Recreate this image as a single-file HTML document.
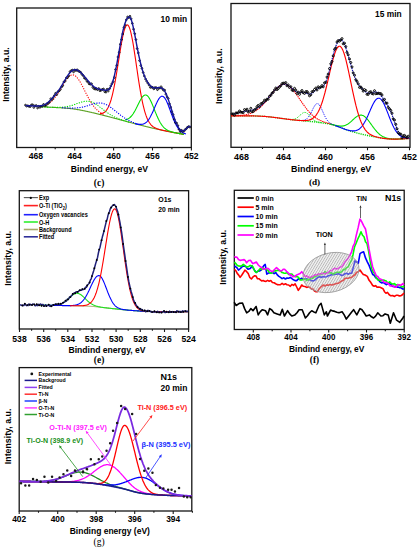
<!DOCTYPE html>
<html><head><meta charset="utf-8"><style>
html,body{margin:0;padding:0;background:#fff;}
body{width:420px;height:550px;overflow:hidden;}
svg{display:block;}
</style></head><body>
<svg width="420" height="550" viewBox="0 0 420 550">
<rect width="420" height="550" fill="#fff"/>
<rect x="16.7" y="8" width="174.6" height="139.5" fill="none" stroke="#151515" stroke-width="1.3"/>
<path d="M35.8 147.5 V150.5 M74.7 147.5 V150.5 M113.6 147.5 V150.5 M152.5 147.5 V150.5 M191.4 147.5 V150.5 M55.2 147.5 V149.3 M94.1 147.5 V149.3 M133.1 147.5 V149.3 M171.9 147.5 V149.3 " stroke="#1a1a1a" stroke-width="1.1" fill="none"/>
<text transform="translate(35.8,159.2) scale(1,1.03)" font-family="Liberation Sans" font-size="8.6" font-weight="bold" text-anchor="middle" fill="#000" >468</text>
<text transform="translate(74.7,159.2) scale(1,1.03)" font-family="Liberation Sans" font-size="8.6" font-weight="bold" text-anchor="middle" fill="#000" >464</text>
<text transform="translate(113.6,159.2) scale(1,1.03)" font-family="Liberation Sans" font-size="8.6" font-weight="bold" text-anchor="middle" fill="#000" >460</text>
<text transform="translate(152.5,159.2) scale(1,1.03)" font-family="Liberation Sans" font-size="8.6" font-weight="bold" text-anchor="middle" fill="#000" >456</text>
<text transform="translate(191.4,159.2) scale(1,1.03)" font-family="Liberation Sans" font-size="8.6" font-weight="bold" text-anchor="middle" fill="#000" >452</text>
<text transform="translate(109.4,171.7) scale(1,1.08)" font-family="Liberation Sans" font-size="8.6" font-weight="bold" text-anchor="middle" fill="#000" >Bindind energy, eV</text>
<text transform="translate(6.4,74.6) rotate(-90) scale(1,0.95)" x="0" y="0" dy="0.36em" font-family="Liberation Sans" font-size="8.6" font-weight="bold" text-anchor="middle">Intensity, a.u.</text>
<text transform="translate(160.5,22) scale(1,1.08)" font-family="Liberation Sans" font-size="8.4" font-weight="bold" text-anchor="start" fill="#000" >10 min</text>
<text transform="translate(99.1,185.5) scale(1,1)" font-family="Liberation Serif" font-size="9.5" font-weight="bold" text-anchor="middle" fill="#000" >(c)</text>
<path d="M40 106.5 L40.5 106.6 L41 106.6 L41.5 106.7 L42 106.7 L42.5 106.7 L43 106.8 L43.5 106.8 L44 106.9 L44.5 106.9 L45 106.9 L45.5 107 L46 107 L46.5 107 L47 107.1 L47.5 107.1 L48 107.1 L48.5 107.1 L49 107.2 L49.5 107.2 L50 107.2 L50.5 107.3 L51 107.3 L51.5 107.3 L52 107.3 L52.5 107.4 L53 107.4 L53.5 107.4 L54 107.4 L54.5 107.5 L55 107.5 L55.5 107.5 L56 107.5 L56.5 107.6 L57 107.6 L57.5 107.6 L58 107.7 L58.5 107.7 L59 107.7 L59.5 107.7 L60 107.8 L60.5 107.8 L61 107.8 L61.5 107.9 L62 107.9 L62.5 107.9 L63 108 L63.5 108 L64 108 L64.5 108.1 L65 108.1 L65.5 108.1 L66 108.2 L66.5 108.2 L67 108.3 L67.5 108.3 L68 108.4 L68.5 108.4 L69 108.4 L69.5 108.5 L70 108.5 L70.5 108.6 L71 108.7 L71.5 108.7 L72 108.8 L72.5 108.8 L73 108.9 L73.5 109 L74 109 L74.5 109.1 L75 109.2 L75.5 109.2 L76 109.3 L76.5 109.4 L77 109.5 L77.5 109.6 L78 109.6 L78.5 109.7 L79 109.8 L79.5 109.9 L80 110 L80.5 110.1 L81 110.2 L81.5 110.3 L82 110.4 L82.5 110.5 L83 110.6 L83.5 110.7 L84 110.8 L84.5 110.9 L85 111 L85.5 111.1 L86 111.2 L86.5 111.3 L87 111.4 L87.5 111.5 L88 111.7 L88.5 111.8 L89 111.9 L89.5 112 L90 112.1 L90.5 112.2 L91 112.3 L91.5 112.4 L92 112.6 L92.5 112.7 L93 112.8 L93.5 112.9 L94 113 L94.5 113.1 L95 113.3 L95.5 113.4 L96 113.5 L96.5 113.6 L97 113.7 L97.5 113.9 L98 114 L98.5 114.1 L99 114.2 L99.5 114.4 L100 114.5 L100.5 114.6 L101 114.7 L101.5 114.8 L102 115 L102.5 115.1 L103 115.2 L103.5 115.4 L104 115.5 L104.5 115.6 L105 115.7 L105.5 115.9 L106 116 L106.5 116.1 L107 116.3 L107.5 116.4 L108 116.5 L108.5 116.7 L109 116.8 L109.5 116.9 L110 117 L110.5 117.2 L111 117.3 L111.5 117.4 L112 117.6 L112.5 117.7 L113 117.8 L113.5 118 L114 118.1 L114.5 118.2 L115 118.4 L115.5 118.5 L116 118.6 L116.5 118.8 L117 118.9 L117.5 119 L118 119.2 L118.5 119.3 L119 119.5 L119.5 119.6 L120 119.7 L120.5 119.9 L121 120 L121.5 120.1 L122 120.3 L122.5 120.4 L123 120.5 L123.5 120.7 L124 120.8 L124.5 120.9 L125 121.1 L125.5 121.2 L126 121.3 L126.5 121.5 L127 121.6 L127.5 121.7 L128 121.9 L128.5 122 L129 122.1 L129.5 122.3 L130 122.4 L130.5 122.5 L131 122.7 L131.5 122.8 L132 122.9 L132.5 123.1 L133 123.2 L133.5 123.3 L134 123.5 L134.5 123.6 L135 123.7 L135.5 123.9 L136 124 L136.5 124.1 L137 124.3 L137.5 124.4 L138 124.5 L138.5 124.7 L139 124.8 L139.5 124.9 L140 125 L140.5 125.2 L141 125.3 L141.5 125.4 L142 125.5 L142.5 125.7 L143 125.8 L143.5 125.9 L144 126 L144.5 126.2 L145 126.3 L145.5 126.4 L146 126.5 L146.5 126.7 L147 126.8 L147.5 126.9 L148 127 L148.5 127.1 L149 127.3 L149.5 127.4 L150 127.5 L150.5 127.6 L151 127.7 L151.5 127.9 L152 128 L152.5 128.1 L153 128.2 L153.5 128.3 L154 128.4 L154.5 128.5 L155 128.7 L155.5 128.8 L156 128.9 L156.5 129 L157 129.1 L157.5 129.2 L158 129.3 L158.5 129.4 L159 129.5 L159.5 129.6 L160 129.8 L160.5 129.9 L161 130 L161.5 130.1 L162 130.2 L162.5 130.3 L163 130.4 L163.5 130.5 L164 130.6 L164.5 130.7 L165 130.8 L165.5 130.9 L166 131 L166.5 131.1 L167 131.2 L167.5 131.3 L168 131.4 L168.5 131.5 L169 131.6 L169.5 131.7 L170 131.8 L170.5 131.9 L171 132 L171.5 132.1 L172 132.2 L172.5 132.3 L173 132.4 L173.5 132.5 L174 132.6 L174.5 132.7 L175 132.8 L175.5 132.8 L176 132.9 L176.5 133 L177 133.1 L177.5 133.2 L178 133.3 L178.5 133.4 L179 133.5 L179.5 133.6 L180 133.7 L180.5 133.7 L181 133.8 L181.5 133.9 L182 134 L182.5 134.1 L183 134.1 L183.5 134.2 L184 134.3" stroke="#5aa020" stroke-width="1.1" fill="none" stroke-linejoin="round" />
<path d="M45 105.2 L45.5 105 L46 104.8 L46.5 104.6 L47 104.4 L47.5 104.2 L48 103.9 L48.5 103.6 L49 103.3 L49.5 103 L50 102.6 L50.5 102.2 L51 101.8 L51.5 101.4 L52 100.9 L52.5 100.4 L53 99.9 L53.5 99.3 L54 98.8 L54.5 98.1 L55 97.5 L55.5 96.8 L56 96.1 L56.5 95.4 L57 94.7 L57.5 93.9 L58 93.1 L58.5 92.3 L59 91.5 L59.5 90.7 L60 89.8 L60.5 89 L61 88.1 L61.5 87.2 L62 86.4 L62.5 85.5 L63 84.7 L63.5 83.8 L64 83 L64.5 82.2 L65 81.4 L65.5 80.7 L66 79.9 L66.5 79.2 L67 78.6 L67.5 78 L68 77.4 L68.5 76.9 L69 76.4 L69.5 76 L70 75.7 L70.5 75.4 L71 75.2 L71.5 75 L72 74.9 L72.5 74.9 L73 74.9 L73.5 75 L74 75.2 L74.5 75.4 L75 75.7 L75.5 76 L76 76.4 L76.5 76.9 L77 77.5 L77.5 78.1 L78 78.7 L78.5 79.4 L79 80.1 L79.5 80.9 L80 81.7 L80.5 82.6 L81 83.5 L81.5 84.4 L82 85.4 L82.5 86.3 L83 87.3 L83.5 88.3 L84 89.3 L84.5 90.3 L85 91.3 L85.5 92.3 L86 93.3 L86.5 94.3 L87 95.2 L87.5 96.2 L88 97.1 L88.5 98.1 L89 99 L89.5 99.8 L90 100.7 L90.5 101.5 L91 102.3 L91.5 103.1 L92 103.9 L92.5 104.6 L93 105.3 L93.5 106 L94 106.6 L94.5 107.2 L95 107.8 L95.5 108.4 L96 108.9 L96.5 109.4 L97 109.9 L97.5 110.3 L98 110.8 L98.5 111.2 L99 111.6 L99.5 112 L100 112.3 L100.5 112.7 L101 113 L101.5 113.3 L102 113.6 L102.5 113.8 L103 114.1 L103.5 114.3 L104 114.6" stroke="#ff0000" stroke-width="1.1" fill="none" stroke-linejoin="round" stroke-dasharray="1.2 1.3" />
<path d="M100 113.7 L100.5 113.6 L101 113.6 L101.5 113.5 L102 113.4 L102.5 113.2 L103 113 L103.5 112.8 L104 112.5 L104.5 112.2 L105 111.8 L105.5 111.3 L106 110.8 L106.5 110.1 L107 109.4 L107.5 108.6 L108 107.7 L108.5 106.7 L109 105.6 L109.5 104.4 L110 103 L110.5 101.6 L111 100 L111.5 98.2 L112 96.3 L112.5 94.3 L113 92.2 L113.5 89.9 L114 87.5 L114.5 84.9 L115 82.3 L115.5 79.5 L116 76.6 L116.5 73.7 L117 70.6 L117.5 67.6 L118 64.4 L118.5 61.3 L119 58.1 L119.5 55 L120 51.9 L120.5 48.8 L121 45.9 L121.5 43 L122 40.3 L122.5 37.7 L123 35.3 L123.5 33.2 L124 31.2 L124.5 29.5 L125 28 L125.5 26.8 L126 25.9 L126.5 25.3 L127 25 L127.5 24.9 L128 25.2 L128.5 25.8 L129 26.7 L129.5 27.9 L130 29.4 L130.5 31.1 L131 33.1 L131.5 35.3 L132 37.8 L132.5 40.4 L133 43.2 L133.5 46.2 L134 49.3 L134.5 52.6 L135 55.9 L135.5 59.2 L136 62.7 L136.5 66.1 L137 69.5 L137.5 72.9 L138 76.3 L138.5 79.6 L139 82.8 L139.5 85.9 L140 88.9 L140.5 91.9 L141 94.7 L141.5 97.3 L142 99.9 L142.5 102.3 L143 104.6 L143.5 106.7 L144 108.7 L144.5 110.6 L145 112.3 L145.5 113.9 L146 115.4 L146.5 116.7 L147 118 L147.5 119.2 L148 120.2 L148.5 121.2 L149 122 L149.5 122.8 L150 123.5 L150.5 124.2 L151 124.8 L151.5 125.3 L152 125.8 L152.5 126.2 L153 126.6 L153.5 127 L154 127.3 L154.5 127.6 L155 127.8 L155.5 128.1 L156 128.3 L156.5 128.5 L157 128.7 L157.5 128.9 L158 129 L158.5 129.2 L159 129.4 L159.5 129.5 L160 129.6 L160.5 129.8 L161 129.9 L161.5 130 L162 130.1 L162.5 130.2 L163 130.4 L163.5 130.5 L164 130.6 L164.5 130.7 L165 130.8 L165.5 130.9 L166 131 L166.5 131.1 L167 131.2 L167.5 131.3 L168 131.4 L168.5 131.5 L169 131.6 L169.5 131.7 L170 131.8 L170.5 131.9 L171 132 L171.5 132.1 L172 132.2 L172.5 132.3 L173 132.4 L173.5 132.5 L174 132.6 L174.5 132.7 L175 132.8 L175.5 132.8 L176 132.9 L176.5 133 L177 133.1 L177.5 133.2 L178 133.3 L178.5 133.4 L179 133.5 L179.5 133.6 L180 133.7 L180.5 133.7 L181 133.8 L181.5 133.9 L182 134 L182.5 134.1 L183 134.1 L183.5 134.2 L184 134.3" stroke="#ff0000" stroke-width="1.1" fill="none" stroke-linejoin="round" />
<path d="M42 106.7 L42.5 106.7 L43 106.8 L43.5 106.8 L44 106.8 L44.5 106.9 L45 106.9 L45.5 106.9 L46 107 L46.5 107 L47 107 L47.5 107.1 L48 107.1 L48.5 107.1 L49 107.1 L49.5 107.2 L50 107.2 L50.5 107.2 L51 107.2 L51.5 107.2 L52 107.3 L52.5 107.3 L53 107.3 L53.5 107.3 L54 107.3 L54.5 107.3 L55 107.3 L55.5 107.3 L56 107.4 L56.5 107.4 L57 107.4 L57.5 107.4 L58 107.4 L58.5 107.3 L59 107.3 L59.5 107.3 L60 107.3 L60.5 107.3 L61 107.3 L61.5 107.2 L62 107.2 L62.5 107.2 L63 107.1 L63.5 107.1 L64 107 L64.5 107 L65 106.9 L65.5 106.8 L66 106.8 L66.5 106.7 L67 106.6 L67.5 106.5 L68 106.4 L68.5 106.3 L69 106.2 L69.5 106.1 L70 105.9 L70.5 105.8 L71 105.7 L71.5 105.5 L72 105.4 L72.5 105.2 L73 105 L73.5 104.9 L74 104.7 L74.5 104.5 L75 104.4 L75.5 104.2 L76 104 L76.5 103.8 L77 103.6 L77.5 103.4 L78 103.3 L78.5 103.1 L79 102.9 L79.5 102.7 L80 102.6 L80.5 102.4 L81 102.3 L81.5 102.1 L82 102 L82.5 101.9 L83 101.7 L83.5 101.6 L84 101.5 L84.5 101.4 L85 101.4 L85.5 101.3 L86 101.3 L86.5 101.3 L87 101.3 L87.5 101.3 L88 101.3 L88.5 101.3 L89 101.4 L89.5 101.5 L90 101.6 L90.5 101.7 L91 101.9 L91.5 102 L92 102.2 L92.5 102.4 L93 102.6 L93.5 102.8 L94 103.1 L94.5 103.3 L95 103.6 L95.5 103.9 L96 104.2 L96.5 104.5 L97 104.9 L97.5 105.2 L98 105.6 L98.5 105.9 L99 106.3 L99.5 106.7 L100 107.1 L100.5 107.4 L101 107.8 L101.5 108.2 L102 108.6 L102.5 109 L103 109.4 L103.5 109.8 L104 110.2 L104.5 110.6 L105 110.9 L105.5 111.3 L106 111.7 L106.5 112 L107 112.4 L107.5 112.8 L108 113.1 L108.5 113.5 L109 113.8 L109.5 114.1 L110 114.4 L110.5 114.7 L111 115 L111.5 115.3 L112 115.6 L112.5 115.9 L113 116.2 L113.5 116.4 L114 116.7 L114.5 116.9 L115 117.2 L115.5 117.4 L116 117.6 L116.5 117.9 L117 118.1 L117.5 118.3 L118 118.5 L118.5 118.7 L119 118.9 L119.5 119.1 L120 119.3 L120.5 119.4 L121 119.6 L121.5 119.8 L122 120 L122.5 120.1 L123 120.3 L123.5 120.5 L124 120.6 L124.5 120.8 L125 120.9 L125.5 121.1 L126 121.2 L126.5 121.4 L127 121.5 L127.5 121.7 L128 121.8 L128.5 122 L129 122.1 L129.5 122.2 L130 122.4" stroke="#00e000" stroke-width="1.1" fill="none" stroke-linejoin="round" stroke-dasharray="1.2 1.3" />
<path d="M125 119.8 L125.5 119.7 L126 119.6 L126.5 119.5 L127 119.3 L127.5 119.1 L128 118.9 L128.5 118.6 L129 118.3 L129.5 117.9 L130 117.5 L130.5 117 L131 116.5 L131.5 116 L132 115.4 L132.5 114.7 L133 114 L133.5 113.2 L134 112.4 L134.5 111.5 L135 110.7 L135.5 109.7 L136 108.8 L136.5 107.8 L137 106.8 L137.5 105.7 L138 104.7 L138.5 103.7 L139 102.7 L139.5 101.7 L140 100.8 L140.5 99.9 L141 99 L141.5 98.2 L142 97.5 L142.5 96.9 L143 96.3 L143.5 95.8 L144 95.4 L144.5 95.2 L145 95 L145.5 95 L146 95 L146.5 95.2 L147 95.5 L147.5 95.9 L148 96.4 L148.5 97 L149 97.8 L149.5 98.6 L150 99.5 L150.5 100.4 L151 101.5 L151.5 102.6 L152 103.7 L152.5 104.9 L153 106.1 L153.5 107.4 L154 108.6 L154.5 109.9 L155 111.2 L155.5 112.4 L156 113.6 L156.5 114.8 L157 116 L157.5 117.1 L158 118.2 L158.5 119.3 L159 120.3 L159.5 121.3 L160 122.2 L160.5 123 L161 123.8 L161.5 124.6 L162 125.3 L162.5 125.9 L163 126.5 L163.5 127.1 L164 127.6 L164.5 128.1 L165 128.5 L165.5 128.9 L166 129.3 L166.5 129.6 L167 129.9 L167.5 130.2 L168 130.5 L168.5 130.7 L169 130.9 L169.5 131.1 L170 131.3 L170.5 131.5 L171 131.7 L171.5 131.8 L172 132 L172.5 132.1 L173 132.2 L173.5 132.3 L174 132.5 L174.5 132.6 L175 132.7 L175.5 132.8 L176 132.9 L176.5 133 L177 133.1 L177.5 133.2 L178 133.3 L178.5 133.4 L179 133.5 L179.5 133.6 L180 133.6 L180.5 133.7 L181 133.8 L181.5 133.9 L182 134 L182.5 134.1 L183 134.1 L183.5 134.2 L184 134.2" stroke="#00e000" stroke-width="1.1" fill="none" stroke-linejoin="round" />
<path d="M62 107.8 L62.5 107.8 L63 107.8 L63.5 107.9 L64 107.9 L64.5 107.9 L65 107.9 L65.5 108 L66 108 L66.5 108 L67 108 L67.5 108 L68 108 L68.5 108 L69 108.1 L69.5 108.1 L70 108.1 L70.5 108.1 L71 108.1 L71.5 108.1 L72 108.1 L72.5 108.1 L73 108.1 L73.5 108.1 L74 108 L74.5 108 L75 108 L75.5 108 L76 107.9 L76.5 107.9 L77 107.9 L77.5 107.8 L78 107.8 L78.5 107.7 L79 107.7 L79.5 107.6 L80 107.5 L80.5 107.5 L81 107.4 L81.5 107.3 L82 107.2 L82.5 107.1 L83 107 L83.5 106.9 L84 106.7 L84.5 106.6 L85 106.5 L85.5 106.3 L86 106.2 L86.5 106.1 L87 105.9 L87.5 105.7 L88 105.6 L88.5 105.4 L89 105.3 L89.5 105.1 L90 104.9 L90.5 104.8 L91 104.6 L91.5 104.5 L92 104.3 L92.5 104.2 L93 104 L93.5 103.9 L94 103.7 L94.5 103.6 L95 103.5 L95.5 103.4 L96 103.3 L96.5 103.2 L97 103.1 L97.5 103.1 L98 103 L98.5 103 L99 103 L99.5 103 L100 103 L100.5 103 L101 103.1 L101.5 103.1 L102 103.2 L102.5 103.3 L103 103.4 L103.5 103.6 L104 103.7 L104.5 103.9 L105 104.1 L105.5 104.3 L106 104.5 L106.5 104.7 L107 105 L107.5 105.3 L108 105.6 L108.5 105.9 L109 106.2 L109.5 106.5 L110 106.8 L110.5 107.2 L111 107.5 L111.5 107.9 L112 108.3 L112.5 108.7 L113 109.1 L113.5 109.5 L114 109.9 L114.5 110.3 L115 110.7 L115.5 111.1 L116 111.5 L116.5 111.9 L117 112.3 L117.5 112.7 L118 113.1 L118.5 113.5 L119 113.9 L119.5 114.3 L120 114.7 L120.5 115.1 L121 115.5 L121.5 115.8 L122 116.2 L122.5 116.6 L123 116.9 L123.5 117.3 L124 117.6 L124.5 117.9 L125 118.3 L125.5 118.6 L126 118.9 L126.5 119.2 L127 119.5 L127.5 119.7 L128 120 L128.5 120.3 L129 120.6 L129.5 120.8 L130 121.1 L130.5 121.3 L131 121.5 L131.5 121.7 L132 122 L132.5 122.2 L133 122.4 L133.5 122.6 L134 122.8 L134.5 123 L135 123.2 L135.5 123.4 L136 123.5 L136.5 123.7 L137 123.9 L137.5 124 L138 124.2 L138.5 124.4 L139 124.5 L139.5 124.7 L140 124.8" stroke="#0000ff" stroke-width="1.1" fill="none" stroke-linejoin="round" stroke-dasharray="1.2 1.3" />
<path d="M135 123.6 L135.5 123.8 L136 123.9 L136.5 124 L137 124.1 L137.5 124.1 L138 124.2 L138.5 124.3 L139 124.3 L139.5 124.4 L140 124.4 L140.5 124.4 L141 124.4 L141.5 124.3 L142 124.3 L142.5 124.2 L143 124.1 L143.5 123.9 L144 123.7 L144.5 123.5 L145 123.2 L145.5 122.9 L146 122.5 L146.5 122.1 L147 121.6 L147.5 121 L148 120.4 L148.5 119.8 L149 119.1 L149.5 118.3 L150 117.5 L150.5 116.6 L151 115.6 L151.5 114.6 L152 113.6 L152.5 112.5 L153 111.4 L153.5 110.3 L154 109.1 L154.5 107.9 L155 106.7 L155.5 105.6 L156 104.4 L156.5 103.3 L157 102.3 L157.5 101.2 L158 100.3 L158.5 99.4 L159 98.6 L159.5 98 L160 97.4 L160.5 96.9 L161 96.6 L161.5 96.3 L162 96.2 L162.5 96.3 L163 96.5 L163.5 96.8 L164 97.2 L164.5 97.7 L165 98.4 L165.5 99.2 L166 100.1 L166.5 101.1 L167 102.2 L167.5 103.3 L168 104.6 L168.5 105.8 L169 107.2 L169.5 108.5 L170 109.9 L170.5 111.3 L171 112.7 L171.5 114 L172 115.4 L172.5 116.7 L173 118 L173.5 119.3 L174 120.5 L174.5 121.6 L175 122.7 L175.5 123.8 L176 124.8 L176.5 125.7 L177 126.5 L177.5 127.3 L178 128.1 L178.5 128.8 L179 129.4 L179.5 130 L180 130.5 L180.5 131 L181 131.5 L181.5 131.9 L182 132.3 L182.5 132.6 L183 132.9 L183.5 133.1 L184 133.3 L184.5 133.5 L185 133.7 L185.5 133.8 L186 133.9" stroke="#0000ff" stroke-width="1.1" fill="none" stroke-linejoin="round" />
<path d="M24.6 105.1 a0.85 0.85 0 1 0 1.7 0 a0.85 0.85 0 1 0 -1.7 0 M25.8 106.1 a0.85 0.85 0 1 0 1.7 0 a0.85 0.85 0 1 0 -1.7 0 M27 105.7 a0.85 0.85 0 1 0 1.7 0 a0.85 0.85 0 1 0 -1.7 0 M28.2 106.5 a0.85 0.85 0 1 0 1.7 0 a0.85 0.85 0 1 0 -1.7 0 M29.4 106.6 a0.85 0.85 0 1 0 1.7 0 a0.85 0.85 0 1 0 -1.7 0 M30.6 104.9 a0.85 0.85 0 1 0 1.7 0 a0.85 0.85 0 1 0 -1.7 0 M31.8 104.8 a0.85 0.85 0 1 0 1.7 0 a0.85 0.85 0 1 0 -1.7 0 M33 107.5 a0.85 0.85 0 1 0 1.7 0 a0.85 0.85 0 1 0 -1.7 0 M34.2 105.7 a0.85 0.85 0 1 0 1.7 0 a0.85 0.85 0 1 0 -1.7 0 M35.5 105.6 a0.85 0.85 0 1 0 1.7 0 a0.85 0.85 0 1 0 -1.7 0 M36.7 108 a0.85 0.85 0 1 0 1.7 0 a0.85 0.85 0 1 0 -1.7 0 M37.9 106.3 a0.85 0.85 0 1 0 1.7 0 a0.85 0.85 0 1 0 -1.7 0 M39.1 107.4 a0.85 0.85 0 1 0 1.7 0 a0.85 0.85 0 1 0 -1.7 0 M40.3 106.1 a0.85 0.85 0 1 0 1.7 0 a0.85 0.85 0 1 0 -1.7 0 M41.5 106.3 a0.85 0.85 0 1 0 1.7 0 a0.85 0.85 0 1 0 -1.7 0 M42.7 104.4 a0.85 0.85 0 1 0 1.7 0 a0.85 0.85 0 1 0 -1.7 0 M43.9 105.5 a0.85 0.85 0 1 0 1.7 0 a0.85 0.85 0 1 0 -1.7 0 M45.1 105.5 a0.85 0.85 0 1 0 1.7 0 a0.85 0.85 0 1 0 -1.7 0 M46.3 103.6 a0.85 0.85 0 1 0 1.7 0 a0.85 0.85 0 1 0 -1.7 0 M47.5 103.3 a0.85 0.85 0 1 0 1.7 0 a0.85 0.85 0 1 0 -1.7 0 M48.7 101.9 a0.85 0.85 0 1 0 1.7 0 a0.85 0.85 0 1 0 -1.7 0 M49.9 98.8 a0.85 0.85 0 1 0 1.7 0 a0.85 0.85 0 1 0 -1.7 0 M51.1 99.7 a0.85 0.85 0 1 0 1.7 0 a0.85 0.85 0 1 0 -1.7 0 M52.3 97.9 a0.85 0.85 0 1 0 1.7 0 a0.85 0.85 0 1 0 -1.7 0 M53.5 95.6 a0.85 0.85 0 1 0 1.7 0 a0.85 0.85 0 1 0 -1.7 0 M54.7 93.3 a0.85 0.85 0 1 0 1.7 0 a0.85 0.85 0 1 0 -1.7 0 M55.9 94.6 a0.85 0.85 0 1 0 1.7 0 a0.85 0.85 0 1 0 -1.7 0 M57.1 91.7 a0.85 0.85 0 1 0 1.7 0 a0.85 0.85 0 1 0 -1.7 0 M58.3 90.8 a0.85 0.85 0 1 0 1.7 0 a0.85 0.85 0 1 0 -1.7 0 M59.5 89.5 a0.85 0.85 0 1 0 1.7 0 a0.85 0.85 0 1 0 -1.7 0 M60.7 87 a0.85 0.85 0 1 0 1.7 0 a0.85 0.85 0 1 0 -1.7 0 M61.9 85.6 a0.85 0.85 0 1 0 1.7 0 a0.85 0.85 0 1 0 -1.7 0 M63.1 81.9 a0.85 0.85 0 1 0 1.7 0 a0.85 0.85 0 1 0 -1.7 0 M64.3 81.1 a0.85 0.85 0 1 0 1.7 0 a0.85 0.85 0 1 0 -1.7 0 M65.5 77.9 a0.85 0.85 0 1 0 1.7 0 a0.85 0.85 0 1 0 -1.7 0 M66.7 77.6 a0.85 0.85 0 1 0 1.7 0 a0.85 0.85 0 1 0 -1.7 0 M67.9 75.8 a0.85 0.85 0 1 0 1.7 0 a0.85 0.85 0 1 0 -1.7 0 M69.1 71.8 a0.85 0.85 0 1 0 1.7 0 a0.85 0.85 0 1 0 -1.7 0 M70.3 70.7 a0.85 0.85 0 1 0 1.7 0 a0.85 0.85 0 1 0 -1.7 0 M71.5 70.1 a0.85 0.85 0 1 0 1.7 0 a0.85 0.85 0 1 0 -1.7 0 M72.7 71.9 a0.85 0.85 0 1 0 1.7 0 a0.85 0.85 0 1 0 -1.7 0 M73.9 69.9 a0.85 0.85 0 1 0 1.7 0 a0.85 0.85 0 1 0 -1.7 0 M75.1 70.6 a0.85 0.85 0 1 0 1.7 0 a0.85 0.85 0 1 0 -1.7 0 M76.3 69.8 a0.85 0.85 0 1 0 1.7 0 a0.85 0.85 0 1 0 -1.7 0 M77.5 71.1 a0.85 0.85 0 1 0 1.7 0 a0.85 0.85 0 1 0 -1.7 0 M78.7 71.5 a0.85 0.85 0 1 0 1.7 0 a0.85 0.85 0 1 0 -1.7 0 M79.9 72.4 a0.85 0.85 0 1 0 1.7 0 a0.85 0.85 0 1 0 -1.7 0 M81.1 74.3 a0.85 0.85 0 1 0 1.7 0 a0.85 0.85 0 1 0 -1.7 0 M82.3 75.6 a0.85 0.85 0 1 0 1.7 0 a0.85 0.85 0 1 0 -1.7 0 M83.5 78 a0.85 0.85 0 1 0 1.7 0 a0.85 0.85 0 1 0 -1.7 0 M84.7 78.7 a0.85 0.85 0 1 0 1.7 0 a0.85 0.85 0 1 0 -1.7 0 M85.9 80.9 a0.85 0.85 0 1 0 1.7 0 a0.85 0.85 0 1 0 -1.7 0 M87.1 82.1 a0.85 0.85 0 1 0 1.7 0 a0.85 0.85 0 1 0 -1.7 0 M88.3 83.9 a0.85 0.85 0 1 0 1.7 0 a0.85 0.85 0 1 0 -1.7 0 M89.5 84.2 a0.85 0.85 0 1 0 1.7 0 a0.85 0.85 0 1 0 -1.7 0 M90.7 83.8 a0.85 0.85 0 1 0 1.7 0 a0.85 0.85 0 1 0 -1.7 0 M91.9 87.2 a0.85 0.85 0 1 0 1.7 0 a0.85 0.85 0 1 0 -1.7 0 M93.1 88.5 a0.85 0.85 0 1 0 1.7 0 a0.85 0.85 0 1 0 -1.7 0 M94.3 89.2 a0.85 0.85 0 1 0 1.7 0 a0.85 0.85 0 1 0 -1.7 0 M95.5 88.8 a0.85 0.85 0 1 0 1.7 0 a0.85 0.85 0 1 0 -1.7 0 M96.7 89.7 a0.85 0.85 0 1 0 1.7 0 a0.85 0.85 0 1 0 -1.7 0 M97.9 88.5 a0.85 0.85 0 1 0 1.7 0 a0.85 0.85 0 1 0 -1.7 0 M99.1 90.8 a0.85 0.85 0 1 0 1.7 0 a0.85 0.85 0 1 0 -1.7 0 M100.3 90.2 a0.85 0.85 0 1 0 1.7 0 a0.85 0.85 0 1 0 -1.7 0 M101.5 89.4 a0.85 0.85 0 1 0 1.7 0 a0.85 0.85 0 1 0 -1.7 0 M102.7 89 a0.85 0.85 0 1 0 1.7 0 a0.85 0.85 0 1 0 -1.7 0 M103.9 91.7 a0.85 0.85 0 1 0 1.7 0 a0.85 0.85 0 1 0 -1.7 0 M105.1 92.2 a0.85 0.85 0 1 0 1.7 0 a0.85 0.85 0 1 0 -1.7 0 M106.3 89.2 a0.85 0.85 0 1 0 1.7 0 a0.85 0.85 0 1 0 -1.7 0 M107.5 91 a0.85 0.85 0 1 0 1.7 0 a0.85 0.85 0 1 0 -1.7 0 M108.7 88.6 a0.85 0.85 0 1 0 1.7 0 a0.85 0.85 0 1 0 -1.7 0 M109.9 85.9 a0.85 0.85 0 1 0 1.7 0 a0.85 0.85 0 1 0 -1.7 0 M111.1 83.7 a0.85 0.85 0 1 0 1.7 0 a0.85 0.85 0 1 0 -1.7 0 M112.3 81.7 a0.85 0.85 0 1 0 1.7 0 a0.85 0.85 0 1 0 -1.7 0 M113.5 77.5 a0.85 0.85 0 1 0 1.7 0 a0.85 0.85 0 1 0 -1.7 0 M114.7 69.5 a0.85 0.85 0 1 0 1.7 0 a0.85 0.85 0 1 0 -1.7 0 M115.9 65.3 a0.85 0.85 0 1 0 1.7 0 a0.85 0.85 0 1 0 -1.7 0 M117.1 57 a0.85 0.85 0 1 0 1.7 0 a0.85 0.85 0 1 0 -1.7 0 M118.3 52.3 a0.85 0.85 0 1 0 1.7 0 a0.85 0.85 0 1 0 -1.7 0 M119.5 44.3 a0.85 0.85 0 1 0 1.7 0 a0.85 0.85 0 1 0 -1.7 0 M120.7 39.6 a0.85 0.85 0 1 0 1.7 0 a0.85 0.85 0 1 0 -1.7 0 M121.9 34 a0.85 0.85 0 1 0 1.7 0 a0.85 0.85 0 1 0 -1.7 0 M123.1 27.5 a0.85 0.85 0 1 0 1.7 0 a0.85 0.85 0 1 0 -1.7 0 M124.3 25 a0.85 0.85 0 1 0 1.7 0 a0.85 0.85 0 1 0 -1.7 0 M125.5 19.8 a0.85 0.85 0 1 0 1.7 0 a0.85 0.85 0 1 0 -1.7 0 M126.7 17 a0.85 0.85 0 1 0 1.7 0 a0.85 0.85 0 1 0 -1.7 0 M127.9 17.7 a0.85 0.85 0 1 0 1.7 0 a0.85 0.85 0 1 0 -1.7 0 M129.1 16.2 a0.85 0.85 0 1 0 1.7 0 a0.85 0.85 0 1 0 -1.7 0 M130.3 18.8 a0.85 0.85 0 1 0 1.7 0 a0.85 0.85 0 1 0 -1.7 0 M131.5 23.4 a0.85 0.85 0 1 0 1.7 0 a0.85 0.85 0 1 0 -1.7 0 M132.7 29.2 a0.85 0.85 0 1 0 1.7 0 a0.85 0.85 0 1 0 -1.7 0 M133.9 33.7 a0.85 0.85 0 1 0 1.7 0 a0.85 0.85 0 1 0 -1.7 0 M135.1 39.6 a0.85 0.85 0 1 0 1.7 0 a0.85 0.85 0 1 0 -1.7 0 M136.3 48.6 a0.85 0.85 0 1 0 1.7 0 a0.85 0.85 0 1 0 -1.7 0 M137.5 52.9 a0.85 0.85 0 1 0 1.7 0 a0.85 0.85 0 1 0 -1.7 0 M138.7 60.6 a0.85 0.85 0 1 0 1.7 0 a0.85 0.85 0 1 0 -1.7 0 M139.9 65.5 a0.85 0.85 0 1 0 1.7 0 a0.85 0.85 0 1 0 -1.7 0 M141.1 68.3 a0.85 0.85 0 1 0 1.7 0 a0.85 0.85 0 1 0 -1.7 0 M142.3 72.5 a0.85 0.85 0 1 0 1.7 0 a0.85 0.85 0 1 0 -1.7 0 M143.5 76 a0.85 0.85 0 1 0 1.7 0 a0.85 0.85 0 1 0 -1.7 0 M144.7 79.1 a0.85 0.85 0 1 0 1.7 0 a0.85 0.85 0 1 0 -1.7 0 M145.9 81.3 a0.85 0.85 0 1 0 1.7 0 a0.85 0.85 0 1 0 -1.7 0 M147.1 83.2 a0.85 0.85 0 1 0 1.7 0 a0.85 0.85 0 1 0 -1.7 0 M148.3 85.1 a0.85 0.85 0 1 0 1.7 0 a0.85 0.85 0 1 0 -1.7 0 M149.5 87.4 a0.85 0.85 0 1 0 1.7 0 a0.85 0.85 0 1 0 -1.7 0 M150.7 87.1 a0.85 0.85 0 1 0 1.7 0 a0.85 0.85 0 1 0 -1.7 0 M151.8 87.5 a0.85 0.85 0 1 0 1.7 0 a0.85 0.85 0 1 0 -1.7 0 M153 88.9 a0.85 0.85 0 1 0 1.7 0 a0.85 0.85 0 1 0 -1.7 0 M154.2 87.5 a0.85 0.85 0 1 0 1.7 0 a0.85 0.85 0 1 0 -1.7 0 M155.4 87.7 a0.85 0.85 0 1 0 1.7 0 a0.85 0.85 0 1 0 -1.7 0 M156.6 89.7 a0.85 0.85 0 1 0 1.7 0 a0.85 0.85 0 1 0 -1.7 0 M157.8 88.1 a0.85 0.85 0 1 0 1.7 0 a0.85 0.85 0 1 0 -1.7 0 M159 88.1 a0.85 0.85 0 1 0 1.7 0 a0.85 0.85 0 1 0 -1.7 0 M160.2 86.7 a0.85 0.85 0 1 0 1.7 0 a0.85 0.85 0 1 0 -1.7 0 M161.4 88.6 a0.85 0.85 0 1 0 1.7 0 a0.85 0.85 0 1 0 -1.7 0 M162.6 90.2 a0.85 0.85 0 1 0 1.7 0 a0.85 0.85 0 1 0 -1.7 0 M163.8 90.1 a0.85 0.85 0 1 0 1.7 0 a0.85 0.85 0 1 0 -1.7 0 M165 94.2 a0.85 0.85 0 1 0 1.7 0 a0.85 0.85 0 1 0 -1.7 0 M166.2 97 a0.85 0.85 0 1 0 1.7 0 a0.85 0.85 0 1 0 -1.7 0 M167.4 98.5 a0.85 0.85 0 1 0 1.7 0 a0.85 0.85 0 1 0 -1.7 0 M168.6 103.9 a0.85 0.85 0 1 0 1.7 0 a0.85 0.85 0 1 0 -1.7 0 M169.8 107.2 a0.85 0.85 0 1 0 1.7 0 a0.85 0.85 0 1 0 -1.7 0 M171 111.8 a0.85 0.85 0 1 0 1.7 0 a0.85 0.85 0 1 0 -1.7 0 M172.2 114.6 a0.85 0.85 0 1 0 1.7 0 a0.85 0.85 0 1 0 -1.7 0 M173.4 119.3 a0.85 0.85 0 1 0 1.7 0 a0.85 0.85 0 1 0 -1.7 0 M174.6 122.6 a0.85 0.85 0 1 0 1.7 0 a0.85 0.85 0 1 0 -1.7 0 M175.8 123.1 a0.85 0.85 0 1 0 1.7 0 a0.85 0.85 0 1 0 -1.7 0 M177 125.6 a0.85 0.85 0 1 0 1.7 0 a0.85 0.85 0 1 0 -1.7 0 M178.2 129.4 a0.85 0.85 0 1 0 1.7 0 a0.85 0.85 0 1 0 -1.7 0 M179.4 131.7 a0.85 0.85 0 1 0 1.7 0 a0.85 0.85 0 1 0 -1.7 0 M180.6 130.3 a0.85 0.85 0 1 0 1.7 0 a0.85 0.85 0 1 0 -1.7 0 M181.8 131.2 a0.85 0.85 0 1 0 1.7 0 a0.85 0.85 0 1 0 -1.7 0 M183 131.3 a0.85 0.85 0 1 0 1.7 0 a0.85 0.85 0 1 0 -1.7 0 M184.2 129.7 a0.85 0.85 0 1 0 1.7 0 a0.85 0.85 0 1 0 -1.7 0 M185.4 128.7 a0.85 0.85 0 1 0 1.7 0 a0.85 0.85 0 1 0 -1.7 0 M186.6 127.3 a0.85 0.85 0 1 0 1.7 0 a0.85 0.85 0 1 0 -1.7 0 M187.8 126.6 a0.85 0.85 0 1 0 1.7 0 a0.85 0.85 0 1 0 -1.7 0 M189 127.1 a0.85 0.85 0 1 0 1.7 0 a0.85 0.85 0 1 0 -1.7 0 " stroke="#000" stroke-width="0.9" fill="none"/>
<path d="M25.5 105.5 L26 105.6 L26.5 105.6 L27 105.6 L27.5 105.7 L28 105.7 L28.5 105.7 L29 105.8 L29.5 105.8 L30 105.8 L30.5 105.8 L31 105.9 L31.5 105.9 L32 105.9 L32.5 105.9 L33 106 L33.5 106 L34 106 L34.5 106 L35 106 L35.5 106 L36 106 L36.5 106.1 L37 106.1 L37.5 106 L38 106 L38.5 106 L39 106 L39.5 105.9 L40 105.9 L40.5 105.8 L41 105.8 L41.5 105.7 L42 105.6 L42.5 105.5 L43 105.3 L43.5 105.1 L44 104.9 L44.5 104.7 L45 104.5 L45.5 104.2 L46 103.9 L46.5 103.5 L47 103.2 L47.5 102.8 L48 102.4 L48.5 101.9 L49 101.5 L49.5 101 L50 100.5 L50.5 100 L51 99.5 L51.5 98.9 L52 98.4 L52.5 97.8 L53 97.3 L53.5 96.7 L54 96.2 L54.5 95.6 L55 95 L55.5 94.4 L56 93.8 L56.5 93.2 L57 92.6 L57.5 92 L58 91.3 L58.5 90.6 L59 89.9 L59.5 89.1 L60 88.4 L60.5 87.6 L61 86.8 L61.5 85.9 L62 85.1 L62.5 84.2 L63 83.4 L63.5 82.5 L64 81.6 L64.5 80.8 L65 79.9 L65.5 79.1 L66 78.2 L66.5 77.4 L67 76.6 L67.5 75.8 L68 75.1 L68.5 74.4 L69 73.8 L69.5 73.2 L70 72.6 L70.5 72.1 L71 71.6 L71.5 71.2 L72 70.8 L72.5 70.5 L73 70.2 L73.5 70 L74 69.9 L74.5 69.8 L75 69.7 L75.5 69.7 L76 69.8 L76.5 69.9 L77 70 L77.5 70.2 L78 70.5 L78.5 70.8 L79 71.1 L79.5 71.5 L80 71.9 L80.5 72.3 L81 72.8 L81.5 73.2 L82 73.8 L82.5 74.3 L83 74.8 L83.5 75.4 L84 76 L84.5 76.5 L85 77.1 L85.5 77.7 L86 78.3 L86.5 78.9 L87 79.5 L87.5 80.1 L88 80.7 L88.5 81.3 L89 81.8 L89.5 82.4 L90 82.9 L90.5 83.5 L91 84 L91.5 84.5 L92 85 L92.5 85.4 L93 85.9 L93.5 86.3 L94 86.7 L94.5 87.1 L95 87.4 L95.5 87.7 L96 88 L96.5 88.2 L97 88.5 L97.5 88.7 L98 88.8 L98.5 89 L99 89.1 L99.5 89.2 L100 89.3 L100.5 89.4 L101 89.5 L101.5 89.6 L102 89.7 L102.5 89.8 L103 89.9 L103.5 90 L104 90 L104.5 90.1 L105 90.2 L105.5 90.2 L106 90.3 L106.5 90.2 L107 90.1 L107.5 90 L108 89.8 L108.5 89.5 L109 89 L109.5 88.5 L110 87.8 L110.5 87 L111 86.1 L111.5 85 L112 83.7 L112.5 82.3 L113 80.7 L113.5 79 L114 77.1 L114.5 75.1 L115 72.9 L115.5 70.6 L116 68.1 L116.5 65.6 L117 63 L117.5 60.2 L118 57.5 L118.5 54.6 L119 51.8 L119.5 48.9 L120 46.1 L120.5 43.3 L121 40.6 L121.5 37.9 L122 35.4 L122.5 33 L123 30.7 L123.5 28.6 L124 26.7 L124.5 24.9 L125 23.3 L125.5 21.9 L126 20.6 L126.5 19.6 L127 18.7 L127.5 18 L128 17.4 L128.5 17.1 L129 16.9 L129.5 17.1 L130 17.4 L130.5 18.1 L131 19.1 L131.5 20.5 L132 22.1 L132.5 24.1 L133 26.2 L133.5 28.5 L134 30.9 L134.5 33.4 L135 35.9 L135.5 38.5 L136 41.2 L136.5 43.8 L137 46.5 L137.5 49 L138 51.6 L138.5 54.1 L139 56.4 L139.5 58.7 L140 60.9 L140.5 63 L141 65 L141.5 66.9 L142 68.7 L142.5 70.3 L143 71.9 L143.5 73.3 L144 74.7 L144.5 76 L145 77.2 L145.5 78.3 L146 79.3 L146.5 80.3 L147 81.2 L147.5 82 L148 82.8 L148.5 83.5 L149 84.2 L149.5 84.8 L150 85.3 L150.5 85.8 L151 86.2 L151.5 86.6 L152 87 L152.5 87.3 L153 87.5 L153.5 87.7 L154 87.8 L154.5 87.9 L155 87.9 L155.5 88 L156 87.9 L156.5 87.9 L157 87.8 L157.5 87.8 L158 87.7 L158.5 87.6 L159 87.6 L159.5 87.6 L160 87.6 L160.5 87.7 L161 87.8 L161.5 88 L162 88.2 L162.5 88.6 L163 89 L163.5 89.5 L164 90.2 L164.5 90.9 L165 91.7 L165.5 92.6 L166 93.6 L166.5 94.8 L167 96 L167.5 97.3 L168 98.6 L168.5 100.1 L169 101.6 L169.5 103.1 L170 104.7 L170.5 106.3 L171 107.9 L171.5 109.5 L172 111.2 L172.5 112.8 L173 114.3 L173.5 115.8 L174 117.3 L174.5 118.8 L175 120.1 L175.5 121.4 L176 122.6 L176.5 123.8 L177 124.8 L177.5 125.8 L178 126.7 L178.5 127.6 L179 128.3 L179.5 129 L180 129.5 L180.5 130 L181 130.4 L181.5 130.7 L182 130.8 L182.5 130.9 L183 130.9 L183.5 130.8 L184 130.6 L184.5 130.3 L185 129.9 L185.5 129.5 L186 129 L186.5 128.5 L187 128 L187.5 127.5 L188 127.1 L188.5 126.8 L189 126.5 L189.5 126.4 L190 126.4 L190.5 126.5" stroke="#16169a" stroke-width="1.4" fill="none" stroke-linejoin="round" />
<rect x="231" y="3.5" width="179" height="143.8" fill="none" stroke="#151515" stroke-width="1.3"/>
<path d="M241.5 147.3 V150.3 M283.5 147.3 V150.3 M325.5 147.3 V150.3 M367.5 147.3 V150.3 M409.5 147.3 V150.3 M262.5 147.3 V149.1 M304.5 147.3 V149.1 M346.5 147.3 V149.1 M388.5 147.3 V149.1 " stroke="#1a1a1a" stroke-width="1.1" fill="none"/>
<text transform="translate(241.5,159.5) scale(1,1.03)" font-family="Liberation Sans" font-size="8.9" font-weight="bold" text-anchor="middle" fill="#000" >468</text>
<text transform="translate(283.5,159.5) scale(1,1.03)" font-family="Liberation Sans" font-size="8.9" font-weight="bold" text-anchor="middle" fill="#000" >464</text>
<text transform="translate(325.5,159.5) scale(1,1.03)" font-family="Liberation Sans" font-size="8.9" font-weight="bold" text-anchor="middle" fill="#000" >460</text>
<text transform="translate(367.5,159.5) scale(1,1.03)" font-family="Liberation Sans" font-size="8.9" font-weight="bold" text-anchor="middle" fill="#000" >456</text>
<text transform="translate(409.5,159.5) scale(1,1.03)" font-family="Liberation Sans" font-size="8.9" font-weight="bold" text-anchor="middle" fill="#000" >452</text>
<text transform="translate(331.2,172.3) scale(1,1.08)" font-family="Liberation Sans" font-size="8.95" font-weight="bold" text-anchor="middle" fill="#000" >Bindind energy, eV</text>
<text transform="translate(218.7,76.2) rotate(-90) scale(1,0.95)" x="0" y="0" dy="0.36em" font-family="Liberation Sans" font-size="8.8" font-weight="bold" text-anchor="middle">Intensity, a.u.</text>
<text transform="translate(375,16.8) scale(1,1.08)" font-family="Liberation Sans" font-size="8.4" font-weight="bold" text-anchor="start" fill="#000" >15 min</text>
<text transform="translate(314.5,184.9) scale(1,1)" font-family="Liberation Serif" font-size="9.2" font-weight="bold" text-anchor="middle" fill="#000" >(d)</text>
<path d="M231 115.8 L231.5 115.8 L232 115.8 L232.5 115.8 L233 115.8 L233.5 115.8 L234 115.8 L234.5 115.8 L235 115.8 L235.5 115.8 L236 115.8 L236.5 115.8 L237 115.9 L237.5 115.9 L238 115.9 L238.5 115.9 L239 115.9 L239.5 115.9 L240 115.9 L240.5 115.9 L241 115.9 L241.5 115.9 L242 115.9 L242.5 115.9 L243 115.9 L243.5 115.9 L244 115.9 L244.5 115.9 L245 115.9 L245.5 115.9 L246 115.9 L246.5 115.9 L247 115.9 L247.5 115.9 L248 115.9 L248.5 115.9 L249 115.9 L249.5 115.9 L250 115.9 L250.5 115.9 L251 115.9 L251.5 115.9 L252 115.9 L252.5 115.9 L253 115.9 L253.5 115.9 L254 115.9 L254.5 116 L255 116 L255.5 116 L256 116 L256.5 116 L257 116 L257.5 116 L258 116.1 L258.5 116.1 L259 116.1 L259.5 116.1 L260 116.1 L260.5 116.2 L261 116.2 L261.5 116.2 L262 116.2 L262.5 116.3 L263 116.3 L263.5 116.3 L264 116.4 L264.5 116.4 L265 116.4 L265.5 116.5 L266 116.5 L266.5 116.6 L267 116.6 L267.5 116.7 L268 116.7 L268.5 116.8 L269 116.8 L269.5 116.9 L270 116.9 L270.5 117 L271 117 L271.5 117.1 L272 117.1 L272.5 117.2 L273 117.3 L273.5 117.3 L274 117.4 L274.5 117.5 L275 117.5 L275.5 117.6 L276 117.6 L276.5 117.7 L277 117.8 L277.5 117.8 L278 117.9 L278.5 118 L279 118.1 L279.5 118.1 L280 118.2 L280.5 118.3 L281 118.3 L281.5 118.4 L282 118.5 L282.5 118.5 L283 118.6 L283.5 118.7 L284 118.7 L284.5 118.8 L285 118.9 L285.5 118.9 L286 119 L286.5 119.1 L287 119.1 L287.5 119.2 L288 119.3 L288.5 119.3 L289 119.4 L289.5 119.4 L290 119.5 L290.5 119.6 L291 119.6 L291.5 119.7 L292 119.7 L292.5 119.8 L293 119.8 L293.5 119.9 L294 119.9 L294.5 120 L295 120 L295.5 120.1 L296 120.2 L296.5 120.2 L297 120.2 L297.5 120.3 L298 120.3 L298.5 120.4 L299 120.4 L299.5 120.5 L300 120.5 L300.5 120.6 L301 120.6 L301.5 120.7 L302 120.7 L302.5 120.8 L303 120.8 L303.5 120.9 L304 120.9 L304.5 121 L305 121 L305.5 121.1 L306 121.1 L306.5 121.1 L307 121.2 L307.5 121.2 L308 121.3 L308.5 121.3 L309 121.4 L309.5 121.4 L310 121.5 L310.5 121.5 L311 121.6 L311.5 121.6 L312 121.7 L312.5 121.7 L313 121.8 L313.5 121.8 L314 121.9 L314.5 121.9 L315 122 L315.5 122.1 L316 122.1 L316.5 122.2 L317 122.2 L317.5 122.3 L318 122.4 L318.5 122.4 L319 122.5 L319.5 122.5 L320 122.6 L320.5 122.7 L321 122.7 L321.5 122.8 L322 122.9 L322.5 123 L323 123 L323.5 123.1 L324 123.2 L324.5 123.3 L325 123.3 L325.5 123.4 L326 123.5 L326.5 123.6 L327 123.7 L327.5 123.7 L328 123.8 L328.5 123.9 L329 124 L329.5 124.1 L330 124.2 L330.5 124.3 L331 124.4 L331.5 124.5 L332 124.6 L332.5 124.8 L333 124.9 L333.5 125.1 L334 125.2 L334.5 125.4 L335 125.5 L335.5 125.7 L336 125.9 L336.5 126 L337 126.2 L337.5 126.4 L338 126.6 L338.5 126.8 L339 127 L339.5 127.1 L340 127.3 L340.5 127.5 L341 127.7 L341.5 127.9 L342 128.1 L342.5 128.3 L343 128.5 L343.5 128.7 L344 128.9 L344.5 129.1 L345 129.3 L345.5 129.5 L346 129.7 L346.5 129.8 L347 130 L347.5 130.2 L348 130.4 L348.5 130.5 L349 130.7 L349.5 130.8 L350 131 L350.5 131.1 L351 131.3 L351.5 131.4 L352 131.6 L352.5 131.7 L353 131.9 L353.5 132 L354 132.1 L354.5 132.3 L355 132.4 L355.5 132.6 L356 132.7 L356.5 132.8 L357 133 L357.5 133.1 L358 133.2 L358.5 133.4 L359 133.5 L359.5 133.6 L360 133.7 L360.5 133.9 L361 134 L361.5 134.1 L362 134.2 L362.5 134.4 L363 134.5 L363.5 134.6 L364 134.7 L364.5 134.8 L365 134.9 L365.5 135 L366 135.2 L366.5 135.3 L367 135.4 L367.5 135.5 L368 135.6 L368.5 135.7 L369 135.8 L369.5 135.9 L370 136 L370.5 136.1 L371 136.2 L371.5 136.3 L372 136.4 L372.5 136.5 L373 136.6 L373.5 136.7 L374 136.8 L374.5 136.9 L375 137 L375.5 137.1 L376 137.2 L376.5 137.2 L377 137.3 L377.5 137.4 L378 137.5 L378.5 137.6 L379 137.7 L379.5 137.8 L380 137.8 L380.5 137.9 L381 138 L381.5 138.1 L382 138.1 L382.5 138.2 L383 138.3 L383.5 138.4 L384 138.4 L384.5 138.5 L385 138.5 L385.5 138.6 L386 138.7 L386.5 138.7 L387 138.8 L387.5 138.8 L388 138.9 L388.5 138.9 L389 138.9 L389.5 139 L390 139 L390.5 139 L391 139.1 L391.5 139.1 L392 139.1 L392.5 139.1 L393 139.1 L393.5 139.1 L394 139.1 L394.5 139.1 L395 139.1 L395.5 139.1 L396 139.1 L396.5 139.1 L397 139.1 L397.5 139.1 L398 139.1 L398.5 139 L399 139 L399.5 139 L400 139 L400.5 138.9 L401 138.9 L401.5 138.9 L402 138.9 L402.5 138.8 L403 138.8 L403.5 138.8 L404 138.8 L404.5 138.7 L405 138.7 L405.5 138.7 L406 138.7 L406.5 138.6 L407 138.6 L407.5 138.6 L408 138.6 L408.5 138.5 L409 138.5 L409.5 138.5" stroke="#00d000" stroke-width="1.3" fill="none" stroke-linejoin="round" stroke-dasharray="1.2 1" />
<path d="M231 115.7 L231.5 115.7 L232 115.7 L232.5 115.7 L233 115.7 L233.5 115.7 L234 115.7 L234.5 115.7 L235 115.7 L235.5 115.7 L236 115.7 L236.5 115.7 L237 115.6 L237.5 115.6 L238 115.6 L238.5 115.6 L239 115.5 L239.5 115.5 L240 115.5 L240.5 115.4 L241 115.4 L241.5 115.3 L242 115.3 L242.5 115.2 L243 115.2 L243.5 115.1 L244 115 L244.5 115 L245 114.9 L245.5 114.8 L246 114.7 L246.5 114.6 L247 114.5 L247.5 114.3 L248 114.2 L248.5 114.1 L249 113.9 L249.5 113.8 L250 113.6 L250.5 113.4 L251 113.2 L251.5 113 L252 112.8 L252.5 112.6 L253 112.4 L253.5 112.1 L254 111.9 L254.5 111.6 L255 111.3 L255.5 111 L256 110.7 L256.5 110.3 L257 110 L257.5 109.6 L258 109.2 L258.5 108.8 L259 108.4 L259.5 108 L260 107.5 L260.5 107.1 L261 106.6 L261.5 106.1 L262 105.6 L262.5 105.1 L263 104.5 L263.5 104 L264 103.4 L264.5 102.8 L265 102.3 L265.5 101.7 L266 101.1 L266.5 100.4 L267 99.8 L267.5 99.2 L268 98.6 L268.5 97.9 L269 97.3 L269.5 96.6 L270 96 L270.5 95.3 L271 94.7 L271.5 94.1 L272 93.4 L272.5 92.8 L273 92.2 L273.5 91.6 L274 91 L274.5 90.4 L275 89.9 L275.5 89.4 L276 88.8 L276.5 88.3 L277 87.9 L277.5 87.4 L278 87 L278.5 86.6 L279 86.2 L279.5 85.9 L280 85.6 L280.5 85.3 L281 85 L281.5 84.8 L282 84.6 L282.5 84.5 L283 84.4 L283.5 84.3 L284 84.3 L284.5 84.3 L285 84.4 L285.5 84.5 L286 84.6 L286.5 84.7 L287 84.9 L287.5 85.2 L288 85.4 L288.5 85.7 L289 86.1 L289.5 86.5 L290 86.9 L290.5 87.3 L291 87.8 L291.5 88.3 L292 88.8 L292.5 89.3 L293 89.9 L293.5 90.5 L294 91.1 L294.5 91.8 L295 92.4 L295.5 93.1 L296 93.8 L296.5 94.5 L297 95.2 L297.5 95.9 L298 96.6 L298.5 97.4 L299 98.1 L299.5 98.9 L300 99.6 L300.5 100.4 L301 101.1 L301.5 101.8 L302 102.6 L302.5 103.3 L303 104 L303.5 104.7 L304 105.4 L304.5 106.1 L305 106.8 L305.5 107.5 L306 108.1 L306.5 108.8 L307 109.4 L307.5 110 L308 110.6 L308.5 111.2 L309 111.8 L309.5 112.3 L310 112.9 L310.5 113.4 L311 113.9 L311.5 114.4 L312 114.9 L312.5 115.3 L313 115.7 L313.5 116.2 L314 116.6 L314.5 117 L315 117.3 L315.5 117.7 L316 118 L316.5 118.4 L317 118.7 L317.5 119 L318 119.3 L318.5 119.6 L319 119.8 L319.5 120.1 L320 120.3 L320.5 120.6 L321 120.8 L321.5 121 L322 121.2 L322.5 121.4 L323 121.6 L323.5 121.8 L324 122 L324.5 122.2 L325 122.3 L325.5 122.5 L326 122.7 L326.5 122.8 L327 123 L327.5 123.1 L328 123.3 L328.5 123.4 L329 123.5 L329.5 123.7 L330 123.8 L330.5 124 L331 124.1 L331.5 124.2 L332 124.4 L332.5 124.5 L333 124.7 L333.5 124.9 L334 125" stroke="#ff0000" stroke-width="1.1" fill="none" stroke-linejoin="round" stroke-dasharray="1.4 0.7" />
<path d="M290 119.4 L290.5 119.4 L291 119.4 L291.5 119.4 L292 119.4 L292.5 119.4 L293 119.4 L293.5 119.3 L294 119.2 L294.5 119 L295 118.9 L295.5 118.7 L296 118.4 L296.5 118.2 L297 117.9 L297.5 117.5 L298 117.1 L298.5 116.7 L299 116.3 L299.5 115.8 L300 115.3 L300.5 114.8 L301 114.4 L301.5 113.9 L302 113.5 L302.5 113.2 L303 112.9 L303.5 112.6 L304 112.5 L304.5 112.4 L305 112.4 L305.5 112.5 L306 112.7 L306.5 112.9 L307 113.3 L307.5 113.6 L308 114.1 L308.5 114.6 L309 115.1 L309.5 115.7 L310 116.3 L310.5 116.8 L311 117.4 L311.5 117.9 L312 118.5 L312.5 118.9 L313 119.4 L313.5 119.8 L314 120.2 L314.5 120.5 L315 120.8 L315.5 121.1 L316 121.4 L316.5 121.6 L317 121.8 L317.5 121.9 L318 122.1 L318.5 122.2 L319 122.3 L319.5 122.4 L320 122.5 L320.5 122.6 L321 122.7 L321.5 122.8 L322 122.9" stroke="#00e000" stroke-width="1.0" fill="none" stroke-linejoin="round" stroke-dasharray="1.2 1.2" />
<path d="M330 124.1 L330.5 124.2 L331 124.3 L331.5 124.4 L332 124.5 L332.5 124.6 L333 124.7 L333.5 124.8 L334 125 L334.5 125.1 L335 125.2 L335.5 125.3 L336 125.4 L336.5 125.5 L337 125.6 L337.5 125.7 L338 125.8 L338.5 125.9 L339 125.9 L339.5 126 L340 126 L340.5 126.1 L341 126.1 L341.5 126.1 L342 126.1 L342.5 126 L343 125.9 L343.5 125.9 L344 125.7 L344.5 125.6 L345 125.5 L345.5 125.3 L346 125.1 L346.5 124.8 L347 124.6 L347.5 124.3 L348 124 L348.5 123.6 L349 123.2 L349.5 122.9 L350 122.4 L350.5 122 L351 121.6 L351.5 121.1 L352 120.7 L352.5 120.2 L353 119.7 L353.5 119.3 L354 118.8 L354.5 118.4 L355 117.9 L355.5 117.5 L356 117.1 L356.5 116.8 L357 116.4 L357.5 116.1 L358 115.8 L358.5 115.6 L359 115.4 L359.5 115.3 L360 115.2 L360.5 115.1 L361 115.1 L361.5 115.1 L362 115.2 L362.5 115.4 L363 115.6 L363.5 115.8 L364 116.1 L364.5 116.5 L365 116.9 L365.5 117.3 L366 117.8 L366.5 118.3 L367 118.8 L367.5 119.4 L368 120 L368.5 120.7 L369 121.3 L369.5 122 L370 122.7 L370.5 123.4 L371 124.1 L371.5 124.8 L372 125.5 L372.5 126.2 L373 126.9 L373.5 127.6 L374 128.2 L374.5 128.9 L375 129.5 L375.5 130.1 L376 130.7 L376.5 131.3 L377 131.9 L377.5 132.4 L378 132.9 L378.5 133.4 L379 133.8 L379.5 134.3 L380 134.7 L380.5 135.1 L381 135.4 L381.5 135.8 L382 136.1 L382.5 136.4 L383 136.6 L383.5 136.9 L384 137.1 L384.5 137.3 L385 137.5 L385.5 137.7 L386 137.9 L386.5 138 L387 138.2 L387.5 138.3 L388 138.4 L388.5 138.5 L389 138.6 L389.5 138.7 L390 138.8 L390.5 138.8 L391 138.9 L391.5 138.9 L392 139 L392.5 139 L393 139 L393.5 139 L394 139.1 L394.5 139.1 L395 139.1 L395.5 139.1 L396 139.1 L396.5 139.1 L397 139.1 L397.5 139.1 L398 139 L398.5 139 L399 139 L399.5 139 L400 139 L400.5 138.9 L401 138.9 L401.5 138.9 L402 138.9 L402.5 138.8 L403 138.8 L403.5 138.8 L404 138.8 L404.5 138.7 L405 138.7" stroke="#00e000" stroke-width="1.1" fill="none" stroke-linejoin="round" />
<path d="M300 120.5 L300.5 120.5 L301 120.5 L301.5 120.5 L302 120.5 L302.5 120.4 L303 120.4 L303.5 120.3 L304 120.2 L304.5 120 L305 119.8 L305.5 119.6 L306 119.3 L306.5 119 L307 118.6 L307.5 118.1 L308 117.5 L308.5 116.9 L309 116.2 L309.5 115.4 L310 114.6 L310.5 113.7 L311 112.8 L311.5 111.8 L312 110.8 L312.5 109.8 L313 108.7 L313.5 107.8 L314 106.9 L314.5 106 L315 105.3 L315.5 104.6 L316 104.2 L316.5 103.8 L317 103.6 L317.5 103.6 L318 103.7 L318.5 104 L319 104.5 L319.5 105.1 L320 105.9 L320.5 106.7 L321 107.7 L321.5 108.7 L322 109.8 L322.5 111 L323 112.1 L323.5 113.2 L324 114.4 L324.5 115.4 L325 116.5 L325.5 117.4 L326 118.3 L326.5 119.2 L327 119.9 L327.5 120.6 L328 121.2 L328.5 121.8 L329 122.2 L329.5 122.7 L330 123 L330.5 123.4 L331 123.7 L331.5 124 L332 124.2 L332.5 124.4 L333 124.7 L333.5 124.9 L334 125.1" stroke="#0000ff" stroke-width="1.0" fill="none" stroke-linejoin="round" stroke-dasharray="1.2 1.2" />
<path d="M335 125.5 L335.5 125.7 L336 125.9 L336.5 126 L337 126.2 L337.5 126.4 L338 126.6 L338.5 126.8 L339 127 L339.5 127.1 L340 127.3 L340.5 127.5 L341 127.7 L341.5 127.9 L342 128.1 L342.5 128.3 L343 128.5 L343.5 128.7 L344 128.9 L344.5 129 L345 129.2 L345.5 129.4 L346 129.6 L346.5 129.7 L347 129.9 L347.5 130 L348 130.2 L348.5 130.3 L349 130.4 L349.5 130.5 L350 130.6 L350.5 130.7 L351 130.8 L351.5 130.8 L352 130.9 L352.5 130.9 L353 130.9 L353.5 130.9 L354 130.9 L354.5 130.9 L355 130.8 L355.5 130.7 L356 130.6 L356.5 130.4 L357 130.3 L357.5 130 L358 129.8 L358.5 129.5 L359 129.2 L359.5 128.8 L360 128.4 L360.5 127.9 L361 127.4 L361.5 126.9 L362 126.3 L362.5 125.6 L363 124.9 L363.5 124.2 L364 123.3 L364.5 122.5 L365 121.6 L365.5 120.7 L366 119.7 L366.5 118.6 L367 117.6 L367.5 116.5 L368 115.4 L368.5 114.2 L369 113.1 L369.5 111.9 L370 110.8 L370.5 109.6 L371 108.5 L371.5 107.4 L372 106.3 L372.5 105.2 L373 104.2 L373.5 103.3 L374 102.4 L374.5 101.6 L375 100.8 L375.5 100.2 L376 99.6 L376.5 99.1 L377 98.7 L377.5 98.4 L378 98.2 L378.5 98.2 L379 98.2 L379.5 98.3 L380 98.6 L380.5 98.9 L381 99.4 L381.5 99.9 L382 100.6 L382.5 101.3 L383 102.1 L383.5 103 L384 104 L384.5 105.1 L385 106.2 L385.5 107.3 L386 108.5 L386.5 109.8 L387 111.1 L387.5 112.3 L388 113.6 L388.5 114.9 L389 116.2 L389.5 117.5 L390 118.8 L390.5 120 L391 121.3 L391.5 122.5 L392 123.6 L392.5 124.7 L393 125.8 L393.5 126.8 L394 127.8 L394.5 128.7 L395 129.6 L395.5 130.4 L396 131.1 L396.5 131.9 L397 132.5 L397.5 133.1 L398 133.7 L398.5 134.2 L399 134.7 L399.5 135.1 L400 135.5 L400.5 135.9 L401 136.2 L401.5 136.5 L402 136.8 L402.5 137 L403 137.2 L403.5 137.4 L404 137.5 L404.5 137.7 L405 137.8 L405.5 137.9 L406 138 L406.5 138 L407 138.1 L407.5 138.1 L408 138.2 L408.5 138.2 L409 138.3 L409.5 138.3" stroke="#0000ff" stroke-width="1.1" fill="none" stroke-linejoin="round" />
<path d="M231 115.8 L231.5 115.8 L232 115.8 L232.5 115.8 L233 115.8 L233.5 115.8 L234 115.8 L234.5 115.8 L235 115.8 L235.5 115.8 L236 115.8 L236.5 115.8 L237 115.9 L237.5 115.9 L238 115.9 L238.5 115.9 L239 115.9 L239.5 115.9 L240 115.9 L240.5 115.9 L241 115.9 L241.5 115.9 L242 115.9 L242.5 115.9 L243 115.9 L243.5 115.9 L244 115.9 L244.5 115.9 L245 115.9 L245.5 115.9 L246 115.9 L246.5 115.9 L247 115.9 L247.5 115.9 L248 115.9 L248.5 115.9 L249 115.9 L249.5 115.9 L250 115.9 L250.5 115.9 L251 115.9 L251.5 115.9 L252 115.9 L252.5 115.9 L253 115.9 L253.5 115.9 L254 115.9 L254.5 116 L255 116 L255.5 116 L256 116 L256.5 116 L257 116 L257.5 116 L258 116.1 L258.5 116.1 L259 116.1 L259.5 116.1 L260 116.1 L260.5 116.2 L261 116.2 L261.5 116.2 L262 116.2 L262.5 116.3 L263 116.3 L263.5 116.3 L264 116.4 L264.5 116.4 L265 116.4 L265.5 116.5 L266 116.5 L266.5 116.6 L267 116.6 L267.5 116.7 L268 116.7 L268.5 116.8 L269 116.8 L269.5 116.9 L270 116.9 L270.5 117 L271 117 L271.5 117.1 L272 117.1 L272.5 117.2 L273 117.3 L273.5 117.3 L274 117.4 L274.5 117.5 L275 117.5 L275.5 117.6 L276 117.6 L276.5 117.7 L277 117.8 L277.5 117.8 L278 117.9 L278.5 118 L279 118.1 L279.5 118.1 L280 118.2 L280.5 118.3 L281 118.3 L281.5 118.4 L282 118.5 L282.5 118.5 L283 118.6 L283.5 118.7 L284 118.7 L284.5 118.8 L285 118.9 L285.5 118.9 L286 119 L286.5 119.1 L287 119.1 L287.5 119.2 L288 119.3 L288.5 119.3 L289 119.4 L289.5 119.4 L290 119.5 L290.5 119.6 L291 119.6 L291.5 119.7 L292 119.7 L292.5 119.8 L293 119.8 L293.5 119.9 L294 119.9 L294.5 120 L295 120 L295.5 120.1 L296 120.1 L296.5 120.2 L297 120.2 L297.5 120.3 L298 120.3 L298.5 120.3 L299 120.4 L299.5 120.4 L300 120.5 L300.5 120.5 L301 120.5 L301.5 120.5 L302 120.6 L302.5 120.6 L303 120.6 L303.5 120.6 L304 120.6 L304.5 120.6 L305 120.6 L305.5 120.6 L306 120.5 L306.5 120.5 L307 120.4 L307.5 120.4 L308 120.3 L308.5 120.2 L309 120.1 L309.5 119.9 L310 119.8 L310.5 119.6 L311 119.4 L311.5 119.1 L312 118.9 L312.5 118.6 L313 118.2 L313.5 117.8 L314 117.4 L314.5 117 L315 116.4 L315.5 115.9 L316 115.3 L316.5 114.6 L317 113.8 L317.5 113 L318 112.2 L318.5 111.3 L319 110.2 L319.5 109.2 L320 108 L320.5 106.8 L321 105.5 L321.5 104.1 L322 102.7 L322.5 101.2 L323 99.6 L323.5 97.9 L324 96.1 L324.5 94.3 L325 92.5 L325.5 90.5 L326 88.5 L326.5 86.5 L327 84.4 L327.5 82.3 L328 80.1 L328.5 78 L329 75.8 L329.5 73.6 L330 71.4 L330.5 69.3 L331 67.2 L331.5 65.1 L332 63.1 L332.5 61.1 L333 59.3 L333.5 57.5 L334 55.8 L334.5 54.2 L335 52.8 L335.5 51.4 L336 50.2 L336.5 49.2 L337 48.3 L337.5 47.5 L338 47 L338.5 46.5 L339 46.3 L339.5 46.2 L340 46.3 L340.5 46.6 L341 47.1 L341.5 47.7 L342 48.5 L342.5 49.5 L343 50.6 L343.5 51.9 L344 53.3 L344.5 54.8 L345 56.5 L345.5 58.3 L346 60.2 L346.5 62.3 L347 64.4 L347.5 66.6 L348 68.8 L348.5 71.1 L349 73.5 L349.5 75.8 L350 78.2 L350.5 80.7 L351 83.1 L351.5 85.5 L352 87.9 L352.5 90.3 L353 92.6 L353.5 94.9 L354 97.2 L354.5 99.4 L355 101.5 L355.5 103.6 L356 105.7 L356.5 107.6 L357 109.5 L357.5 111.3 L358 113 L358.5 114.7 L359 116.2 L359.5 117.7 L360 119.2 L360.5 120.5 L361 121.8 L361.5 122.9 L362 124.1 L362.5 125.1 L363 126.1 L363.5 127 L364 127.8 L364.5 128.6 L365 129.4 L365.5 130.1 L366 130.7 L366.5 131.3 L367 131.8 L367.5 132.3 L368 132.8 L368.5 133.2 L369 133.6 L369.5 134 L370 134.3 L370.5 134.6 L371 134.9 L371.5 135.1 L372 135.4 L372.5 135.6 L373 135.8 L373.5 136 L374 136.2 L374.5 136.4 L375 136.5 L375.5 136.7 L376 136.8 L376.5 137 L377 137.1 L377.5 137.2 L378 137.3 L378.5 137.5 L379 137.6 L379.5 137.7 L380 137.8 L380.5 137.9 L381 137.9 L381.5 138 L382 138.1 L382.5 138.2 L383 138.3 L383.5 138.3 L384 138.4 L384.5 138.5 L385 138.5 L385.5 138.6 L386 138.6 L386.5 138.7 L387 138.8 L387.5 138.8 L388 138.8 L388.5 138.9 L389 138.9 L389.5 139 L390 139 L390.5 139 L391 139.1 L391.5 139.1 L392 139.1 L392.5 139.1 L393 139.1 L393.5 139.1 L394 139.1 L394.5 139.1 L395 139.1 L395.5 139.1 L396 139.1 L396.5 139.1 L397 139.1 L397.5 139.1 L398 139.1 L398.5 139 L399 139 L399.5 139 L400 139 L400.5 138.9 L401 138.9 L401.5 138.9 L402 138.9 L402.5 138.8 L403 138.8 L403.5 138.8 L404 138.8 L404.5 138.7 L405 138.7 L405.5 138.7 L406 138.7 L406.5 138.6 L407 138.6 L407.5 138.6 L408 138.6 L408.5 138.5 L409 138.5 L409.5 138.5" stroke="#ff0000" stroke-width="1.15" fill="none" stroke-linejoin="round" />
<path d="M232 114.2 L232.5 114.1 L233 114 L233.5 113.9 L234 113.8 L234.5 113.7 L235 113.6 L235.5 113.5 L236 113.3 L236.5 113.2 L237 113.1 L237.5 113 L238 112.9 L238.5 112.7 L239 112.6 L239.5 112.5 L240 112.4 L240.5 112.3 L241 112.2 L241.5 112 L242 111.9 L242.5 111.8 L243 111.7 L243.5 111.6 L244 111.5 L244.5 111.5 L245 111.4 L245.5 111.3 L246 111.2 L246.5 111.1 L247 111 L247.5 111 L248 110.9 L248.5 110.8 L249 110.7 L249.5 110.6 L250 110.5 L250.5 110.4 L251 110.3 L251.5 110.2 L252 110.1 L252.5 110 L253 109.8 L253.5 109.7 L254 109.5 L254.5 109.4 L255 109.2 L255.5 109 L256 108.8 L256.5 108.5 L257 108.3 L257.5 108 L258 107.7 L258.5 107.4 L259 107.1 L259.5 106.8 L260 106.4 L260.5 106 L261 105.6 L261.5 105.2 L262 104.8 L262.5 104.3 L263 103.8 L263.5 103.3 L264 102.8 L264.5 102.3 L265 101.8 L265.5 101.2 L266 100.7 L266.5 100.1 L267 99.5 L267.5 98.9 L268 98.3 L268.5 97.7 L269 97.1 L269.5 96.5 L270 95.8 L270.5 95.2 L271 94.6 L271.5 94 L272 93.4 L272.5 92.7 L273 92.1 L273.5 91.6 L274 91 L274.5 90.4 L275 89.9 L275.5 89.3 L276 88.8 L276.5 88.3 L277 87.8 L277.5 87.4 L278 87 L278.5 86.6 L279 86.2 L279.5 85.9 L280 85.5 L280.5 85.3 L281 85 L281.5 84.8 L282 84.6 L282.5 84.5 L283 84.4 L283.5 84.3 L284 84.3 L284.5 84.3 L285 84.4 L285.5 84.4 L286 84.6 L286.5 84.7 L287 84.9 L287.5 85.1 L288 85.4 L288.5 85.7 L289 86 L289.5 86.4 L290 86.7 L290.5 87.1 L291 87.5 L291.5 88 L292 88.4 L292.5 88.8 L293 89.3 L293.5 89.7 L294 90.1 L294.5 90.5 L295 90.9 L295.5 91.3 L296 91.6 L296.5 91.9 L297 92.1 L297.5 92.3 L298 92.4 L298.5 92.5 L299 92.6 L299.5 92.6 L300 92.6 L300.5 92.6 L301 92.5 L301.5 92.5 L302 92.4 L302.5 92.4 L303 92.4 L303.5 92.4 L304 92.4 L304.5 92.5 L305 92.6 L305.5 92.8 L306 93 L306.5 93.1 L307 93.4 L307.5 93.6 L308 93.8 L308.5 93.9 L309 94 L309.5 94.1 L310 94.1 L310.5 94.1 L311 93.9 L311.5 93.7 L312 93.4 L312.5 93.1 L313 92.7 L313.5 92.2 L314 91.7 L314.5 91.2 L315 90.7 L315.5 90.3 L316 89.8 L316.5 89.4 L317 89 L317.5 88.6 L318 88.4 L318.5 88.1 L319 88 L319.5 87.8 L320 87.7 L320.5 87.5 L321 87.4 L321.5 87.2 L322 87 L322.5 86.7 L323 86.3 L323.5 85.8 L324 85.2 L324.5 84.5 L325 83.6 L325.5 82.6 L326 81.4 L326.5 80.1 L327 78.7 L327.5 77.1 L328 75.5 L328.5 73.7 L329 71.9 L329.5 69.9 L330 68 L330.5 65.9 L331 63.9 L331.5 61.8 L332 59.8 L332.5 57.8 L333 55.9 L333.5 54 L334 52.1 L334.5 50.4 L335 48.8 L335.5 47.2 L336 45.8 L336.5 44.6 L337 43.4 L337.5 42.4 L338 41.5 L338.5 40.8 L339 40.3 L339.5 39.9 L340 39.7 L340.5 39.6 L341 39.7 L341.5 40 L342 40.4 L342.5 40.9 L343 41.6 L343.5 42.5 L344 43.4 L344.5 44.5 L345 45.7 L345.5 47 L346 48.4 L346.5 49.9 L347 51.5 L347.5 53.1 L348 54.8 L348.5 56.5 L349 58.2 L349.5 60 L350 61.8 L350.5 63.5 L351 65.3 L351.5 67 L352 68.7 L352.5 70.4 L353 72 L353.5 73.5 L354 75 L354.5 76.4 L355 77.7 L355.5 78.9 L356 80.1 L356.5 81.1 L357 82.1 L357.5 83 L358 83.8 L358.5 84.5 L359 85.2 L359.5 85.8 L360 86.4 L360.5 87 L361 87.5 L361.5 88 L362 88.5 L362.5 89.1 L363 89.6 L363.5 90.1 L364 90.6 L364.5 91.1 L365 91.5 L365.5 91.9 L366 92.3 L366.5 92.6 L367 92.9 L367.5 93.1 L368 93.3 L368.5 93.4 L369 93.4 L369.5 93.4 L370 93.3 L370.5 93.2 L371 93.1 L371.5 93 L372 92.8 L372.5 92.6 L373 92.5 L373.5 92.3 L374 92.2 L374.5 92.1 L375 92.1 L375.5 92 L376 92.1 L376.5 92.2 L377 92.3 L377.5 92.6 L378 92.8 L378.5 93.2 L379 93.6 L379.5 94 L380 94.5 L380.5 95.1 L381 95.7 L381.5 96.3 L382 97 L382.5 97.7 L383 98.4 L383.5 99.2 L384 99.9 L384.5 100.6 L385 101.4 L385.5 102.1 L386 102.8 L386.5 103.6 L387 104.3 L387.5 105.1 L388 105.9 L388.5 106.8 L389 107.7 L389.5 108.7 L390 109.7 L390.5 110.9 L391 112.1 L391.5 113.3 L392 114.7 L392.5 116.1 L393 117.5 L393.5 119 L394 120.5 L394.5 122 L395 123.4 L395.5 124.9 L396 126.3 L396.5 127.6 L397 128.8 L397.5 129.9 L398 131 L398.5 132 L399 132.8 L399.5 133.6 L400 134.3 L400.5 134.9 L401 135.4 L401.5 135.9 L402 136.3 L402.5 136.6 L403 136.9 L403.5 137.2 L404 137.4 L404.5 137.6 L405 137.7 L405.5 137.8 L406 137.9 L406.5 138 L407 138.1 L407.5 138.1 L408 138.2 L408.5 138.2 L409 138.3 L409.5 138.3" stroke="#1010b0" stroke-width="1.2" fill="none" stroke-linejoin="round" stroke-dasharray="1.5 0.8" />
<path d="M231 113.9 a1.0 1.0 0 1 0 2 0 a1.0 1.0 0 1 0 -2 0 M232.2 114 a1.0 1.0 0 1 0 2 0 a1.0 1.0 0 1 0 -2 0 M233.5 115.2 a1.0 1.0 0 1 0 2 0 a1.0 1.0 0 1 0 -2 0 M234.8 113.1 a1.0 1.0 0 1 0 2 0 a1.0 1.0 0 1 0 -2 0 M236 112.9 a1.0 1.0 0 1 0 2 0 a1.0 1.0 0 1 0 -2 0 M237.2 112.9 a1.0 1.0 0 1 0 2 0 a1.0 1.0 0 1 0 -2 0 M238.5 111 a1.0 1.0 0 1 0 2 0 a1.0 1.0 0 1 0 -2 0 M239.8 112.1 a1.0 1.0 0 1 0 2 0 a1.0 1.0 0 1 0 -2 0 M241 112.3 a1.0 1.0 0 1 0 2 0 a1.0 1.0 0 1 0 -2 0 M242.2 112.7 a1.0 1.0 0 1 0 2 0 a1.0 1.0 0 1 0 -2 0 M243.5 109.6 a1.0 1.0 0 1 0 2 0 a1.0 1.0 0 1 0 -2 0 M244.8 110.3 a1.0 1.0 0 1 0 2 0 a1.0 1.0 0 1 0 -2 0 M246 109.2 a1.0 1.0 0 1 0 2 0 a1.0 1.0 0 1 0 -2 0 M247.2 111.9 a1.0 1.0 0 1 0 2 0 a1.0 1.0 0 1 0 -2 0 M248.5 111.2 a1.0 1.0 0 1 0 2 0 a1.0 1.0 0 1 0 -2 0 M249.8 108.3 a1.0 1.0 0 1 0 2 0 a1.0 1.0 0 1 0 -2 0 M251 111.8 a1.0 1.0 0 1 0 2 0 a1.0 1.0 0 1 0 -2 0 M252.2 111.4 a1.0 1.0 0 1 0 2 0 a1.0 1.0 0 1 0 -2 0 M253.5 109.8 a1.0 1.0 0 1 0 2 0 a1.0 1.0 0 1 0 -2 0 M254.8 109.1 a1.0 1.0 0 1 0 2 0 a1.0 1.0 0 1 0 -2 0 M256 106.7 a1.0 1.0 0 1 0 2 0 a1.0 1.0 0 1 0 -2 0 M257.2 105.4 a1.0 1.0 0 1 0 2 0 a1.0 1.0 0 1 0 -2 0 M258.5 106.7 a1.0 1.0 0 1 0 2 0 a1.0 1.0 0 1 0 -2 0 M259.8 103.9 a1.0 1.0 0 1 0 2 0 a1.0 1.0 0 1 0 -2 0 M261 103.3 a1.0 1.0 0 1 0 2 0 a1.0 1.0 0 1 0 -2 0 M262.2 102.4 a1.0 1.0 0 1 0 2 0 a1.0 1.0 0 1 0 -2 0 M263.5 100.2 a1.0 1.0 0 1 0 2 0 a1.0 1.0 0 1 0 -2 0 M264.8 100.6 a1.0 1.0 0 1 0 2 0 a1.0 1.0 0 1 0 -2 0 M266 99.1 a1.0 1.0 0 1 0 2 0 a1.0 1.0 0 1 0 -2 0 M267.2 99.2 a1.0 1.0 0 1 0 2 0 a1.0 1.0 0 1 0 -2 0 M268.5 96.3 a1.0 1.0 0 1 0 2 0 a1.0 1.0 0 1 0 -2 0 M269.8 95.3 a1.0 1.0 0 1 0 2 0 a1.0 1.0 0 1 0 -2 0 M271 93.2 a1.0 1.0 0 1 0 2 0 a1.0 1.0 0 1 0 -2 0 M272.2 92.3 a1.0 1.0 0 1 0 2 0 a1.0 1.0 0 1 0 -2 0 M273.5 90 a1.0 1.0 0 1 0 2 0 a1.0 1.0 0 1 0 -2 0 M274.8 88 a1.0 1.0 0 1 0 2 0 a1.0 1.0 0 1 0 -2 0 M276 89.6 a1.0 1.0 0 1 0 2 0 a1.0 1.0 0 1 0 -2 0 M277.2 88.5 a1.0 1.0 0 1 0 2 0 a1.0 1.0 0 1 0 -2 0 M278.5 87 a1.0 1.0 0 1 0 2 0 a1.0 1.0 0 1 0 -2 0 M279.8 85.8 a1.0 1.0 0 1 0 2 0 a1.0 1.0 0 1 0 -2 0 M281 83.7 a1.0 1.0 0 1 0 2 0 a1.0 1.0 0 1 0 -2 0 M282.2 83.1 a1.0 1.0 0 1 0 2 0 a1.0 1.0 0 1 0 -2 0 M283.5 83.3 a1.0 1.0 0 1 0 2 0 a1.0 1.0 0 1 0 -2 0 M284.8 82.6 a1.0 1.0 0 1 0 2 0 a1.0 1.0 0 1 0 -2 0 M286 85.8 a1.0 1.0 0 1 0 2 0 a1.0 1.0 0 1 0 -2 0 M287.2 84.9 a1.0 1.0 0 1 0 2 0 a1.0 1.0 0 1 0 -2 0 M288.5 87.5 a1.0 1.0 0 1 0 2 0 a1.0 1.0 0 1 0 -2 0 M289.8 86.7 a1.0 1.0 0 1 0 2 0 a1.0 1.0 0 1 0 -2 0 M291 90 a1.0 1.0 0 1 0 2 0 a1.0 1.0 0 1 0 -2 0 M292.2 90.7 a1.0 1.0 0 1 0 2 0 a1.0 1.0 0 1 0 -2 0 M293.5 88.3 a1.0 1.0 0 1 0 2 0 a1.0 1.0 0 1 0 -2 0 M294.8 90.1 a1.0 1.0 0 1 0 2 0 a1.0 1.0 0 1 0 -2 0 M296 93.5 a1.0 1.0 0 1 0 2 0 a1.0 1.0 0 1 0 -2 0 M297.2 92.2 a1.0 1.0 0 1 0 2 0 a1.0 1.0 0 1 0 -2 0 M298.5 94.3 a1.0 1.0 0 1 0 2 0 a1.0 1.0 0 1 0 -2 0 M299.8 91.9 a1.0 1.0 0 1 0 2 0 a1.0 1.0 0 1 0 -2 0 M301 90.5 a1.0 1.0 0 1 0 2 0 a1.0 1.0 0 1 0 -2 0 M302.2 92.7 a1.0 1.0 0 1 0 2 0 a1.0 1.0 0 1 0 -2 0 M303.5 93.4 a1.0 1.0 0 1 0 2 0 a1.0 1.0 0 1 0 -2 0 M304.8 91.7 a1.0 1.0 0 1 0 2 0 a1.0 1.0 0 1 0 -2 0 M306 91.5 a1.0 1.0 0 1 0 2 0 a1.0 1.0 0 1 0 -2 0 M307.2 93 a1.0 1.0 0 1 0 2 0 a1.0 1.0 0 1 0 -2 0 M308.5 95.8 a1.0 1.0 0 1 0 2 0 a1.0 1.0 0 1 0 -2 0 M309.8 94.8 a1.0 1.0 0 1 0 2 0 a1.0 1.0 0 1 0 -2 0 M311 91.7 a1.0 1.0 0 1 0 2 0 a1.0 1.0 0 1 0 -2 0 M312.2 91.3 a1.0 1.0 0 1 0 2 0 a1.0 1.0 0 1 0 -2 0 M313.5 89.5 a1.0 1.0 0 1 0 2 0 a1.0 1.0 0 1 0 -2 0 M314.8 88.1 a1.0 1.0 0 1 0 2 0 a1.0 1.0 0 1 0 -2 0 M316 90 a1.0 1.0 0 1 0 2 0 a1.0 1.0 0 1 0 -2 0 M317.2 86.8 a1.0 1.0 0 1 0 2 0 a1.0 1.0 0 1 0 -2 0 M318.5 87.8 a1.0 1.0 0 1 0 2 0 a1.0 1.0 0 1 0 -2 0 M319.8 87.1 a1.0 1.0 0 1 0 2 0 a1.0 1.0 0 1 0 -2 0 M321 85.6 a1.0 1.0 0 1 0 2 0 a1.0 1.0 0 1 0 -2 0 M322.2 86.8 a1.0 1.0 0 1 0 2 0 a1.0 1.0 0 1 0 -2 0 M323.5 82.8 a1.0 1.0 0 1 0 2 0 a1.0 1.0 0 1 0 -2 0 M324.8 82.4 a1.0 1.0 0 1 0 2 0 a1.0 1.0 0 1 0 -2 0 M326 77 a1.0 1.0 0 1 0 2 0 a1.0 1.0 0 1 0 -2 0 M327.2 74.1 a1.0 1.0 0 1 0 2 0 a1.0 1.0 0 1 0 -2 0 M328.5 68.6 a1.0 1.0 0 1 0 2 0 a1.0 1.0 0 1 0 -2 0 M329.8 63.8 a1.0 1.0 0 1 0 2 0 a1.0 1.0 0 1 0 -2 0 M331 61.5 a1.0 1.0 0 1 0 2 0 a1.0 1.0 0 1 0 -2 0 M332.2 55.9 a1.0 1.0 0 1 0 2 0 a1.0 1.0 0 1 0 -2 0 M333.5 49.4 a1.0 1.0 0 1 0 2 0 a1.0 1.0 0 1 0 -2 0 M334.8 47.9 a1.0 1.0 0 1 0 2 0 a1.0 1.0 0 1 0 -2 0 M336 42 a1.0 1.0 0 1 0 2 0 a1.0 1.0 0 1 0 -2 0 M337.2 40.6 a1.0 1.0 0 1 0 2 0 a1.0 1.0 0 1 0 -2 0 M338.5 41.1 a1.0 1.0 0 1 0 2 0 a1.0 1.0 0 1 0 -2 0 M339.8 40 a1.0 1.0 0 1 0 2 0 a1.0 1.0 0 1 0 -2 0 M341 38.6 a1.0 1.0 0 1 0 2 0 a1.0 1.0 0 1 0 -2 0 M342.2 43.8 a1.0 1.0 0 1 0 2 0 a1.0 1.0 0 1 0 -2 0 M343.5 43.2 a1.0 1.0 0 1 0 2 0 a1.0 1.0 0 1 0 -2 0 M344.8 46.6 a1.0 1.0 0 1 0 2 0 a1.0 1.0 0 1 0 -2 0 M346 52.4 a1.0 1.0 0 1 0 2 0 a1.0 1.0 0 1 0 -2 0 M347.2 54.8 a1.0 1.0 0 1 0 2 0 a1.0 1.0 0 1 0 -2 0 M348.5 59 a1.0 1.0 0 1 0 2 0 a1.0 1.0 0 1 0 -2 0 M349.8 62.5 a1.0 1.0 0 1 0 2 0 a1.0 1.0 0 1 0 -2 0 M351 66.9 a1.0 1.0 0 1 0 2 0 a1.0 1.0 0 1 0 -2 0 M352.2 72.9 a1.0 1.0 0 1 0 2 0 a1.0 1.0 0 1 0 -2 0 M353.5 75.2 a1.0 1.0 0 1 0 2 0 a1.0 1.0 0 1 0 -2 0 M354.8 79.7 a1.0 1.0 0 1 0 2 0 a1.0 1.0 0 1 0 -2 0 M356 81.4 a1.0 1.0 0 1 0 2 0 a1.0 1.0 0 1 0 -2 0 M357.2 83.8 a1.0 1.0 0 1 0 2 0 a1.0 1.0 0 1 0 -2 0 M358.5 87.4 a1.0 1.0 0 1 0 2 0 a1.0 1.0 0 1 0 -2 0 M359.8 87 a1.0 1.0 0 1 0 2 0 a1.0 1.0 0 1 0 -2 0 M361 88.6 a1.0 1.0 0 1 0 2 0 a1.0 1.0 0 1 0 -2 0 M362.2 91.1 a1.0 1.0 0 1 0 2 0 a1.0 1.0 0 1 0 -2 0 M363.5 89.6 a1.0 1.0 0 1 0 2 0 a1.0 1.0 0 1 0 -2 0 M364.8 90.5 a1.0 1.0 0 1 0 2 0 a1.0 1.0 0 1 0 -2 0 M366 94.3 a1.0 1.0 0 1 0 2 0 a1.0 1.0 0 1 0 -2 0 M367.2 94.4 a1.0 1.0 0 1 0 2 0 a1.0 1.0 0 1 0 -2 0 M368.5 92.2 a1.0 1.0 0 1 0 2 0 a1.0 1.0 0 1 0 -2 0 M369.8 91.7 a1.0 1.0 0 1 0 2 0 a1.0 1.0 0 1 0 -2 0 M371 93.5 a1.0 1.0 0 1 0 2 0 a1.0 1.0 0 1 0 -2 0 M372.2 94 a1.0 1.0 0 1 0 2 0 a1.0 1.0 0 1 0 -2 0 M373.5 90.7 a1.0 1.0 0 1 0 2 0 a1.0 1.0 0 1 0 -2 0 M374.8 93.7 a1.0 1.0 0 1 0 2 0 a1.0 1.0 0 1 0 -2 0 M376 93.7 a1.0 1.0 0 1 0 2 0 a1.0 1.0 0 1 0 -2 0 M377.2 93.2 a1.0 1.0 0 1 0 2 0 a1.0 1.0 0 1 0 -2 0 M378.5 93.5 a1.0 1.0 0 1 0 2 0 a1.0 1.0 0 1 0 -2 0 M379.8 93.6 a1.0 1.0 0 1 0 2 0 a1.0 1.0 0 1 0 -2 0 M381 95 a1.0 1.0 0 1 0 2 0 a1.0 1.0 0 1 0 -2 0 M382.2 100.4 a1.0 1.0 0 1 0 2 0 a1.0 1.0 0 1 0 -2 0 M383.5 99.4 a1.0 1.0 0 1 0 2 0 a1.0 1.0 0 1 0 -2 0 M384.8 103.1 a1.0 1.0 0 1 0 2 0 a1.0 1.0 0 1 0 -2 0 M386 103.1 a1.0 1.0 0 1 0 2 0 a1.0 1.0 0 1 0 -2 0 M387.2 107.4 a1.0 1.0 0 1 0 2 0 a1.0 1.0 0 1 0 -2 0 M388.5 108.9 a1.0 1.0 0 1 0 2 0 a1.0 1.0 0 1 0 -2 0 M389.8 110.4 a1.0 1.0 0 1 0 2 0 a1.0 1.0 0 1 0 -2 0 M391 113.2 a1.0 1.0 0 1 0 2 0 a1.0 1.0 0 1 0 -2 0 M392.2 118.9 a1.0 1.0 0 1 0 2 0 a1.0 1.0 0 1 0 -2 0 M393.5 120 a1.0 1.0 0 1 0 2 0 a1.0 1.0 0 1 0 -2 0 M394.8 124.3 a1.0 1.0 0 1 0 2 0 a1.0 1.0 0 1 0 -2 0 M396 128.8 a1.0 1.0 0 1 0 2 0 a1.0 1.0 0 1 0 -2 0 M397.2 132.7 a1.0 1.0 0 1 0 2 0 a1.0 1.0 0 1 0 -2 0 M398.5 133.9 a1.0 1.0 0 1 0 2 0 a1.0 1.0 0 1 0 -2 0 M399.8 134.1 a1.0 1.0 0 1 0 2 0 a1.0 1.0 0 1 0 -2 0 M401 137.8 a1.0 1.0 0 1 0 2 0 a1.0 1.0 0 1 0 -2 0 M402.2 135.7 a1.0 1.0 0 1 0 2 0 a1.0 1.0 0 1 0 -2 0 M403.5 135.4 a1.0 1.0 0 1 0 2 0 a1.0 1.0 0 1 0 -2 0 M404.8 136.8 a1.0 1.0 0 1 0 2 0 a1.0 1.0 0 1 0 -2 0 M406 137.7 a1.0 1.0 0 1 0 2 0 a1.0 1.0 0 1 0 -2 0 M407.2 136.2 a1.0 1.0 0 1 0 2 0 a1.0 1.0 0 1 0 -2 0 " stroke="#000" stroke-width="0.95" fill="none"/>
<rect x="19.3" y="190.7" width="169.3" height="138.3" fill="none" stroke="#151515" stroke-width="1.3"/>
<path d="M19.5 329 V332 M43.7 329 V332 M67.8 329 V332 M92 329 V332 M116.1 329 V332 M140.3 329 V332 M164.5 329 V332 M188.6 329 V332 M31.6 329 V330.8 M55.7 329 V330.8 M79.9 329 V330.8 M104.1 329 V330.8 M128.2 329 V330.8 M152.4 329 V330.8 M176.5 329 V330.8 " stroke="#1a1a1a" stroke-width="1.1" fill="none"/>
<text transform="translate(19.5,341.8) scale(1,1.03)" font-family="Liberation Sans" font-size="8.6" font-weight="bold" text-anchor="middle" fill="#000" >538</text>
<text transform="translate(43.7,341.8) scale(1,1.03)" font-family="Liberation Sans" font-size="8.6" font-weight="bold" text-anchor="middle" fill="#000" >536</text>
<text transform="translate(67.8,341.8) scale(1,1.03)" font-family="Liberation Sans" font-size="8.6" font-weight="bold" text-anchor="middle" fill="#000" >534</text>
<text transform="translate(92,341.8) scale(1,1.03)" font-family="Liberation Sans" font-size="8.6" font-weight="bold" text-anchor="middle" fill="#000" >532</text>
<text transform="translate(116.1,341.8) scale(1,1.03)" font-family="Liberation Sans" font-size="8.6" font-weight="bold" text-anchor="middle" fill="#000" >530</text>
<text transform="translate(140.3,341.8) scale(1,1.03)" font-family="Liberation Sans" font-size="8.6" font-weight="bold" text-anchor="middle" fill="#000" >528</text>
<text transform="translate(164.5,341.8) scale(1,1.03)" font-family="Liberation Sans" font-size="8.6" font-weight="bold" text-anchor="middle" fill="#000" >526</text>
<text transform="translate(188.6,341.8) scale(1,1.03)" font-family="Liberation Sans" font-size="8.6" font-weight="bold" text-anchor="middle" fill="#000" >524</text>
<text transform="translate(107,353) scale(1,1.08)" font-family="Liberation Sans" font-size="8.6" font-weight="bold" text-anchor="middle" fill="#000" >Bindind energy, eV</text>
<text transform="translate(7.9,258.2) rotate(-90) scale(1,0.95)" x="0" y="0" dy="0.36em" font-family="Liberation Sans" font-size="8.7" font-weight="bold" text-anchor="middle">Intensity, a.u.</text>
<text transform="translate(158.3,202) scale(1,1.15)" font-family="Liberation Sans" font-size="7.0" font-weight="bold" text-anchor="start" fill="#000" >O1s</text>
<text transform="translate(158.3,212.3) scale(1,1.15)" font-family="Liberation Sans" font-size="6.75" font-weight="bold" text-anchor="start" fill="#000" >20 min</text>
<text transform="translate(99.1,363) scale(1,1)" font-family="Liberation Serif" font-size="9.5" font-weight="bold" text-anchor="middle" fill="#000" >(e)</text>
<path d="M23.8 197.6 H37.9" stroke="#555" stroke-width="1.1"/>
<text transform="translate(39,200.2) scale(1,1.2)" font-family="Liberation Sans" font-size="5.6" font-weight="bold" text-anchor="start" fill="#000" >Exp</text>
<path d="M23.8 205.6 H37.9" stroke="#ff2020" stroke-width="1.6"/>
<text transform="translate(39,208.2) scale(1,1.2)" font-family="Liberation Sans" font-size="5.6" font-weight="bold" text-anchor="start" fill="#000" >O-Ti (TiO<tspan font-size="4" dy="1.2">2</tspan><tspan dy="-1.2">)</tspan></text>
<path d="M23.8 214.7 H37.9" stroke="#2020ff" stroke-width="1.6"/>
<text transform="translate(39,217.3) scale(1,1.2)" font-family="Liberation Sans" font-size="5.6" font-weight="bold" text-anchor="start" fill="#000" >Oxygen vacancies</text>
<path d="M23.8 222 H37.9" stroke="#30f030" stroke-width="1.6"/>
<text transform="translate(39,224.6) scale(1,1.2)" font-family="Liberation Sans" font-size="5.6" font-weight="bold" text-anchor="start" fill="#000" >O-H</text>
<path d="M23.8 229.5 H37.9" stroke="#a8a868" stroke-width="1.6"/>
<text transform="translate(39,232.1) scale(1,1.2)" font-family="Liberation Sans" font-size="5.6" font-weight="bold" text-anchor="start" fill="#000" >Background</text>
<path d="M23.8 236.8 H37.9" stroke="#30309a" stroke-width="1.6"/>
<text transform="translate(39,239.4) scale(1,1.2)" font-family="Liberation Sans" font-size="5.6" font-weight="bold" text-anchor="start" fill="#000" >Fitted</text>
<circle cx="30.8" cy="197.9" r="1.1" fill="#000"/>
<path d="M55 305.4 L55.5 305.4 L56 305.4 L56.5 305.4 L57 305.4 L57.5 305.4 L58 305.5 L58.5 305.5 L59 305.5 L59.5 305.5 L60 305.5 L60.5 305.5 L61 305.5 L61.5 305.5 L62 305.5 L62.5 305.6 L63 305.6 L63.5 305.6 L64 305.6 L64.5 305.6 L65 305.6 L65.5 305.6 L66 305.6 L66.5 305.6 L67 305.6 L67.5 305.6 L68 305.7 L68.5 305.7 L69 305.7 L69.5 305.7 L70 305.7 L70.5 305.7 L71 305.7 L71.5 305.7 L72 305.7 L72.5 305.7 L73 305.7 L73.5 305.8 L74 305.8 L74.5 305.8 L75 305.8 L75.5 305.8 L76 305.8 L76.5 305.8 L77 305.8 L77.5 305.8 L78 305.8 L78.5 305.9 L79 305.9 L79.5 305.9 L80 305.9 L80.5 305.9 L81 305.9 L81.5 305.9 L82 306 L82.5 306 L83 306 L83.5 306 L84 306 L84.5 306 L85 306.1 L85.5 306.1 L86 306.1 L86.5 306.1 L87 306.1 L87.5 306.2 L88 306.2 L88.5 306.2 L89 306.2 L89.5 306.3 L90 306.3 L90.5 306.3 L91 306.4 L91.5 306.4 L92 306.4 L92.5 306.5 L93 306.5 L93.5 306.5 L94 306.6 L94.5 306.6 L95 306.7 L95.5 306.7 L96 306.8 L96.5 306.8 L97 306.9 L97.5 306.9 L98 307 L98.5 307 L99 307.1 L99.5 307.1 L100 307.2 L100.5 307.2 L101 307.3 L101.5 307.4 L102 307.4 L102.5 307.5 L103 307.5 L103.5 307.6 L104 307.6 L104.5 307.7 L105 307.8 L105.5 307.8 L106 307.9 L106.5 307.9 L107 308 L107.5 308 L108 308.1 L108.5 308.1 L109 308.2 L109.5 308.2 L110 308.3 L110.5 308.4 L111 308.4 L111.5 308.5 L112 308.5 L112.5 308.6 L113 308.6 L113.5 308.7 L114 308.7 L114.5 308.8 L115 308.8 L115.5 308.9 L116 308.9 L116.5 309 L117 309 L117.5 309.1 L118 309.1 L118.5 309.2 L119 309.2 L119.5 309.3 L120 309.4 L120.5 309.4 L121 309.5 L121.5 309.5 L122 309.6 L122.5 309.6 L123 309.7 L123.5 309.7 L124 309.8 L124.5 309.8 L125 309.9 L125.5 309.9 L126 310 L126.5 310 L127 310 L127.5 310.1 L128 310.1 L128.5 310.2 L129 310.2 L129.5 310.3 L130 310.3 L130.5 310.3 L131 310.4 L131.5 310.4 L132 310.5 L132.5 310.5 L133 310.5 L133.5 310.6 L134 310.6 L134.5 310.7 L135 310.7 L135.5 310.7 L136 310.8 L136.5 310.8 L137 310.8 L137.5 310.9 L138 310.9 L138.5 310.9 L139 311 L139.5 311 L140 311 L140.5 311.1 L141 311.1 L141.5 311.1 L142 311.2 L142.5 311.2 L143 311.2 L143.5 311.2 L144 311.3 L144.5 311.3 L145 311.3 L145.5 311.3 L146 311.4 L146.5 311.4 L147 311.4 L147.5 311.4 L148 311.4 L148.5 311.5 L149 311.5 L149.5 311.5 L150 311.5 L150.5 311.5 L151 311.5 L151.5 311.5 L152 311.5 L152.5 311.6 L153 311.6 L153.5 311.6 L154 311.6 L154.5 311.6 L155 311.6 L155.5 311.6 L156 311.6 L156.5 311.6 L157 311.6 L157.5 311.6 L158 311.7 L158.5 311.7 L159 311.7 L159.5 311.7 L160 311.7 L160.5 311.7 L161 311.7 L161.5 311.7 L162 311.7 L162.5 311.7 L163 311.7 L163.5 311.7 L164 311.7 L164.5 311.7 L165 311.7 L165.5 311.7 L166 311.7 L166.5 311.7 L167 311.7 L167.5 311.7 L168 311.7 L168.5 311.7 L169 311.7 L169.5 311.7 L170 311.7 L170.5 311.7 L171 311.7 L171.5 311.7 L172 311.7 L172.5 311.7 L173 311.7 L173.5 311.7 L174 311.7 L174.5 311.7 L175 311.7 L175.5 311.8 L176 311.8 L176.5 311.8 L177 311.8 L177.5 311.8 L178 311.8 L178.5 311.8 L179 311.8 L179.5 311.8 L180 311.8 L180.5 311.8 L181 311.8 L181.5 311.8 L182 311.8 L182.5 311.8 L183 311.8 L183.5 311.8 L184 311.8 L184.5 311.8 L185 311.8 L185.5 311.8 L186 311.8 L186.5 311.8 L187 311.8 L187.5 311.8 L188 311.8" stroke="#a0a060" stroke-width="1.0" fill="none" stroke-linejoin="round" />
<path d="M40 305 L40.5 305.1 L41 305.1 L41.5 305.1 L42 305.1 L42.5 305.1 L43 305.1 L43.5 305.1 L44 305.1 L44.5 305.1 L45 305.1 L45.5 305.2 L46 305.2 L46.5 305.2 L47 305.2 L47.5 305.2 L48 305.2 L48.5 305.2 L49 305.2 L49.5 305.2 L50 305.2 L50.5 305.2 L51 305.2 L51.5 305.2 L52 305.2 L52.5 305.2 L53 305.2 L53.5 305.2 L54 305.2 L54.5 305.1 L55 305.1 L55.5 305.1 L56 305 L56.5 305 L57 304.9 L57.5 304.8 L58 304.7 L58.5 304.6 L59 304.5 L59.5 304.4 L60 304.2 L60.5 304.1 L61 303.9 L61.5 303.7 L62 303.4 L62.5 303.2 L63 302.9 L63.5 302.6 L64 302.3 L64.5 302 L65 301.6 L65.5 301.2 L66 300.8 L66.5 300.4 L67 300 L67.5 299.6 L68 299.1 L68.5 298.7 L69 298.2 L69.5 297.7 L70 297.3 L70.5 296.8 L71 296.4 L71.5 295.9 L72 295.5 L72.5 295.1 L73 294.8 L73.5 294.5 L74 294.2 L74.5 293.9 L75 293.7 L75.5 293.5 L76 293.4 L76.5 293.3 L77 293.3 L77.5 293.4 L78 293.4 L78.5 293.5 L79 293.7 L79.5 293.9 L80 294.2 L80.5 294.5 L81 294.8 L81.5 295.2 L82 295.6 L82.5 296 L83 296.5 L83.5 296.9 L84 297.4 L84.5 297.9 L85 298.4 L85.5 298.9 L86 299.4 L86.5 299.9 L87 300.3 L87.5 300.8 L88 301.3 L88.5 301.7 L89 302.1 L89.5 302.5 L90 302.9 L90.5 303.3 L91 303.6 L91.5 303.9 L92 304.2 L92.5 304.5 L93 304.8 L93.5 305 L94 305.2 L94.5 305.5 L95 305.7 L95.5 305.8 L96 306 L96.5 306.2 L97 306.3 L97.5 306.4 L98 306.6 L98.5 306.7 L99 306.8 L99.5 306.9 L100 307 L100.5 307.1 L101 307.2 L101.5 307.2 L102 307.3 L102.5 307.4 L103 307.5 L103.5 307.5 L104 307.6 L104.5 307.7 L105 307.7 L105.5 307.8 L106 307.9 L106.5 307.9 L107 308 L107.5 308 L108 308.1 L108.5 308.1 L109 308.2 L109.5 308.2 L110 308.3 L110.5 308.3 L111 308.4 L111.5 308.5 L112 308.5 L112.5 308.6 L113 308.6 L113.5 308.7 L114 308.7 L114.5 308.8 L115 308.8 L115.5 308.9 L116 308.9 L116.5 309 L117 309 L117.5 309.1 L118 309.1 L118.5 309.2 L119 309.2 L119.5 309.3 L120 309.3 L120.5 309.4 L121 309.5 L121.5 309.5 L122 309.6 L122.5 309.6 L123 309.7 L123.5 309.7 L124 309.8 L124.5 309.8 L125 309.9 L125.5 309.9 L126 310 L126.5 310 L127 310 L127.5 310.1 L128 310.1 L128.5 310.2 L129 310.2 L129.5 310.3 L130 310.3 L130.5 310.3 L131 310.4 L131.5 310.4 L132 310.5 L132.5 310.5 L133 310.5 L133.5 310.6 L134 310.6 L134.5 310.7 L135 310.7 L135.5 310.7 L136 310.8 L136.5 310.8 L137 310.8 L137.5 310.9 L138 310.9 L138.5 310.9 L139 311 L139.5 311 L140 311 L140.5 311.1 L141 311.1 L141.5 311.1 L142 311.2 L142.5 311.2 L143 311.2 L143.5 311.2 L144 311.3 L144.5 311.3 L145 311.3 L145.5 311.3 L146 311.4 L146.5 311.4 L147 311.4 L147.5 311.4 L148 311.4 L148.5 311.5 L149 311.5 L149.5 311.5 L150 311.5 L150.5 311.5 L151 311.5 L151.5 311.5 L152 311.5 L152.5 311.6 L153 311.6 L153.5 311.6 L154 311.6 L154.5 311.6 L155 311.6 L155.5 311.6 L156 311.6 L156.5 311.6 L157 311.6 L157.5 311.6 L158 311.7 L158.5 311.7 L159 311.7 L159.5 311.7 L160 311.7 L160.5 311.7 L161 311.7 L161.5 311.7 L162 311.7 L162.5 311.7 L163 311.7 L163.5 311.7 L164 311.7 L164.5 311.7 L165 311.7 L165.5 311.7 L166 311.7 L166.5 311.7 L167 311.7 L167.5 311.7 L168 311.7 L168.5 311.7 L169 311.7 L169.5 311.7 L170 311.7 L170.5 311.7 L171 311.7 L171.5 311.7 L172 311.7 L172.5 311.7 L173 311.7 L173.5 311.7 L174 311.7 L174.5 311.7 L175 311.7 L175.5 311.8 L176 311.8 L176.5 311.8 L177 311.8 L177.5 311.8 L178 311.8 L178.5 311.8 L179 311.8 L179.5 311.8 L180 311.8 L180.5 311.8 L181 311.8 L181.5 311.8 L182 311.8 L182.5 311.8 L183 311.8 L183.5 311.8 L184 311.8 L184.5 311.8 L185 311.8 L185.5 311.8 L186 311.8 L186.5 311.8 L187 311.8 L187.5 311.8 L188 311.8" stroke="#20e020" stroke-width="1.1" fill="none" stroke-linejoin="round" />
<path d="M50 305.3 L50.5 305.3 L51 305.3 L51.5 305.3 L52 305.3 L52.5 305.3 L53 305.3 L53.5 305.3 L54 305.4 L54.5 305.4 L55 305.4 L55.5 305.4 L56 305.4 L56.5 305.4 L57 305.4 L57.5 305.4 L58 305.5 L58.5 305.5 L59 305.5 L59.5 305.5 L60 305.5 L60.5 305.5 L61 305.5 L61.5 305.5 L62 305.5 L62.5 305.6 L63 305.6 L63.5 305.6 L64 305.6 L64.5 305.6 L65 305.6 L65.5 305.6 L66 305.6 L66.5 305.6 L67 305.6 L67.5 305.6 L68 305.6 L68.5 305.6 L69 305.6 L69.5 305.6 L70 305.6 L70.5 305.6 L71 305.6 L71.5 305.5 L72 305.5 L72.5 305.5 L73 305.5 L73.5 305.4 L74 305.3 L74.5 305.3 L75 305.2 L75.5 305.1 L76 305 L76.5 304.9 L77 304.7 L77.5 304.5 L78 304.4 L78.5 304.1 L79 303.9 L79.5 303.6 L80 303.3 L80.5 303 L81 302.6 L81.5 302.2 L82 301.7 L82.5 301.2 L83 300.6 L83.5 300 L84 299.4 L84.5 298.7 L85 297.9 L85.5 297.2 L86 296.3 L86.5 295.4 L87 294.5 L87.5 293.6 L88 292.6 L88.5 291.5 L89 290.5 L89.5 289.4 L90 288.3 L90.5 287.2 L91 286.1 L91.5 285.1 L92 284 L92.5 283 L93 282 L93.5 281 L94 280.1 L94.5 279.3 L95 278.5 L95.5 277.8 L96 277.2 L96.5 276.7 L97 276.2 L97.5 275.9 L98 275.7 L98.5 275.6 L99 275.6 L99.5 275.7 L100 276 L100.5 276.4 L101 276.9 L101.5 277.6 L102 278.3 L102.5 279.2 L103 280.2 L103.5 281.3 L104 282.4 L104.5 283.6 L105 284.9 L105.5 286.2 L106 287.5 L106.5 288.8 L107 290.1 L107.5 291.5 L108 292.8 L108.5 294 L109 295.2 L109.5 296.4 L110 297.6 L110.5 298.6 L111 299.6 L111.5 300.6 L112 301.5 L112.5 302.3 L113 303.1 L113.5 303.8 L114 304.4 L114.5 305 L115 305.6 L115.5 306.1 L116 306.5 L116.5 306.9 L117 307.3 L117.5 307.6 L118 307.9 L118.5 308.1 L119 308.3 L119.5 308.5 L120 308.7 L120.5 308.9 L121 309 L121.5 309.2 L122 309.3 L122.5 309.4 L123 309.5 L123.5 309.6 L124 309.6 L124.5 309.7 L125 309.8 L125.5 309.8 L126 309.9 L126.5 310 L127 310 L127.5 310.1 L128 310.1 L128.5 310.2 L129 310.2 L129.5 310.3 L130 310.3 L130.5 310.3 L131 310.4 L131.5 310.4 L132 310.5 L132.5 310.5 L133 310.5 L133.5 310.6 L134 310.6 L134.5 310.7 L135 310.7 L135.5 310.7 L136 310.8 L136.5 310.8 L137 310.8 L137.5 310.9 L138 310.9 L138.5 310.9 L139 311 L139.5 311 L140 311 L140.5 311.1 L141 311.1 L141.5 311.1 L142 311.2 L142.5 311.2 L143 311.2 L143.5 311.2 L144 311.3 L144.5 311.3 L145 311.3 L145.5 311.3 L146 311.4 L146.5 311.4 L147 311.4 L147.5 311.4 L148 311.4 L148.5 311.5 L149 311.5 L149.5 311.5 L150 311.5 L150.5 311.5 L151 311.5 L151.5 311.5 L152 311.5 L152.5 311.6 L153 311.6 L153.5 311.6 L154 311.6 L154.5 311.6 L155 311.6 L155.5 311.6 L156 311.6 L156.5 311.6 L157 311.6 L157.5 311.6 L158 311.7 L158.5 311.7 L159 311.7 L159.5 311.7 L160 311.7 L160.5 311.7 L161 311.7 L161.5 311.7 L162 311.7 L162.5 311.7 L163 311.7 L163.5 311.7 L164 311.7 L164.5 311.7 L165 311.7 L165.5 311.7 L166 311.7 L166.5 311.7 L167 311.7 L167.5 311.7 L168 311.7 L168.5 311.7 L169 311.7 L169.5 311.7 L170 311.7 L170.5 311.7 L171 311.7 L171.5 311.7 L172 311.7 L172.5 311.7 L173 311.7 L173.5 311.7 L174 311.7 L174.5 311.7 L175 311.7 L175.5 311.8 L176 311.8 L176.5 311.8 L177 311.8 L177.5 311.8 L178 311.8 L178.5 311.8 L179 311.8 L179.5 311.8 L180 311.8 L180.5 311.8 L181 311.8 L181.5 311.8 L182 311.8 L182.5 311.8 L183 311.8 L183.5 311.8 L184 311.8 L184.5 311.8 L185 311.8 L185.5 311.8 L186 311.8 L186.5 311.8 L187 311.8 L187.5 311.8 L188 311.8" stroke="#0000ff" stroke-width="1.1" fill="none" stroke-linejoin="round" />
<path d="M70 305.7 L70.5 305.7 L71 305.7 L71.5 305.7 L72 305.7 L72.5 305.7 L73 305.7 L73.5 305.7 L74 305.8 L74.5 305.8 L75 305.8 L75.5 305.8 L76 305.8 L76.5 305.8 L77 305.8 L77.5 305.8 L78 305.8 L78.5 305.8 L79 305.8 L79.5 305.8 L80 305.8 L80.5 305.8 L81 305.8 L81.5 305.8 L82 305.7 L82.5 305.7 L83 305.7 L83.5 305.6 L84 305.6 L84.5 305.5 L85 305.4 L85.5 305.3 L86 305.2 L86.5 305.1 L87 304.9 L87.5 304.7 L88 304.5 L88.5 304.2 L89 303.9 L89.5 303.6 L90 303.2 L90.5 302.8 L91 302.3 L91.5 301.8 L92 301.2 L92.5 300.5 L93 299.7 L93.5 298.9 L94 298 L94.5 296.9 L95 295.8 L95.5 294.6 L96 293.3 L96.5 291.8 L97 290.2 L97.5 288.6 L98 286.7 L98.5 284.8 L99 282.8 L99.5 280.6 L100 278.3 L100.5 275.8 L101 273.3 L101.5 270.6 L102 267.9 L102.5 265 L103 262.1 L103.5 259.1 L104 256 L104.5 252.9 L105 249.7 L105.5 246.6 L106 243.4 L106.5 240.3 L107 237.2 L107.5 234.1 L108 231.2 L108.5 228.3 L109 225.6 L109.5 223 L110 220.6 L110.5 218.4 L111 216.3 L111.5 214.5 L112 212.9 L112.5 211.6 L113 210.5 L113.5 209.7 L114 209.2 L114.5 208.9 L115 208.9 L115.5 209.3 L116 210 L116.5 211.1 L117 212.4 L117.5 214.1 L118 216.1 L118.5 218.3 L119 220.8 L119.5 223.6 L120 226.5 L120.5 229.6 L121 232.9 L121.5 236.3 L122 239.8 L122.5 243.3 L123 246.9 L123.5 250.5 L124 254.1 L124.5 257.7 L125 261.2 L125.5 264.7 L126 268 L126.5 271.3 L127 274.4 L127.5 277.4 L128 280.2 L128.5 282.9 L129 285.5 L129.5 287.9 L130 290.1 L130.5 292.2 L131 294.1 L131.5 295.9 L132 297.6 L132.5 299.1 L133 300.4 L133.5 301.7 L134 302.8 L134.5 303.8 L135 304.8 L135.5 305.6 L136 306.3 L136.5 307 L137 307.5 L137.5 308 L138 308.5 L138.5 308.9 L139 309.2 L139.5 309.5 L140 309.8 L140.5 310 L141 310.2 L141.5 310.4 L142 310.6 L142.5 310.7 L143 310.8 L143.5 310.9 L144 311 L144.5 311.1 L145 311.1 L145.5 311.2 L146 311.2 L146.5 311.3 L147 311.3 L147.5 311.4 L148 311.4 L148.5 311.4 L149 311.4 L149.5 311.5 L150 311.5 L150.5 311.5 L151 311.5 L151.5 311.5 L152 311.5 L152.5 311.6 L153 311.6 L153.5 311.6 L154 311.6 L154.5 311.6 L155 311.6 L155.5 311.6 L156 311.6 L156.5 311.6 L157 311.6 L157.5 311.6 L158 311.7 L158.5 311.7 L159 311.7 L159.5 311.7 L160 311.7 L160.5 311.7 L161 311.7 L161.5 311.7 L162 311.7 L162.5 311.7 L163 311.7 L163.5 311.7 L164 311.7 L164.5 311.7 L165 311.7 L165.5 311.7 L166 311.7 L166.5 311.7 L167 311.7 L167.5 311.7 L168 311.7 L168.5 311.7 L169 311.7 L169.5 311.7 L170 311.7 L170.5 311.7 L171 311.7 L171.5 311.7 L172 311.7 L172.5 311.7 L173 311.7 L173.5 311.7 L174 311.7 L174.5 311.7 L175 311.7 L175.5 311.8 L176 311.8 L176.5 311.8 L177 311.8 L177.5 311.8 L178 311.8 L178.5 311.8 L179 311.8 L179.5 311.8 L180 311.8 L180.5 311.8 L181 311.8 L181.5 311.8 L182 311.8 L182.5 311.8 L183 311.8 L183.5 311.8 L184 311.8 L184.5 311.8 L185 311.8 L185.5 311.8 L186 311.8 L186.5 311.8 L187 311.8 L187.5 311.8 L188 311.8" stroke="#ff0000" stroke-width="1.1" fill="none" stroke-linejoin="round" />
<path d="M20 304.8 L20.8 305.1 L21.6 305.2 L22.4 305.5 L23.2 305.2 L24 305.5 L24.8 303.8 L25.6 304.7 L26.4 305.6 L27.2 305.1 L28 305.6 L28.8 304 L29.6 304.8 L30.4 304.3 L31.2 304.9 L32 305 L32.8 303.9 L33.6 304.3 L34.4 304.5 L35.2 305.8 L36 305.5 L36.8 304.3 L37.6 305.6 L38.4 304.3 L39.2 305.3 L40 304.3 L40.8 304.1 L41.6 305.8 L42.4 304.5 L43.2 304.5 L44 306.1 L44.8 305.9 L45.6 304.7 L46.4 306.1 L47.2 305.3 L48 305.6 L48.8 304.6 L49.6 306.1 L50.4 305.6 L51.2 306.2 L52 306 L52.8 304.8 L53.6 304.9 L54.4 304.5 L55.2 304.4 L56 304.1 L56.8 304.5 L57.6 305 L58.4 303.7 L59.2 304.8 L60 303.9 L60.8 303.7 L61.6 304 L62.4 303.2 L63.2 302.6 L64 302.3 L64.8 302 L65.6 300.6 L66.4 301.1 L67.2 299.2 L68 299.4 L68.8 298.7 L69.6 296.9 L70.4 297.1 L71.2 295.8 L72 295.3 L72.8 293.9 L73.6 293.3 L74.4 292.9 L75.2 293.2 L76 291.8 L76.8 292 L77.6 291.9 L78.4 291.5 L79.2 290.5 L80 290.2 L80.8 290.2 L81.6 290.2 L82.4 289.1 L83.2 289.5 L84 289.2 L84.8 288.7 L85.6 287.1 L86.4 287.4 L87.2 285.5 L88 284.6 L88.8 283.6 L89.6 282.5 L90.4 280 L91.2 278.8 L92 276.1 L92.8 273.5 L93.6 271 L94.4 268.2 L95.2 265.2 L96 262.4 L96.8 260 L97.6 257.2 L98.4 253 L99.2 249.6 L100 247.4 L100.8 243.6 L101.6 240.2 L102.4 236.8 L103.2 234 L104 231.1 L104.8 227.6 L105.6 224.4 L106.4 221 L107.2 219.1 L108 215.3 L108.8 213.3 L109.6 211.3 L110.4 208.4 L111.2 207.5 L112 206.4 L112.8 205.2 L113.6 205.1 L114.4 204.5 L115.2 205.6 L116 206.6 L116.8 209.4 L117.6 211.2 L118.4 214.5 L119.2 218.7 L120 222.7 L120.8 227.5 L121.6 232.1 L122.4 237.9 L123.2 244 L124 249.6 L124.8 255.2 L125.6 261 L126.4 266.1 L127.2 271.5 L128 277 L128.8 281.4 L129.6 285.1 L130.4 288.6 L131.2 291.7 L132 294.3 L132.8 297.1 L133.6 300 L134.4 302 L135.2 303 L136 305 L136.8 306.1 L137.6 307 L138.4 307.8 L139.2 308.6 L140 308.7 L140.8 309.8 L141.6 309.3 L142.4 310.1 L143.2 310.9 L144 311 L144.8 310.4 L145.6 311.8 L146.4 311.3 L147.2 311.3 L148 310.3 L148.8 311.4 L149.6 310.9 L150.4 311.8 L151.2 311.4 L152 312.1 L152.8 311.8 L153.6 312.1 L154.4 311.3 L155.2 311.9 L156 312.1 L156.8 312.3 L157.6 311.3 L158.4 312.3 L159.2 312.4 L160 312 L160.8 312.6 L161.6 312.6 L162.4 311.7 L163.2 311.8 L164 311 L164.8 312.4 L165.6 312.6 L166.4 311.7 L167.2 312.1 L168 312.2 L168.8 312.2 L169.6 311.1 L170.4 312.3 L171.2 311.9 L172 312.1 L172.8 311.6 L173.6 312 L174.4 312.3 L175.2 312 L176 312.2 L176.8 310.8 L177.6 311.1 L178.4 311.6 L179.2 312.1 L180 311.2 L180.8 312.1 L181.6 312 L182.4 310.9 L183.2 311.7 L184 311.2 L184.8 310.9 L185.6 311.1 L186.4 311.4 L187.2 311.2 L188 311.2" stroke="#20207a" stroke-width="1.5" fill="none" stroke-linejoin="round" />
<path d="M21.5 305.5 a0.95 0.95 0 1 0 1.9 0 a0.95 0.95 0 1 0 -1.9 0 M23.9 303.8 a0.95 0.95 0 1 0 1.9 0 a0.95 0.95 0 1 0 -1.9 0 M26.3 305.1 a0.95 0.95 0 1 0 1.9 0 a0.95 0.95 0 1 0 -1.9 0 M28.7 304.8 a0.95 0.95 0 1 0 1.9 0 a0.95 0.95 0 1 0 -1.9 0 M31.1 305 a0.95 0.95 0 1 0 1.9 0 a0.95 0.95 0 1 0 -1.9 0 M33.4 304.5 a0.95 0.95 0 1 0 1.9 0 a0.95 0.95 0 1 0 -1.9 0 M35.8 304.3 a0.95 0.95 0 1 0 1.9 0 a0.95 0.95 0 1 0 -1.9 0 M38.2 305.3 a0.95 0.95 0 1 0 1.9 0 a0.95 0.95 0 1 0 -1.9 0 M40.6 305.8 a0.95 0.95 0 1 0 1.9 0 a0.95 0.95 0 1 0 -1.9 0 M43 306.1 a0.95 0.95 0 1 0 1.9 0 a0.95 0.95 0 1 0 -1.9 0 M45.4 306.1 a0.95 0.95 0 1 0 1.9 0 a0.95 0.95 0 1 0 -1.9 0 M47.8 304.6 a0.95 0.95 0 1 0 1.9 0 a0.95 0.95 0 1 0 -1.9 0 M50.2 306.2 a0.95 0.95 0 1 0 1.9 0 a0.95 0.95 0 1 0 -1.9 0 M52.6 304.9 a0.95 0.95 0 1 0 1.9 0 a0.95 0.95 0 1 0 -1.9 0 M55 304.1 a0.95 0.95 0 1 0 1.9 0 a0.95 0.95 0 1 0 -1.9 0 M57.4 303.7 a0.95 0.95 0 1 0 1.9 0 a0.95 0.95 0 1 0 -1.9 0 M59.8 303.7 a0.95 0.95 0 1 0 1.9 0 a0.95 0.95 0 1 0 -1.9 0 M62.2 302.6 a0.95 0.95 0 1 0 1.9 0 a0.95 0.95 0 1 0 -1.9 0 M64.6 300.6 a0.95 0.95 0 1 0 1.9 0 a0.95 0.95 0 1 0 -1.9 0 M67 299.4 a0.95 0.95 0 1 0 1.9 0 a0.95 0.95 0 1 0 -1.9 0 M69.4 297.1 a0.95 0.95 0 1 0 1.9 0 a0.95 0.95 0 1 0 -1.9 0 M71.8 293.9 a0.95 0.95 0 1 0 1.9 0 a0.95 0.95 0 1 0 -1.9 0 M74.2 293.2 a0.95 0.95 0 1 0 1.9 0 a0.95 0.95 0 1 0 -1.9 0 M76.6 291.9 a0.95 0.95 0 1 0 1.9 0 a0.95 0.95 0 1 0 -1.9 0 M79 290.2 a0.95 0.95 0 1 0 1.9 0 a0.95 0.95 0 1 0 -1.9 0 M81.4 289.1 a0.95 0.95 0 1 0 1.9 0 a0.95 0.95 0 1 0 -1.9 0 M83.8 288.7 a0.95 0.95 0 1 0 1.9 0 a0.95 0.95 0 1 0 -1.9 0 M86.2 285.5 a0.95 0.95 0 1 0 1.9 0 a0.95 0.95 0 1 0 -1.9 0 M88.6 282.5 a0.95 0.95 0 1 0 1.9 0 a0.95 0.95 0 1 0 -1.9 0 M91 276.1 a0.95 0.95 0 1 0 1.9 0 a0.95 0.95 0 1 0 -1.9 0 M93.4 268.2 a0.95 0.95 0 1 0 1.9 0 a0.95 0.95 0 1 0 -1.9 0 M95.8 260 a0.95 0.95 0 1 0 1.9 0 a0.95 0.95 0 1 0 -1.9 0 M98.2 249.6 a0.95 0.95 0 1 0 1.9 0 a0.95 0.95 0 1 0 -1.9 0 M100.6 240.2 a0.95 0.95 0 1 0 1.9 0 a0.95 0.95 0 1 0 -1.9 0 M103 231.1 a0.95 0.95 0 1 0 1.9 0 a0.95 0.95 0 1 0 -1.9 0 M105.4 221 a0.95 0.95 0 1 0 1.9 0 a0.95 0.95 0 1 0 -1.9 0 M107.8 213.3 a0.95 0.95 0 1 0 1.9 0 a0.95 0.95 0 1 0 -1.9 0 M110.2 207.5 a0.95 0.95 0 1 0 1.9 0 a0.95 0.95 0 1 0 -1.9 0 M112.6 205.1 a0.95 0.95 0 1 0 1.9 0 a0.95 0.95 0 1 0 -1.9 0 M115 206.6 a0.95 0.95 0 1 0 1.9 0 a0.95 0.95 0 1 0 -1.9 0 M117.4 214.5 a0.95 0.95 0 1 0 1.9 0 a0.95 0.95 0 1 0 -1.9 0 M119.8 227.5 a0.95 0.95 0 1 0 1.9 0 a0.95 0.95 0 1 0 -1.9 0 M122.2 244 a0.95 0.95 0 1 0 1.9 0 a0.95 0.95 0 1 0 -1.9 0 M124.6 261 a0.95 0.95 0 1 0 1.9 0 a0.95 0.95 0 1 0 -1.9 0 M127 277 a0.95 0.95 0 1 0 1.9 0 a0.95 0.95 0 1 0 -1.9 0 M129.4 288.6 a0.95 0.95 0 1 0 1.9 0 a0.95 0.95 0 1 0 -1.9 0 M131.8 297.1 a0.95 0.95 0 1 0 1.9 0 a0.95 0.95 0 1 0 -1.9 0 M134.2 303 a0.95 0.95 0 1 0 1.9 0 a0.95 0.95 0 1 0 -1.9 0 M136.6 307 a0.95 0.95 0 1 0 1.9 0 a0.95 0.95 0 1 0 -1.9 0 M139 308.7 a0.95 0.95 0 1 0 1.9 0 a0.95 0.95 0 1 0 -1.9 0 M141.4 310.1 a0.95 0.95 0 1 0 1.9 0 a0.95 0.95 0 1 0 -1.9 0 M143.8 310.4 a0.95 0.95 0 1 0 1.9 0 a0.95 0.95 0 1 0 -1.9 0 M146.2 311.3 a0.95 0.95 0 1 0 1.9 0 a0.95 0.95 0 1 0 -1.9 0 M148.6 310.9 a0.95 0.95 0 1 0 1.9 0 a0.95 0.95 0 1 0 -1.9 0 M151.1 312.1 a0.95 0.95 0 1 0 1.9 0 a0.95 0.95 0 1 0 -1.9 0 M153.5 311.3 a0.95 0.95 0 1 0 1.9 0 a0.95 0.95 0 1 0 -1.9 0 M155.9 312.3 a0.95 0.95 0 1 0 1.9 0 a0.95 0.95 0 1 0 -1.9 0 M158.3 312.4 a0.95 0.95 0 1 0 1.9 0 a0.95 0.95 0 1 0 -1.9 0 M160.7 312.6 a0.95 0.95 0 1 0 1.9 0 a0.95 0.95 0 1 0 -1.9 0 M163.1 311 a0.95 0.95 0 1 0 1.9 0 a0.95 0.95 0 1 0 -1.9 0 M165.5 311.7 a0.95 0.95 0 1 0 1.9 0 a0.95 0.95 0 1 0 -1.9 0 M167.9 312.2 a0.95 0.95 0 1 0 1.9 0 a0.95 0.95 0 1 0 -1.9 0 M170.3 311.9 a0.95 0.95 0 1 0 1.9 0 a0.95 0.95 0 1 0 -1.9 0 M172.7 312 a0.95 0.95 0 1 0 1.9 0 a0.95 0.95 0 1 0 -1.9 0 M175.1 312.2 a0.95 0.95 0 1 0 1.9 0 a0.95 0.95 0 1 0 -1.9 0 M177.5 311.6 a0.95 0.95 0 1 0 1.9 0 a0.95 0.95 0 1 0 -1.9 0 M179.9 312.1 a0.95 0.95 0 1 0 1.9 0 a0.95 0.95 0 1 0 -1.9 0 M182.3 311.7 a0.95 0.95 0 1 0 1.9 0 a0.95 0.95 0 1 0 -1.9 0 M184.7 311.1 a0.95 0.95 0 1 0 1.9 0 a0.95 0.95 0 1 0 -1.9 0 " fill="#000"/>
<rect x="234.3" y="190.3" width="169.9" height="139.2" fill="none" stroke="#151515" stroke-width="1.3"/>
<path d="M253.3 329.5 V332.5 M291 329.5 V332.5 M328.7 329.5 V332.5 M366.5 329.5 V332.5 M404.2 329.5 V332.5 M272.2 329.5 V331.3 M309.9 329.5 V331.3 M347.6 329.5 V331.3 M385.3 329.5 V331.3 " stroke="#1a1a1a" stroke-width="1.1" fill="none"/>
<text transform="translate(253.3,340.2) scale(1,1.08)" font-family="Liberation Sans" font-size="8.0" font-weight="bold" text-anchor="middle" fill="#000" >408</text>
<text transform="translate(291,340.2) scale(1,1.08)" font-family="Liberation Sans" font-size="8.0" font-weight="bold" text-anchor="middle" fill="#000" >404</text>
<text transform="translate(328.7,340.2) scale(1,1.08)" font-family="Liberation Sans" font-size="8.0" font-weight="bold" text-anchor="middle" fill="#000" >400</text>
<text transform="translate(366.5,340.2) scale(1,1.08)" font-family="Liberation Sans" font-size="8.0" font-weight="bold" text-anchor="middle" fill="#000" >396</text>
<text transform="translate(404.2,340.2) scale(1,1.08)" font-family="Liberation Sans" font-size="8.0" font-weight="bold" text-anchor="middle" fill="#000" >392</text>
<text transform="translate(326.7,351.6) scale(1,1.08)" font-family="Liberation Sans" font-size="8.4" font-weight="bold" text-anchor="middle" fill="#000" >Bindind energy, eV</text>
<text transform="translate(223.4,257.3) rotate(-90) scale(1,0.95)" x="0" y="0" dy="0.36em" font-family="Liberation Sans" font-size="8.7" font-weight="bold" text-anchor="middle">Intensity, a.u.</text>
<text transform="translate(314.5,363.2) scale(1,1)" font-family="Liberation Serif" font-size="9.3" font-weight="bold" text-anchor="middle" fill="#000" >(f)</text>
<text transform="translate(385,200.8) scale(1,1.08)" font-family="Liberation Sans" font-size="8.9" font-weight="bold" text-anchor="start" fill="#000" >N1s</text>
<path d="M234.1 302.3 L236.2 305.5 L239.3 303.4 L242.5 303 L244.6 308.6 L246.7 312.8 L248.8 311.4 L250.9 308.6 L253 310.7 L256.1 306.5 L258.2 314.9 L260.3 311.6 L262.4 309.7 L265.5 310.7 L267.6 314.9 L269.7 308.6 L271.8 310 L273.9 312.8 L277.1 313.9 L280.2 314.9 L282.3 309.3 L284.4 316 L287.6 310.7 L289.7 313.9 L291.8 316 L294.9 314.9 L297 312.7 L299.1 309.7 L302.2 309.7 L305.4 318 L307.5 315.8 L309.6 312.8 L311.7 310.7 L313.8 311.9 L315.9 312.8 L319 305.5 L321.1 303.4 L324.3 314.9 L326.4 311.8 L327.4 316 L330.6 310.1 L332.7 310.9 L334.8 311.4 L336.9 312.2 L339 312.8 L342.1 311.8 L344.2 314.9 L346.3 319.1 L349.4 314.9 L351.5 312.2 L353.6 309.7 L356.8 314.9 L360 308.6 L362 309.7 L364.1 312.7 L366.2 316 L369.4 314.9 L371.5 316.8 L373.6 318 L375.6 316.2 L377.7 312.8 L380.9 316 L383 315.7 L385.1 313.9 L388.2 314.9 L390.3 323.3 L393.5 312.8 L396.6 320.2 L399.8 322.3 L402.9 318 L404 316" stroke="#000" stroke-width="1.6" fill="none" stroke-linejoin="round" />
<path d="M234.4 269.3 L235.8 270.7 L237.2 273.4 L238.7 275.1 L240.1 277.4 L241.7 275.2 L243.3 272.8 L244.9 270.1 L246.5 271.4 L248.2 273.5 L249.8 277.5 L251.4 279 L253.1 276.8 L254.7 275.7 L256.1 276.1 L257.5 278.8 L258.9 278.7 L260.3 279.8 L261.7 280.9 L263.1 280.5 L264.6 281.3 L266 281.4 L267.6 280.4 L269.2 281.2 L270.8 280.6 L272.4 282.5 L274.1 282.8 L275.7 283.8 L277.3 284.6 L278.9 284.7 L280.5 284.6 L282.1 283.4 L283.8 284.6 L285.4 283.8 L287 284.8 L288.7 285 L290.3 286.3 L291.9 284.4 L293.5 285.4 L295.1 283.8 L296.7 287 L298.3 290.3 L300 288.1 L301.7 285 L303.4 286.3 L305 286.5 L306.7 287.4 L308.3 286.8 L310 287.5 L311.5 289 L313 289.1 L314.5 291 L316 291.7 L317.5 291.7 L318.9 289.1 L320.4 287.5 L321.9 286.1 L323.3 285 L325 286 L326.7 284.9 L328.3 285.3 L330 284.6 L331.7 285 L333.4 284.6 L335 283.9 L336.6 283.4 L338.3 283.3 L340 282.2 L341.6 281 L343.3 280.4 L345 278.3 L346.7 278.2 L348.3 278.2 L350 277.6 L351.6 277.4 L353.3 275.8 L355 274.8 L356.6 272.3 L358.3 271.7 L360 270 L361.7 272.5 L363.3 274.4 L365 275 L367.3 276.4 L369.1 280.3 L370.9 282.6 L372.7 285.5 L374.2 286.3 L375.6 285.6 L377.1 287.3 L378.5 287.1 L380 287.3 L381.5 288 L383 288.7 L384.5 291.7 L386 293.2 L387.5 292.4 L389 294.5 L390.8 295.8 L392.7 295.6 L394.5 296.4 L396.1 295.3 L397.8 295.2 L399.4 295.9 L401.1 295.7 L402.7 294.5 L404 293" stroke="#ff0000" stroke-width="1.6" fill="none" stroke-linejoin="round" />
<path d="M234.4 266 L235.8 266.8 L237.1 267.9 L238.5 270.1 L240.4 268.5 L242.2 266.6 L244.1 266 L245.5 266.1 L246.8 268 L248.2 269.3 L250.2 268.6 L252.2 266 L253.6 268.8 L254.9 270.9 L256.3 272.5 L257.9 271.1 L259.5 271 L261.1 270.1 L262.5 267.7 L263.8 265.6 L265.2 264.4 L266.8 274.1 L268.8 272.8 L270.8 273.3 L272.4 272.4 L274.1 273.7 L275.7 272.5 L277.3 274.9 L278.9 276.4 L280.5 277.4 L282.1 278.6 L283.8 277.8 L285.4 279 L287 278 L288.7 278.2 L290.3 277.4 L291.9 278.7 L293.5 279.8 L295.1 280.6 L296.7 280.6 L298.4 278.9 L300 279.3 L301.7 278.3 L303.4 279.1 L305 279.1 L306.7 278.8 L308.4 279.9 L310 279.5 L311.7 280.8 L313.4 280.9 L315 280 L316.7 278.4 L318.3 277.1 L320 276.7 L321.7 277.4 L323.3 276.5 L325 277 L326.6 276.7 L328.3 275.8 L330 275.4 L331.6 274.8 L333.3 274.8 L335 274.2 L336.7 274.2 L338.3 273.8 L340 274.3 L341.6 275.5 L343.3 275 L345 273.7 L346.7 273.3 L348.3 274.3 L350 273.2 L351.7 273.3 L353.4 267.1 L355 260.8 L356.6 262 L358.3 263.3 L360 253.6 L361.8 252.4 L363.6 251.8 L365.5 257.9 L367.3 261.8 L369.1 265.4 L370.9 270.1 L372.7 274.5 L374.2 275.3 L375.6 277.7 L377.1 278.4 L378.5 280 L380 281.8 L381.6 282.9 L383.2 282.4 L384.8 283.5 L386.4 284.7 L388.1 283.5 L389.7 283.9 L391.3 284.8 L392.9 286.5 L394.5 286.4 L396.1 287.2 L397.8 286.9 L399.4 287.6 L401.1 287.8 L402.7 289 L404 289" stroke="#0000ff" stroke-width="1.6" fill="none" stroke-linejoin="round" />
<path d="M234.4 262 L235.8 263.6 L237.1 265.2 L238.5 266 L240.1 266.1 L241.7 265.9 L243.3 264.4 L244.9 265.7 L246.6 266.9 L248.2 266.8 L250.2 265.4 L252.2 266 L253.6 268.1 L254.9 271.3 L256.3 272.5 L258.3 270.8 L260.3 268.5 L261.7 269.6 L263.1 268 L264.6 269 L266 269.3 L267.6 270.1 L269.2 272.1 L270.8 273.3 L272.4 272.7 L274.1 270.6 L275.7 270.9 L277.3 270.3 L278.9 270.4 L280.5 270.9 L282.1 272.6 L283.8 273.1 L285.4 273.3 L287 272.8 L288.7 274.5 L290.3 274.1 L291.9 274.1 L293.5 276 L295.1 276.6 L296.8 276.6 L298.4 277.2 L300.1 280 L301.7 280 L303.4 279.2 L305 279 L306.6 280.5 L308.3 279.2 L309.8 279.4 L311.4 277.5 L312.9 278.3 L314.5 276.7 L316 276 L317.5 275.7 L319 273.9 L320.5 274.8 L322 273.6 L323.5 273.4 L325 271.7 L326.7 273.1 L328.3 272.3 L330 272.9 L331.6 273 L333.3 274.2 L335 272.9 L336.7 272.2 L338.3 272.3 L340 272.4 L341.7 271.7 L343.4 269.4 L345 269.6 L346.6 267.6 L348.3 266.7 L350 262.9 L351.7 260 L353.1 254.2 L354.5 247 L356.1 243.2 L357.8 239 L359.4 235.6 L361 231.8 L362.5 235.2 L364 236.7 L365.5 241.7 L367 243.6 L368.6 251 L370.2 261.1 L371.8 269 L373.4 272.5 L374.9 273.4 L376.4 277.9 L378 280 L379.6 280.1 L381.3 280.9 L382.9 280 L384.6 280.4 L386.2 281.1 L387.9 283.2 L389.6 281.9 L391.2 283.4 L392.9 284.2 L394.5 283.6 L396.1 285.3 L397.8 284.6 L399.4 285.3 L401.1 286.4 L402.7 287 L404 286" stroke="#00ff00" stroke-width="1.6" fill="none" stroke-linejoin="round" />
<path d="M234.4 256.3 L235.7 257.3 L236.9 257.1 L238.5 259.5 L240.1 260.4 L242.1 260 L244.1 259.6 L245.3 260.7 L246.6 262.8 L248.6 260.5 L250.6 260.4 L251.8 262.4 L253 263.6 L254.7 262.7 L256.3 262 L258.3 265 L260.3 266.8 L261.7 267.4 L263 269.1 L264.4 269.3 L266.4 268.4 L268.4 268.5 L269.8 270.2 L271.1 271.1 L272.5 271.7 L274.5 269.5 L276.5 267.7 L278.5 269.4 L280.5 270.9 L281.9 270.8 L283.2 269.2 L284.6 269.3 L286.6 271.4 L288.6 273.3 L290 275.1 L291.3 275 L292.7 276.6 L294.7 276.5 L296.7 275 L298.4 274.3 L300 273.6 L301.7 271.7 L303.4 273.8 L305 276.7 L306.7 275.8 L308.4 277.4 L310 277.4 L311.7 276.7 L313.4 276 L315 274.7 L316.7 275 L318.4 273.9 L320 274.4 L321.6 273.3 L323.3 273.3 L325 274 L326.6 273 L328.3 272.5 L330 270.8 L331.6 270.7 L333.3 269 L335 268.3 L336.7 268.9 L338.4 268.4 L340 267.1 L341.7 266.7 L343.4 264.5 L345 261.7 L346.7 259.9 L348.3 257.9 L350 255 L351.5 252.2 L353 246.4 L354.5 243.6 L356.3 235.1 L358.2 227.4 L360 219 L361.8 221.9 L363.7 225.9 L365.5 229 L367.2 238.1 L369 249 L370.9 258.8 L372.7 267 L374.5 271.6 L376.4 276 L377.8 276.3 L379.3 278.7 L380.7 279.1 L382.2 280 L383.6 281.8 L385.2 282.5 L386.7 282.6 L388.3 283.5 L389.8 285.7 L391.4 286.2 L392.9 285.4 L394.5 287.3 L396.1 287.2 L397.8 284.8 L399.4 284.7 L401.1 285.2 L402.7 283.6 L404 285" stroke="#ff00ff" stroke-width="1.6" fill="none" stroke-linejoin="round" />
<defs><pattern id="hatch" patternUnits="userSpaceOnUse" width="2.2" height="2.2" patternTransform="rotate(45)"><rect width="2.2" height="2.2" fill="rgba(220,220,220,0.35)"/><path d="M0.5 0 V2.2" stroke="rgba(120,120,120,0.75)" stroke-width="0.6"/></pattern></defs>
<ellipse cx="331" cy="272.5" rx="28.5" ry="19.5" transform="rotate(-14 331 272.5)" fill="url(#hatch)" stroke="#999" stroke-width="0.8"/>
<text transform="translate(315.7,237.3) scale(1,1.08)" font-family="Liberation Sans" font-size="7.2" font-weight="bold" text-anchor="start" fill="#000" >TiON</text>
<path d="M324.9 254.5 L324.9 245" stroke="#222" stroke-width="0.7"/>
<path d="M324.9 242.5 L325.9 245 L323.9 245 Z" fill="#222"/>
<text transform="translate(356.2,201.3) scale(1,1.08)" font-family="Liberation Sans" font-size="6.8" font-weight="bold" text-anchor="start" fill="#000" >TiN</text>
<path d="M360.5 218 L360.5 207.7" stroke="#222" stroke-width="0.7"/>
<path d="M360.5 205.2 L361.5 207.7 L359.5 207.7 Z" fill="#222"/>
<path d="M237.5 198 H253.8" stroke="#000" stroke-width="1.7"/>
<text transform="translate(255.5,200.6) scale(1,1.12)" font-family="Liberation Sans" font-size="7.0" font-weight="bold" text-anchor="start" fill="#000" >0 min</text>
<path d="M237.5 207.2 H253.8" stroke="#ff0000" stroke-width="1.7"/>
<text transform="translate(255.5,209.8) scale(1,1.12)" font-family="Liberation Sans" font-size="7.0" font-weight="bold" text-anchor="start" fill="#000" >5 min</text>
<path d="M237.5 216.5 H253.8" stroke="#0000ff" stroke-width="1.7"/>
<text transform="translate(255.5,219.1) scale(1,1.12)" font-family="Liberation Sans" font-size="7.0" font-weight="bold" text-anchor="start" fill="#000" >10 min</text>
<path d="M237.5 225.8 H253.8" stroke="#00ff00" stroke-width="1.7"/>
<text transform="translate(255.5,228.3) scale(1,1.12)" font-family="Liberation Sans" font-size="7.0" font-weight="bold" text-anchor="start" fill="#000" >15 min</text>
<path d="M237.5 235 H253.8" stroke="#ff00ff" stroke-width="1.7"/>
<text transform="translate(255.5,237.6) scale(1,1.12)" font-family="Liberation Sans" font-size="7.0" font-weight="bold" text-anchor="start" fill="#000" >20 min</text>
<rect x="19.2" y="367.6" width="172.6" height="143.4" fill="none" stroke="#151515" stroke-width="1.3"/>
<path d="M19.2 511 V514 M57.7 511 V514 M96.2 511 V514 M134.7 511 V514 M173.2 511 V514 M38.5 511 V512.8 M77 511 V512.8 M115.5 511 V512.8 M153.9 511 V512.8 M192.4 511 V512.8 " stroke="#1a1a1a" stroke-width="1.1" fill="none"/>
<text transform="translate(19.2,522.3) scale(1,1.08)" font-family="Liberation Sans" font-size="8.4" font-weight="bold" text-anchor="middle" fill="#000" >402</text>
<text transform="translate(57.7,522.3) scale(1,1.08)" font-family="Liberation Sans" font-size="8.4" font-weight="bold" text-anchor="middle" fill="#000" >400</text>
<text transform="translate(96.2,522.3) scale(1,1.08)" font-family="Liberation Sans" font-size="8.4" font-weight="bold" text-anchor="middle" fill="#000" >398</text>
<text transform="translate(134.7,522.3) scale(1,1.08)" font-family="Liberation Sans" font-size="8.4" font-weight="bold" text-anchor="middle" fill="#000" >396</text>
<text transform="translate(173.2,522.3) scale(1,1.08)" font-family="Liberation Sans" font-size="8.4" font-weight="bold" text-anchor="middle" fill="#000" >394</text>
<text transform="translate(109.8,534.3) scale(1,1.08)" font-family="Liberation Sans" font-size="8.5" font-weight="bold" text-anchor="middle" fill="#000" >Binding energy (eV)</text>
<text transform="translate(7.9,436.4) rotate(-90) scale(1,0.95)" x="0" y="0" dy="0.36em" font-family="Liberation Sans" font-size="8.8" font-weight="bold" text-anchor="middle">Intensity, a.u.</text>
<text transform="translate(99.1,545.2) scale(1,1)" font-family="Liberation Serif" font-size="9.5" font-weight="normal" text-anchor="middle" fill="#000" >(g)</text>
<text transform="translate(160.5,380.3) scale(1,1.08)" font-family="Liberation Sans" font-size="9.0" font-weight="bold" text-anchor="start" fill="#000" >N1s</text>
<text transform="translate(160.5,391.1) scale(1,1.08)" font-family="Liberation Sans" font-size="8.5" font-weight="bold" text-anchor="start" fill="#000" >20 min</text>
<text transform="translate(38.6,375.9) scale(1,1.2)" font-family="Liberation Sans" font-size="5.2" font-weight="bold" text-anchor="start" fill="#000" >Experimental</text>
<path d="M24.6 380.4 H37" stroke="#1a1a8c" stroke-width="1.5"/>
<text transform="translate(38.6,382.4) scale(1,1.2)" font-family="Liberation Sans" font-size="5.2" font-weight="bold" text-anchor="start" fill="#000" >Backgroud</text>
<path d="M24.6 387.4 H37" stroke="#9040f0" stroke-width="1.5"/>
<text transform="translate(38.6,389.4) scale(1,1.2)" font-family="Liberation Sans" font-size="5.2" font-weight="bold" text-anchor="start" fill="#000" >Fitted</text>
<path d="M24.6 394.2 H37" stroke="#ff3030" stroke-width="1.5"/>
<text transform="translate(38.6,396.2) scale(1,1.2)" font-family="Liberation Sans" font-size="5.2" font-weight="bold" text-anchor="start" fill="#000" >Ti-N</text>
<path d="M24.6 401 H37" stroke="#2040ff" stroke-width="1.5"/>
<text transform="translate(38.6,403) scale(1,1.2)" font-family="Liberation Sans" font-size="5.2" font-weight="bold" text-anchor="start" fill="#000" >β-N</text>
<path d="M24.6 407.9 H37" stroke="#ff40ff" stroke-width="1.5"/>
<text transform="translate(38.6,409.9) scale(1,1.2)" font-family="Liberation Sans" font-size="5.2" font-weight="bold" text-anchor="start" fill="#000" >O-Ti-N</text>
<path d="M24.6 414.5 H37" stroke="#30a030" stroke-width="1.5"/>
<text transform="translate(38.6,416.5) scale(1,1.2)" font-family="Liberation Sans" font-size="5.2" font-weight="bold" text-anchor="start" fill="#000" >Ti-O-N</text>
<circle cx="31.8" cy="373.9" r="1.4" fill="#111"/>
<path d="M19.5 481.4 L20 481.4 L20.5 481.4 L21 481.4 L21.5 481.4 L22 481.4 L22.5 481.4 L23 481.4 L23.5 481.5 L24 481.5 L24.5 481.5 L25 481.5 L25.5 481.5 L26 481.5 L26.5 481.5 L27 481.5 L27.5 481.5 L28 481.5 L28.5 481.5 L29 481.5 L29.5 481.5 L30 481.5 L30.5 481.5 L31 481.5 L31.5 481.5 L32 481.5 L32.5 481.5 L33 481.5 L33.5 481.5 L34 481.5 L34.5 481.5 L35 481.5 L35.5 481.5 L36 481.5 L36.5 481.5 L37 481.5 L37.5 481.5 L38 481.5 L38.5 481.5 L39 481.4 L39.5 481.4 L40 481.4 L40.5 481.4 L41 481.4 L41.5 481.4 L42 481.3 L42.5 481.3 L43 481.3 L43.5 481.3 L44 481.2 L44.5 481.2 L45 481.1 L45.5 481.1 L46 481.1 L46.5 481 L47 481 L47.5 480.9 L48 480.8 L48.5 480.8 L49 480.7 L49.5 480.6 L50 480.6 L50.5 480.5 L51 480.4 L51.5 480.3 L52 480.2 L52.5 480.1 L53 480 L53.5 479.9 L54 479.8 L54.5 479.7 L55 479.6 L55.5 479.5 L56 479.3 L56.5 479.2 L57 479 L57.5 478.9 L58 478.7 L58.5 478.6 L59 478.4 L59.5 478.3 L60 478.1 L60.5 477.9 L61 477.7 L61.5 477.6 L62 477.4 L62.5 477.2 L63 477 L63.5 476.8 L64 476.6 L64.5 476.4 L65 476.2 L65.5 476 L66 475.8 L66.5 475.6 L67 475.4 L67.5 475.2 L68 475 L68.5 474.8 L69 474.6 L69.5 474.4 L70 474.2 L70.5 474 L71 473.9 L71.5 473.7 L72 473.5 L72.5 473.4 L73 473.2 L73.5 473.1 L74 472.9 L74.5 472.8 L75 472.7 L75.5 472.6 L76 472.5 L76.5 472.4 L77 472.3 L77.5 472.2 L78 472.2 L78.5 472.1 L79 472.1 L79.5 472.1 L80 472.1 L80.5 472.1 L81 472.1 L81.5 472.1 L82 472.2 L82.5 472.2 L83 472.3 L83.5 472.4 L84 472.5 L84.5 472.6 L85 472.7 L85.5 472.8 L86 472.9 L86.5 473.1 L87 473.3 L87.5 473.4 L88 473.6 L88.5 473.8 L89 474 L89.5 474.2 L90 474.4 L90.5 474.7 L91 474.9 L91.5 475.1 L92 475.4 L92.5 475.6 L93 475.9 L93.5 476.2 L94 476.4 L94.5 476.7 L95 477 L95.5 477.2 L96 477.5 L96.5 477.8 L97 478.1 L97.5 478.3 L98 478.6 L98.5 478.9 L99 479.2 L99.5 479.4 L100 479.7 L100.5 480 L101 480.3 L101.5 480.5 L102 480.8 L102.5 481 L103 481.3 L103.5 481.6 L104 481.8 L104.5 482.1 L105 482.3 L105.5 482.5 L106 482.8 L106.5 483 L107 483.2 L107.5 483.4 L108 483.7 L108.5 483.9 L109 484.1 L109.5 484.3 L110 484.5 L110.5 484.7 L111 484.9 L111.5 485 L112 485.2 L112.5 485.4 L113 485.6 L113.5 485.7 L114 485.9 L114.5 486.1 L115 486.2 L115.5 486.4 L116 486.5 L116.5 486.7 L117 486.8 L117.5 487 L118 487.1 L118.5 487.3 L119 487.4 L119.5 487.5 L120 487.7 L120.5 487.8 L121 487.9 L121.5 488.1 L122 488.2 L122.5 488.3 L123 488.5 L123.5 488.6 L124 488.8 L124.5 488.9 L125 489 L125.5 489.2 L126 489.3 L126.5 489.5 L127 489.6 L127.5 489.8 L128 489.9 L128.5 490.1 L129 490.2 L129.5 490.4 L130 490.5 L130.5 490.7 L131 490.8 L131.5 490.9 L132 491.1 L132.5 491.2 L133 491.4 L133.5 491.5 L134 491.6 L134.5 491.8 L135 491.9 L135.5 492 L136 492.1 L136.5 492.3 L137 492.4 L137.5 492.5 L138 492.6 L138.5 492.7 L139 492.8 L139.5 492.9 L140 493 L140.5 493.1 L141 493.2 L141.5 493.2 L142 493.3 L142.5 493.4 L143 493.5 L143.5 493.5 L144 493.6 L144.5 493.7 L145 493.7 L145.5 493.8 L146 493.9 L146.5 493.9 L147 494 L147.5 494 L148 494.1 L148.5 494.1 L149 494.2 L149.5 494.2 L150 494.3 L150.5 494.3 L151 494.4 L151.5 494.4 L152 494.5 L152.5 494.5 L153 494.5 L153.5 494.6 L154 494.6 L154.5 494.7 L155 494.7 L155.5 494.7 L156 494.8 L156.5 494.8 L157 494.8 L157.5 494.9 L158 494.9 L158.5 494.9 L159 494.9 L159.5 495 L160 495 L160.5 495 L161 495.1 L161.5 495.1 L162 495.1 L162.5 495.1 L163 495.2 L163.5 495.2 L164 495.2 L164.5 495.2 L165 495.3 L165.5 495.3 L166 495.3 L166.5 495.3 L167 495.3 L167.5 495.4 L168 495.4 L168.5 495.4 L169 495.4 L169.5 495.4 L170 495.4 L170.5 495.5 L171 495.5 L171.5 495.5 L172 495.5 L172.5 495.5 L173 495.5 L173.5 495.5 L174 495.6 L174.5 495.6 L175 495.6 L175.5 495.6 L176 495.6 L176.5 495.6 L177 495.6 L177.5 495.6 L178 495.7 L178.5 495.7 L179 495.7 L179.5 495.7 L180 495.7 L180.5 495.7 L181 495.7 L181.5 495.7 L182 495.7 L182.5 495.8 L183 495.8 L183.5 495.8 L184 495.8 L184.5 495.8 L185 495.8 L185.5 495.8 L186 495.8 L186.5 495.8 L187 495.9 L187.5 495.9 L188 495.9 L188.5 495.9 L189 495.9 L189.5 495.9 L190 495.9 L190.5 496 L191 496 L191.5 496" stroke="#208a20" stroke-width="1.3" fill="none" stroke-linejoin="round" />
<path d="M19.5 481.4 L20 481.4 L20.5 481.4 L21 481.4 L21.5 481.4 L22 481.4 L22.5 481.4 L23 481.5 L23.5 481.5 L24 481.5 L24.5 481.5 L25 481.5 L25.5 481.5 L26 481.5 L26.5 481.5 L27 481.5 L27.5 481.5 L28 481.5 L28.5 481.5 L29 481.5 L29.5 481.5 L30 481.5 L30.5 481.5 L31 481.6 L31.5 481.6 L32 481.6 L32.5 481.6 L33 481.6 L33.5 481.6 L34 481.6 L34.5 481.6 L35 481.6 L35.5 481.6 L36 481.6 L36.5 481.6 L37 481.6 L37.5 481.6 L38 481.6 L38.5 481.6 L39 481.7 L39.5 481.7 L40 481.7 L40.5 481.7 L41 481.7 L41.5 481.7 L42 481.7 L42.5 481.7 L43 481.7 L43.5 481.7 L44 481.7 L44.5 481.7 L45 481.7 L45.5 481.7 L46 481.7 L46.5 481.8 L47 481.8 L47.5 481.8 L48 481.8 L48.5 481.8 L49 481.8 L49.5 481.8 L50 481.8 L50.5 481.8 L51 481.8 L51.5 481.8 L52 481.8 L52.5 481.8 L53 481.9 L53.5 481.9 L54 481.9 L54.5 481.9 L55 481.9 L55.5 481.9 L56 481.9 L56.5 481.9 L57 481.9 L57.5 481.9 L58 481.9 L58.5 481.9 L59 481.9 L59.5 481.9 L60 482 L60.5 482 L61 482 L61.5 482 L62 482 L62.5 482 L63 482 L63.5 482 L64 482 L64.5 481.9 L65 481.9 L65.5 481.9 L66 481.9 L66.5 481.9 L67 481.9 L67.5 481.9 L68 481.8 L68.5 481.8 L69 481.8 L69.5 481.7 L70 481.7 L70.5 481.7 L71 481.6 L71.5 481.6 L72 481.5 L72.5 481.5 L73 481.4 L73.5 481.3 L74 481.3 L74.5 481.2 L75 481.1 L75.5 481 L76 480.9 L76.5 480.8 L77 480.7 L77.5 480.6 L78 480.5 L78.5 480.3 L79 480.2 L79.5 480 L80 479.9 L80.5 479.7 L81 479.5 L81.5 479.4 L82 479.2 L82.5 479 L83 478.7 L83.5 478.5 L84 478.3 L84.5 478 L85 477.8 L85.5 477.5 L86 477.2 L86.5 476.9 L87 476.6 L87.5 476.3 L88 476 L88.5 475.7 L89 475.3 L89.5 475 L90 474.6 L90.5 474.3 L91 473.9 L91.5 473.5 L92 473.2 L92.5 472.8 L93 472.4 L93.5 472 L94 471.6 L94.5 471.2 L95 470.8 L95.5 470.5 L96 470.1 L96.5 469.7 L97 469.3 L97.5 468.9 L98 468.6 L98.5 468.2 L99 467.9 L99.5 467.5 L100 467.2 L100.5 466.9 L101 466.6 L101.5 466.3 L102 466.1 L102.5 465.8 L103 465.6 L103.5 465.4 L104 465.2 L104.5 465.1 L105 465 L105.5 464.9 L106 464.8 L106.5 464.7 L107 464.7 L107.5 464.7 L108 464.7 L108.5 464.8 L109 464.8 L109.5 465 L110 465.1 L110.5 465.3 L111 465.4 L111.5 465.7 L112 465.9 L112.5 466.2 L113 466.5 L113.5 466.8 L114 467.1 L114.5 467.5 L115 467.8 L115.5 468.2 L116 468.7 L116.5 469.1 L117 469.6 L117.5 470 L118 470.5 L118.5 471 L119 471.5 L119.5 472 L120 472.6 L120.5 473.1 L121 473.7 L121.5 474.2 L122 474.8 L122.5 475.4 L123 475.9 L123.5 476.5 L124 477.1 L124.5 477.7 L125 478.3 L125.5 478.8 L126 479.4 L126.5 480 L127 480.5 L127.5 481.1 L128 481.6 L128.5 482.2 L129 482.7 L129.5 483.2 L130 483.7 L130.5 484.2 L131 484.7 L131.5 485.2 L132 485.7 L132.5 486.1 L133 486.6 L133.5 487 L134 487.4 L134.5 487.8 L135 488.2 L135.5 488.5 L136 488.9 L136.5 489.2 L137 489.6 L137.5 489.9 L138 490.2 L138.5 490.4 L139 490.7 L139.5 491 L140 491.2 L140.5 491.4 L141 491.6 L141.5 491.8 L142 492 L142.5 492.2 L143 492.4 L143.5 492.5 L144 492.7 L144.5 492.8 L145 493 L145.5 493.1 L146 493.2 L146.5 493.4 L147 493.5 L147.5 493.6 L148 493.7 L148.5 493.8 L149 493.8 L149.5 493.9 L150 494 L150.5 494.1 L151 494.1 L151.5 494.2 L152 494.3 L152.5 494.3 L153 494.4 L153.5 494.4 L154 494.5 L154.5 494.5 L155 494.6 L155.5 494.6 L156 494.7 L156.5 494.7 L157 494.8 L157.5 494.8 L158 494.8 L158.5 494.9 L159 494.9 L159.5 494.9 L160 495 L160.5 495 L161 495 L161.5 495.1 L162 495.1 L162.5 495.1 L163 495.1 L163.5 495.2 L164 495.2 L164.5 495.2 L165 495.2 L165.5 495.3 L166 495.3 L166.5 495.3 L167 495.3 L167.5 495.3 L168 495.4 L168.5 495.4 L169 495.4 L169.5 495.4 L170 495.4 L170.5 495.5 L171 495.5 L171.5 495.5 L172 495.5 L172.5 495.5 L173 495.5 L173.5 495.5 L174 495.6 L174.5 495.6 L175 495.6 L175.5 495.6 L176 495.6 L176.5 495.6 L177 495.6 L177.5 495.6 L178 495.7 L178.5 495.7 L179 495.7 L179.5 495.7 L180 495.7 L180.5 495.7 L181 495.7 L181.5 495.7 L182 495.7 L182.5 495.8 L183 495.8 L183.5 495.8 L184 495.8 L184.5 495.8 L185 495.8 L185.5 495.8 L186 495.8 L186.5 495.8 L187 495.9 L187.5 495.9 L188 495.9 L188.5 495.9 L189 495.9 L189.5 495.9 L190 495.9 L190.5 496 L191 496 L191.5 496" stroke="#ff00ff" stroke-width="1.3" fill="none" stroke-linejoin="round" />
<path d="M19.5 481.4 L20 481.4 L20.5 481.4 L21 481.4 L21.5 481.4 L22 481.4 L22.5 481.4 L23 481.5 L23.5 481.5 L24 481.5 L24.5 481.5 L25 481.5 L25.5 481.5 L26 481.5 L26.5 481.5 L27 481.5 L27.5 481.5 L28 481.5 L28.5 481.5 L29 481.5 L29.5 481.5 L30 481.5 L30.5 481.5 L31 481.6 L31.5 481.6 L32 481.6 L32.5 481.6 L33 481.6 L33.5 481.6 L34 481.6 L34.5 481.6 L35 481.6 L35.5 481.6 L36 481.6 L36.5 481.6 L37 481.6 L37.5 481.6 L38 481.6 L38.5 481.6 L39 481.7 L39.5 481.7 L40 481.7 L40.5 481.7 L41 481.7 L41.5 481.7 L42 481.7 L42.5 481.7 L43 481.7 L43.5 481.7 L44 481.7 L44.5 481.7 L45 481.7 L45.5 481.7 L46 481.7 L46.5 481.8 L47 481.8 L47.5 481.8 L48 481.8 L48.5 481.8 L49 481.8 L49.5 481.8 L50 481.8 L50.5 481.8 L51 481.8 L51.5 481.8 L52 481.8 L52.5 481.9 L53 481.9 L53.5 481.9 L54 481.9 L54.5 481.9 L55 481.9 L55.5 481.9 L56 481.9 L56.5 481.9 L57 481.9 L57.5 481.9 L58 482 L58.5 482 L59 482 L59.5 482 L60 482 L60.5 482 L61 482 L61.5 482 L62 482 L62.5 482 L63 482.1 L63.5 482.1 L64 482.1 L64.5 482.1 L65 482.1 L65.5 482.1 L66 482.1 L66.5 482.1 L67 482.1 L67.5 482.1 L68 482.1 L68.5 482.1 L69 482.1 L69.5 482.1 L70 482.1 L70.5 482.1 L71 482.1 L71.5 482.2 L72 482.2 L72.5 482.2 L73 482.2 L73.5 482.2 L74 482.2 L74.5 482.2 L75 482.2 L75.5 482.2 L76 482.2 L76.5 482.2 L77 482.3 L77.5 482.3 L78 482.3 L78.5 482.3 L79 482.3 L79.5 482.3 L80 482.3 L80.5 482.4 L81 482.4 L81.5 482.4 L82 482.4 L82.5 482.5 L83 482.5 L83.5 482.5 L84 482.5 L84.5 482.6 L85 482.6 L85.5 482.6 L86 482.7 L86.5 482.7 L87 482.7 L87.5 482.8 L88 482.8 L88.5 482.9 L89 482.9 L89.5 482.9 L90 483 L90.5 483 L91 483.1 L91.5 483.1 L92 483.2 L92.5 483.2 L93 483.3 L93.5 483.4 L94 483.4 L94.5 483.5 L95 483.5 L95.5 483.6 L96 483.7 L96.5 483.7 L97 483.8 L97.5 483.8 L98 483.9 L98.5 484 L99 484 L99.5 484.1 L100 484.2 L100.5 484.2 L101 484.3 L101.5 484.3 L102 484.4 L102.5 484.5 L103 484.5 L103.5 484.6 L104 484.6 L104.5 484.7 L105 484.7 L105.5 484.8 L106 484.8 L106.5 484.9 L107 484.9 L107.5 484.9 L108 485 L108.5 485 L109 485 L109.5 485 L110 485 L110.5 485.1 L111 485.1 L111.5 485 L112 485 L112.5 485 L113 485 L113.5 485 L114 484.9 L114.5 484.9 L115 484.8 L115.5 484.8 L116 484.7 L116.5 484.6 L117 484.5 L117.5 484.5 L118 484.4 L118.5 484.2 L119 484.1 L119.5 484 L120 483.9 L120.5 483.7 L121 483.6 L121.5 483.4 L122 483.2 L122.5 483.1 L123 482.9 L123.5 482.7 L124 482.5 L124.5 482.4 L125 482.2 L125.5 482 L126 481.8 L126.5 481.6 L127 481.4 L127.5 481.2 L128 481 L128.5 480.8 L129 480.6 L129.5 480.4 L130 480.2 L130.5 480 L131 479.8 L131.5 479.6 L132 479.4 L132.5 479.2 L133 479 L133.5 478.8 L134 478.6 L134.5 478.5 L135 478.3 L135.5 478.2 L136 478 L136.5 477.9 L137 477.8 L137.5 477.7 L138 477.6 L138.5 477.5 L139 477.5 L139.5 477.4 L140 477.4 L140.5 477.3 L141 477.3 L141.5 477.3 L142 477.4 L142.5 477.4 L143 477.5 L143.5 477.6 L144 477.7 L144.5 477.8 L145 477.9 L145.5 478.1 L146 478.2 L146.5 478.4 L147 478.6 L147.5 478.8 L148 479.1 L148.5 479.3 L149 479.6 L149.5 479.9 L150 480.2 L150.5 480.5 L151 480.8 L151.5 481.1 L152 481.5 L152.5 481.8 L153 482.1 L153.5 482.5 L154 482.9 L154.5 483.2 L155 483.6 L155.5 484 L156 484.4 L156.5 484.7 L157 485.1 L157.5 485.5 L158 485.9 L158.5 486.2 L159 486.6 L159.5 487 L160 487.3 L160.5 487.7 L161 488.1 L161.5 488.4 L162 488.7 L162.5 489.1 L163 489.4 L163.5 489.7 L164 490 L164.5 490.3 L165 490.6 L165.5 490.9 L166 491.1 L166.5 491.4 L167 491.7 L167.5 491.9 L168 492.1 L168.5 492.3 L169 492.6 L169.5 492.8 L170 492.9 L170.5 493.1 L171 493.3 L171.5 493.5 L172 493.6 L172.5 493.8 L173 493.9 L173.5 494.1 L174 494.2 L174.5 494.3 L175 494.4 L175.5 494.5 L176 494.6 L176.5 494.7 L177 494.8 L177.5 494.9 L178 495 L178.5 495 L179 495.1 L179.5 495.2 L180 495.2 L180.5 495.3 L181 495.3 L181.5 495.4 L182 495.4 L182.5 495.5 L183 495.5 L183.5 495.5 L184 495.6 L184.5 495.6 L185 495.6 L185.5 495.7 L186 495.7 L186.5 495.7 L187 495.7 L187.5 495.8 L188 495.8 L188.5 495.8 L189 495.8 L189.5 495.9 L190 495.9 L190.5 495.9 L191 495.9 L191.5 495.9" stroke="#0000ff" stroke-width="1.3" fill="none" stroke-linejoin="round" />
<path d="M19.5 481.4 L20 481.4 L20.5 481.4 L21 481.4 L21.5 481.4 L22 481.4 L22.5 481.4 L23 481.5 L23.5 481.5 L24 481.5 L24.5 481.5 L25 481.5 L25.5 481.5 L26 481.5 L26.5 481.5 L27 481.5 L27.5 481.5 L28 481.5 L28.5 481.5 L29 481.5 L29.5 481.5 L30 481.5 L30.5 481.5 L31 481.6 L31.5 481.6 L32 481.6 L32.5 481.6 L33 481.6 L33.5 481.6 L34 481.6 L34.5 481.6 L35 481.6 L35.5 481.6 L36 481.6 L36.5 481.6 L37 481.6 L37.5 481.6 L38 481.6 L38.5 481.6 L39 481.7 L39.5 481.7 L40 481.7 L40.5 481.7 L41 481.7 L41.5 481.7 L42 481.7 L42.5 481.7 L43 481.7 L43.5 481.7 L44 481.7 L44.5 481.7 L45 481.7 L45.5 481.7 L46 481.7 L46.5 481.8 L47 481.8 L47.5 481.8 L48 481.8 L48.5 481.8 L49 481.8 L49.5 481.8 L50 481.8 L50.5 481.8 L51 481.8 L51.5 481.8 L52 481.8 L52.5 481.9 L53 481.9 L53.5 481.9 L54 481.9 L54.5 481.9 L55 481.9 L55.5 481.9 L56 481.9 L56.5 481.9 L57 481.9 L57.5 481.9 L58 482 L58.5 482 L59 482 L59.5 482 L60 482 L60.5 482 L61 482 L61.5 482 L62 482 L62.5 482 L63 482.1 L63.5 482.1 L64 482.1 L64.5 482.1 L65 482.1 L65.5 482.1 L66 482.1 L66.5 482.1 L67 482.1 L67.5 482.1 L68 482.1 L68.5 482.1 L69 482.1 L69.5 482.1 L70 482.1 L70.5 482.1 L71 482.1 L71.5 482.2 L72 482.2 L72.5 482.2 L73 482.2 L73.5 482.2 L74 482.2 L74.5 482.2 L75 482.2 L75.5 482.2 L76 482.2 L76.5 482.2 L77 482.3 L77.5 482.3 L78 482.3 L78.5 482.3 L79 482.3 L79.5 482.3 L80 482.3 L80.5 482.4 L81 482.4 L81.5 482.4 L82 482.4 L82.5 482.5 L83 482.5 L83.5 482.5 L84 482.5 L84.5 482.6 L85 482.6 L85.5 482.6 L86 482.7 L86.5 482.7 L87 482.7 L87.5 482.8 L88 482.8 L88.5 482.9 L89 482.9 L89.5 482.9 L90 483 L90.5 483 L91 483.1 L91.5 483.1 L92 483.2 L92.5 483.2 L93 483.3 L93.5 483.3 L94 483.4 L94.5 483.4 L95 483.5 L95.5 483.5 L96 483.5 L96.5 483.5 L97 483.6 L97.5 483.6 L98 483.6 L98.5 483.6 L99 483.5 L99.5 483.5 L100 483.5 L100.5 483.4 L101 483.3 L101.5 483.1 L102 483 L102.5 482.8 L103 482.5 L103.5 482.3 L104 481.9 L104.5 481.6 L105 481.1 L105.5 480.6 L106 480.1 L106.5 479.4 L107 478.7 L107.5 477.9 L108 477 L108.5 476.1 L109 475 L109.5 473.8 L110 472.6 L110.5 471.2 L111 469.8 L111.5 468.2 L112 466.6 L112.5 464.9 L113 463.1 L113.5 461.2 L114 459.2 L114.5 457.2 L115 455.1 L115.5 452.9 L116 450.8 L116.5 448.6 L117 446.4 L117.5 444.3 L118 442.1 L118.5 440.1 L119 438.1 L119.5 436.2 L120 434.3 L120.5 432.6 L121 431.1 L121.5 429.7 L122 428.5 L122.5 427.5 L123 426.6 L123.5 426 L124 425.6 L124.5 425.4 L125 425.4 L125.5 425.6 L126 426 L126.5 426.5 L127 427.2 L127.5 428 L128 429 L128.5 430.1 L129 431.4 L129.5 432.8 L130 434.3 L130.5 435.9 L131 437.6 L131.5 439.3 L132 441.2 L132.5 443.1 L133 445.1 L133.5 447.1 L134 449.1 L134.5 451.2 L135 453.2 L135.5 455.3 L136 457.3 L136.5 459.3 L137 461.3 L137.5 463.3 L138 465.2 L138.5 467.1 L139 468.9 L139.5 470.6 L140 472.3 L140.5 473.9 L141 475.4 L141.5 476.9 L142 478.3 L142.5 479.6 L143 480.9 L143.5 482 L144 483.1 L144.5 484.2 L145 485.1 L145.5 486 L146 486.8 L146.5 487.6 L147 488.3 L147.5 489 L148 489.6 L148.5 490.1 L149 490.6 L149.5 491.1 L150 491.5 L150.5 491.9 L151 492.2 L151.5 492.5 L152 492.8 L152.5 493.1 L153 493.3 L153.5 493.5 L154 493.7 L154.5 493.8 L155 494 L155.5 494.1 L156 494.2 L156.5 494.3 L157 494.4 L157.5 494.5 L158 494.6 L158.5 494.7 L159 494.7 L159.5 494.8 L160 494.9 L160.5 494.9 L161 495 L161.5 495 L162 495 L162.5 495.1 L163 495.1 L163.5 495.1 L164 495.2 L164.5 495.2 L165 495.2 L165.5 495.3 L166 495.3 L166.5 495.3 L167 495.3 L167.5 495.3 L168 495.4 L168.5 495.4 L169 495.4 L169.5 495.4 L170 495.4 L170.5 495.5 L171 495.5 L171.5 495.5 L172 495.5 L172.5 495.5 L173 495.5 L173.5 495.5 L174 495.6 L174.5 495.6 L175 495.6 L175.5 495.6 L176 495.6 L176.5 495.6 L177 495.6 L177.5 495.6 L178 495.7 L178.5 495.7 L179 495.7 L179.5 495.7 L180 495.7 L180.5 495.7 L181 495.7 L181.5 495.7 L182 495.7 L182.5 495.8 L183 495.8 L183.5 495.8 L184 495.8 L184.5 495.8 L185 495.8 L185.5 495.8 L186 495.8 L186.5 495.8 L187 495.9 L187.5 495.9 L188 495.9 L188.5 495.9 L189 495.9 L189.5 495.9 L190 495.9 L190.5 496 L191 496 L191.5 496" stroke="#ff0000" stroke-width="1.3" fill="none" stroke-linejoin="round" />
<path d="M19.5 481.4 L20 481.4 L20.5 481.4 L21 481.4 L21.5 481.4 L22 481.4 L22.5 481.4 L23 481.5 L23.5 481.5 L24 481.5 L24.5 481.5 L25 481.5 L25.5 481.5 L26 481.5 L26.5 481.5 L27 481.5 L27.5 481.5 L28 481.5 L28.5 481.5 L29 481.5 L29.5 481.5 L30 481.5 L30.5 481.5 L31 481.6 L31.5 481.6 L32 481.6 L32.5 481.6 L33 481.6 L33.5 481.6 L34 481.6 L34.5 481.6 L35 481.6 L35.5 481.6 L36 481.6 L36.5 481.6 L37 481.6 L37.5 481.6 L38 481.6 L38.5 481.6 L39 481.7 L39.5 481.7 L40 481.7 L40.5 481.7 L41 481.7 L41.5 481.7 L42 481.7 L42.5 481.7 L43 481.7 L43.5 481.7 L44 481.7 L44.5 481.7 L45 481.7 L45.5 481.7 L46 481.7 L46.5 481.8 L47 481.8 L47.5 481.8 L48 481.8 L48.5 481.8 L49 481.8 L49.5 481.8 L50 481.8 L50.5 481.8 L51 481.8 L51.5 481.8 L52 481.8 L52.5 481.9 L53 481.9 L53.5 481.9 L54 481.9 L54.5 481.9 L55 481.9 L55.5 481.9 L56 481.9 L56.5 481.9 L57 481.9 L57.5 481.9 L58 482 L58.5 482 L59 482 L59.5 482 L60 482 L60.5 482 L61 482 L61.5 482 L62 482 L62.5 482 L63 482.1 L63.5 482.1 L64 482.1 L64.5 482.1 L65 482.1 L65.5 482.1 L66 482.1 L66.5 482.1 L67 482.1 L67.5 482.1 L68 482.1 L68.5 482.1 L69 482.1 L69.5 482.1 L70 482.1 L70.5 482.1 L71 482.1 L71.5 482.2 L72 482.2 L72.5 482.2 L73 482.2 L73.5 482.2 L74 482.2 L74.5 482.2 L75 482.2 L75.5 482.2 L76 482.2 L76.5 482.2 L77 482.3 L77.5 482.3 L78 482.3 L78.5 482.3 L79 482.3 L79.5 482.3 L80 482.3 L80.5 482.4 L81 482.4 L81.5 482.4 L82 482.4 L82.5 482.5 L83 482.5 L83.5 482.5 L84 482.5 L84.5 482.6 L85 482.6 L85.5 482.6 L86 482.7 L86.5 482.7 L87 482.7 L87.5 482.8 L88 482.8 L88.5 482.9 L89 482.9 L89.5 483 L90 483 L90.5 483.1 L91 483.1 L91.5 483.2 L92 483.2 L92.5 483.3 L93 483.3 L93.5 483.4 L94 483.5 L94.5 483.5 L95 483.6 L95.5 483.6 L96 483.7 L96.5 483.8 L97 483.9 L97.5 483.9 L98 484 L98.5 484.1 L99 484.1 L99.5 484.2 L100 484.3 L100.5 484.4 L101 484.5 L101.5 484.5 L102 484.6 L102.5 484.7 L103 484.8 L103.5 484.9 L104 485 L104.5 485 L105 485.1 L105.5 485.2 L106 485.3 L106.5 485.4 L107 485.5 L107.5 485.6 L108 485.7 L108.5 485.8 L109 485.8 L109.5 485.9 L110 486 L110.5 486.1 L111 486.2 L111.5 486.3 L112 486.4 L112.5 486.5 L113 486.6 L113.5 486.7 L114 486.8 L114.5 486.9 L115 487 L115.5 487.1 L116 487.2 L116.5 487.3 L117 487.4 L117.5 487.5 L118 487.6 L118.5 487.7 L119 487.8 L119.5 487.9 L120 488 L120.5 488.1 L121 488.2 L121.5 488.3 L122 488.4 L122.5 488.5 L123 488.7 L123.5 488.8 L124 488.9 L124.5 489 L125 489.2 L125.5 489.3 L126 489.4 L126.5 489.6 L127 489.7 L127.5 489.9 L128 490 L128.5 490.1 L129 490.3 L129.5 490.4 L130 490.6 L130.5 490.7 L131 490.8 L131.5 491 L132 491.1 L132.5 491.3 L133 491.4 L133.5 491.5 L134 491.7 L134.5 491.8 L135 491.9 L135.5 492 L136 492.2 L136.5 492.3 L137 492.4 L137.5 492.5 L138 492.6 L138.5 492.7 L139 492.8 L139.5 492.9 L140 493 L140.5 493.1 L141 493.2 L141.5 493.3 L142 493.3 L142.5 493.4 L143 493.5 L143.5 493.6 L144 493.6 L144.5 493.7 L145 493.8 L145.5 493.8 L146 493.9 L146.5 493.9 L147 494 L147.5 494 L148 494.1 L148.5 494.1 L149 494.2 L149.5 494.2 L150 494.3 L150.5 494.3 L151 494.4 L151.5 494.4 L152 494.5 L152.5 494.5 L153 494.5 L153.5 494.6 L154 494.6 L154.5 494.7 L155 494.7 L155.5 494.7 L156 494.8 L156.5 494.8 L157 494.8 L157.5 494.9 L158 494.9 L158.5 494.9 L159 494.9 L159.5 495 L160 495 L160.5 495 L161 495.1 L161.5 495.1 L162 495.1 L162.5 495.1 L163 495.2 L163.5 495.2 L164 495.2 L164.5 495.2 L165 495.3 L165.5 495.3 L166 495.3 L166.5 495.3 L167 495.3 L167.5 495.4 L168 495.4 L168.5 495.4 L169 495.4 L169.5 495.4 L170 495.4 L170.5 495.5 L171 495.5 L171.5 495.5 L172 495.5 L172.5 495.5 L173 495.5 L173.5 495.5 L174 495.6 L174.5 495.6 L175 495.6 L175.5 495.6 L176 495.6 L176.5 495.6 L177 495.6 L177.5 495.6 L178 495.7 L178.5 495.7 L179 495.7 L179.5 495.7 L180 495.7 L180.5 495.7 L181 495.7 L181.5 495.7 L182 495.7 L182.5 495.8 L183 495.8 L183.5 495.8 L184 495.8 L184.5 495.8 L185 495.8 L185.5 495.8 L186 495.8 L186.5 495.8 L187 495.9 L187.5 495.9 L188 495.9 L188.5 495.9 L189 495.9 L189.5 495.9 L190 495.9 L190.5 496 L191 496 L191.5 496" stroke="#1a1a8c" stroke-width="1.5" fill="none" stroke-linejoin="round" />
<path d="M19.5 481.4 L20 481.4 L20.5 481.4 L21 481.4 L21.5 481.4 L22 481.4 L22.5 481.4 L23 481.4 L23.5 481.5 L24 481.5 L24.5 481.5 L25 481.5 L25.5 481.5 L26 481.5 L26.5 481.5 L27 481.5 L27.5 481.5 L28 481.5 L28.5 481.5 L29 481.5 L29.5 481.5 L30 481.5 L30.5 481.5 L31 481.5 L31.5 481.5 L32 481.5 L32.5 481.5 L33 481.5 L33.5 481.5 L34 481.5 L34.5 481.5 L35 481.5 L35.5 481.5 L36 481.5 L36.5 481.5 L37 481.5 L37.5 481.5 L38 481.5 L38.5 481.5 L39 481.4 L39.5 481.4 L40 481.4 L40.5 481.4 L41 481.4 L41.5 481.4 L42 481.3 L42.5 481.3 L43 481.3 L43.5 481.3 L44 481.2 L44.5 481.2 L45 481.1 L45.5 481.1 L46 481.1 L46.5 481 L47 481 L47.5 480.9 L48 480.8 L48.5 480.8 L49 480.7 L49.5 480.6 L50 480.6 L50.5 480.5 L51 480.4 L51.5 480.3 L52 480.2 L52.5 480.1 L53 480 L53.5 479.9 L54 479.8 L54.5 479.7 L55 479.6 L55.5 479.4 L56 479.3 L56.5 479.2 L57 479 L57.5 478.9 L58 478.7 L58.5 478.6 L59 478.4 L59.5 478.2 L60 478.1 L60.5 477.9 L61 477.7 L61.5 477.5 L62 477.3 L62.5 477.1 L63 476.9 L63.5 476.7 L64 476.5 L64.5 476.3 L65 476.1 L65.5 475.8 L66 475.6 L66.5 475.4 L67 475.2 L67.5 474.9 L68 474.7 L68.5 474.5 L69 474.3 L69.5 474 L70 473.8 L70.5 473.6 L71 473.3 L71.5 473.1 L72 472.9 L72.5 472.7 L73 472.4 L73.5 472.2 L74 472 L74.5 471.8 L75 471.6 L75.5 471.4 L76 471.2 L76.5 471 L77 470.8 L77.5 470.6 L78 470.4 L78.5 470.2 L79 470 L79.5 469.8 L80 469.6 L80.5 469.4 L81 469.2 L81.5 469.1 L82 468.9 L82.5 468.7 L83 468.5 L83.5 468.4 L84 468.2 L84.5 468 L85 467.8 L85.5 467.7 L86 467.5 L86.5 467.3 L87 467.1 L87.5 467 L88 466.8 L88.5 466.6 L89 466.4 L89.5 466.2 L90 466 L90.5 465.9 L91 465.7 L91.5 465.5 L92 465.3 L92.5 465.1 L93 464.9 L93.5 464.7 L94 464.5 L94.5 464.3 L95 464 L95.5 463.8 L96 463.6 L96.5 463.4 L97 463.2 L97.5 462.9 L98 462.7 L98.5 462.4 L99 462.2 L99.5 461.9 L100 461.7 L100.5 461.4 L101 461.1 L101.5 460.7 L102 460.4 L102.5 460 L103 459.6 L103.5 459.2 L104 458.8 L104.5 458.3 L105 457.7 L105.5 457.1 L106 456.5 L106.5 455.8 L107 455.1 L107.5 454.2 L108 453.4 L108.5 452.4 L109 451.4 L109.5 450.3 L110 449.1 L110.5 447.8 L111 446.5 L111.5 445 L112 443.5 L112.5 441.9 L113 440.2 L113.5 438.5 L114 436.7 L114.5 434.9 L115 433 L115.5 431 L116 429.1 L116.5 427.1 L117 425.2 L117.5 423.2 L118 421.3 L118.5 419.5 L119 417.7 L119.5 416 L120 414.4 L120.5 412.9 L121 411.6 L121.5 410.4 L122 409.4 L122.5 408.6 L123 407.9 L123.5 407.4 L124 407.2 L124.5 407.1 L125 407.3 L125.5 407.7 L126 408.2 L126.5 408.8 L127 409.6 L127.5 410.5 L128 411.6 L128.5 412.7 L129 414.1 L129.5 415.5 L130 417 L130.5 418.6 L131 420.3 L131.5 422.1 L132 424 L132.5 425.9 L133 427.8 L133.5 429.8 L134 431.8 L134.5 433.8 L135 435.9 L135.5 437.9 L136 439.9 L136.5 441.9 L137 443.9 L137.5 445.8 L138 447.7 L138.5 449.6 L139 451.4 L139.5 453.1 L140 454.8 L140.5 456.5 L141 458 L141.5 459.6 L142 461 L142.5 462.4 L143 463.8 L143.5 465 L144 466.2 L144.5 467.4 L145 468.5 L145.5 469.6 L146 470.6 L146.5 471.5 L147 472.4 L147.5 473.3 L148 474.1 L148.5 474.9 L149 475.7 L149.5 476.4 L150 477.1 L150.5 477.7 L151 478.4 L151.5 479 L152 479.6 L152.5 480.2 L153 480.7 L153.5 481.3 L154 481.8 L154.5 482.3 L155 482.8 L155.5 483.3 L156 483.8 L156.5 484.2 L157 484.7 L157.5 485.1 L158 485.5 L158.5 486 L159 486.4 L159.5 486.8 L160 487.2 L160.5 487.6 L161 487.9 L161.5 488.3 L162 488.7 L162.5 489 L163 489.3 L163.5 489.7 L164 490 L164.5 490.3 L165 490.6 L165.5 490.9 L166 491.1 L166.5 491.4 L167 491.6 L167.5 491.9 L168 492.1 L168.5 492.3 L169 492.5 L169.5 492.7 L170 492.9 L170.5 493.1 L171 493.3 L171.5 493.5 L172 493.6 L172.5 493.8 L173 493.9 L173.5 494 L174 494.2 L174.5 494.3 L175 494.4 L175.5 494.5 L176 494.6 L176.5 494.7 L177 494.8 L177.5 494.9 L178 495 L178.5 495 L179 495.1 L179.5 495.2 L180 495.2 L180.5 495.3 L181 495.3 L181.5 495.4 L182 495.4 L182.5 495.5 L183 495.5 L183.5 495.5 L184 495.6 L184.5 495.6 L185 495.6 L185.5 495.7 L186 495.7 L186.5 495.7 L187 495.7 L187.5 495.8 L188 495.8 L188.5 495.8 L189 495.8 L189.5 495.9 L190 495.9 L190.5 495.9 L191 495.9 L191.5 495.9" stroke="#7a2ae0" stroke-width="1.75" fill="none" stroke-linejoin="round" />
<path d="M19.8 483.3 a1.25 1.25 0 1 0 2.5 0 a1.25 1.25 0 1 0 -2.5 0 M24.1 485.6 a1.25 1.25 0 1 0 2.5 0 a1.25 1.25 0 1 0 -2.5 0 M27.9 485.6 a1.25 1.25 0 1 0 2.5 0 a1.25 1.25 0 1 0 -2.5 0 M31.8 479 a1.25 1.25 0 1 0 2.5 0 a1.25 1.25 0 1 0 -2.5 0 M35.6 480 a1.25 1.25 0 1 0 2.5 0 a1.25 1.25 0 1 0 -2.5 0 M39.4 481.8 a1.25 1.25 0 1 0 2.5 0 a1.25 1.25 0 1 0 -2.5 0 M43.2 476.7 a1.25 1.25 0 1 0 2.5 0 a1.25 1.25 0 1 0 -2.5 0 M47 482.4 a1.25 1.25 0 1 0 2.5 0 a1.25 1.25 0 1 0 -2.5 0 M50.8 476.7 a1.25 1.25 0 1 0 2.5 0 a1.25 1.25 0 1 0 -2.5 0 M54.9 481 a1.25 1.25 0 1 0 2.5 0 a1.25 1.25 0 1 0 -2.5 0 M58.4 477.6 a1.25 1.25 0 1 0 2.5 0 a1.25 1.25 0 1 0 -2.5 0 M62.2 474.2 a1.25 1.25 0 1 0 2.5 0 a1.25 1.25 0 1 0 -2.5 0 M66 470.4 a1.25 1.25 0 1 0 2.5 0 a1.25 1.25 0 1 0 -2.5 0 M69.9 476.1 a1.25 1.25 0 1 0 2.5 0 a1.25 1.25 0 1 0 -2.5 0 M73.7 470.4 a1.25 1.25 0 1 0 2.5 0 a1.25 1.25 0 1 0 -2.5 0 M81.7 472.3 a1.25 1.25 0 1 0 2.5 0 a1.25 1.25 0 1 0 -2.5 0 M85.5 469 a1.25 1.25 0 1 0 2.5 0 a1.25 1.25 0 1 0 -2.5 0 M89.6 459.3 a1.25 1.25 0 1 0 2.5 0 a1.25 1.25 0 1 0 -2.5 0 M93.2 464.3 a1.25 1.25 0 1 0 2.5 0 a1.25 1.25 0 1 0 -2.5 0 M97.5 459.3 a1.25 1.25 0 1 0 2.5 0 a1.25 1.25 0 1 0 -2.5 0 M101 456.4 a1.25 1.25 0 1 0 2.5 0 a1.25 1.25 0 1 0 -2.5 0 M105.3 450.7 a1.25 1.25 0 1 0 2.5 0 a1.25 1.25 0 1 0 -2.5 0 M108.9 443.3 a1.25 1.25 0 1 0 2.5 0 a1.25 1.25 0 1 0 -2.5 0 M111.8 430.7 a1.25 1.25 0 1 0 2.5 0 a1.25 1.25 0 1 0 -2.5 0 M115.9 423 a1.25 1.25 0 1 0 2.5 0 a1.25 1.25 0 1 0 -2.5 0 M119.9 406 a1.25 1.25 0 1 0 2.5 0 a1.25 1.25 0 1 0 -2.5 0 M123.9 409 a1.25 1.25 0 1 0 2.5 0 a1.25 1.25 0 1 0 -2.5 0 M130.9 414 a1.25 1.25 0 1 0 2.5 0 a1.25 1.25 0 1 0 -2.5 0 M134.9 434 a1.25 1.25 0 1 0 2.5 0 a1.25 1.25 0 1 0 -2.5 0 M138.9 459 a1.25 1.25 0 1 0 2.5 0 a1.25 1.25 0 1 0 -2.5 0 M143 470.7 a1.25 1.25 0 1 0 2.5 0 a1.25 1.25 0 1 0 -2.5 0 M147.1 468.6 a1.25 1.25 0 1 0 2.5 0 a1.25 1.25 0 1 0 -2.5 0 M151.2 472.7 a1.25 1.25 0 1 0 2.5 0 a1.25 1.25 0 1 0 -2.5 0 M154.6 485 a1.25 1.25 0 1 0 2.5 0 a1.25 1.25 0 1 0 -2.5 0 M158.7 487.7 a1.25 1.25 0 1 0 2.5 0 a1.25 1.25 0 1 0 -2.5 0 M162.1 488.4 a1.25 1.25 0 1 0 2.5 0 a1.25 1.25 0 1 0 -2.5 0 M166.9 489.8 a1.25 1.25 0 1 0 2.5 0 a1.25 1.25 0 1 0 -2.5 0 M170.3 489.8 a1.25 1.25 0 1 0 2.5 0 a1.25 1.25 0 1 0 -2.5 0 M173.7 491.6 a1.25 1.25 0 1 0 2.5 0 a1.25 1.25 0 1 0 -2.5 0 M177.8 488 a1.25 1.25 0 1 0 2.5 0 a1.25 1.25 0 1 0 -2.5 0 M182.6 496.6 a1.25 1.25 0 1 0 2.5 0 a1.25 1.25 0 1 0 -2.5 0 M186 497.3 a1.25 1.25 0 1 0 2.5 0 a1.25 1.25 0 1 0 -2.5 0 M189.4 497.3 a1.25 1.25 0 1 0 2.5 0 a1.25 1.25 0 1 0 -2.5 0 M73.9 470.7 a1.25 1.25 0 1 0 2.5 0 a1.25 1.25 0 1 0 -2.5 0 M81.8 471.4 a1.25 1.25 0 1 0 2.5 0 a1.25 1.25 0 1 0 -2.5 0 M85.8 469.3 a1.25 1.25 0 1 0 2.5 0 a1.25 1.25 0 1 0 -2.5 0 " fill="#1a1a1a"/>
<text transform="translate(137.4,410.2) scale(1,1.08)" font-family="Liberation Sans" font-size="7.25" font-weight="bold" text-anchor="start" fill="#ff2020" >Ti-N (396.5 eV)</text>
<text transform="translate(49.3,429.7) scale(1,1.08)" font-family="Liberation Sans" font-size="7.24" font-weight="bold" text-anchor="start" fill="#ff20ff" >O-Ti-N (397.5 eV)</text>
<text transform="translate(26.6,443.4) scale(1,1.08)" font-family="Liberation Sans" font-size="7.1" font-weight="bold" text-anchor="start" fill="#209020" >Ti-O-N (398.9 eV)</text>
<text transform="translate(141.5,447.1) scale(1,1.08)" font-family="Liberation Sans" font-size="7.4" font-weight="bold" text-anchor="start" fill="#2030ff" >β-N (395.5 eV)</text>
<path d="M133 441 L150.5 417.6" stroke="#ff2020" stroke-width="0.8"/>
<path d="M152.4 415 L151.6 418.4 L149.4 416.7 Z" fill="#ff2020"/>
<path d="M112.9 467.9 L87.6 433.3" stroke="#ff20ff" stroke-width="0.8"/>
<path d="M85.7 430.7 L88.7 432.5 L86.5 434.1 Z" fill="#ff20ff"/>
<path d="M82.8 476.7 L60.9 447.8" stroke="#209020" stroke-width="0.8"/>
<path d="M59 445.2 L62 446.9 L59.8 448.6 Z" fill="#209020"/>
<path d="M145.5 478.2 L160 456.9" stroke="#2030ff" stroke-width="0.8"/>
<path d="M161.8 454.3 L161.2 457.7 L158.8 456.2 Z" fill="#2030ff"/>
</svg>
</body></html>
